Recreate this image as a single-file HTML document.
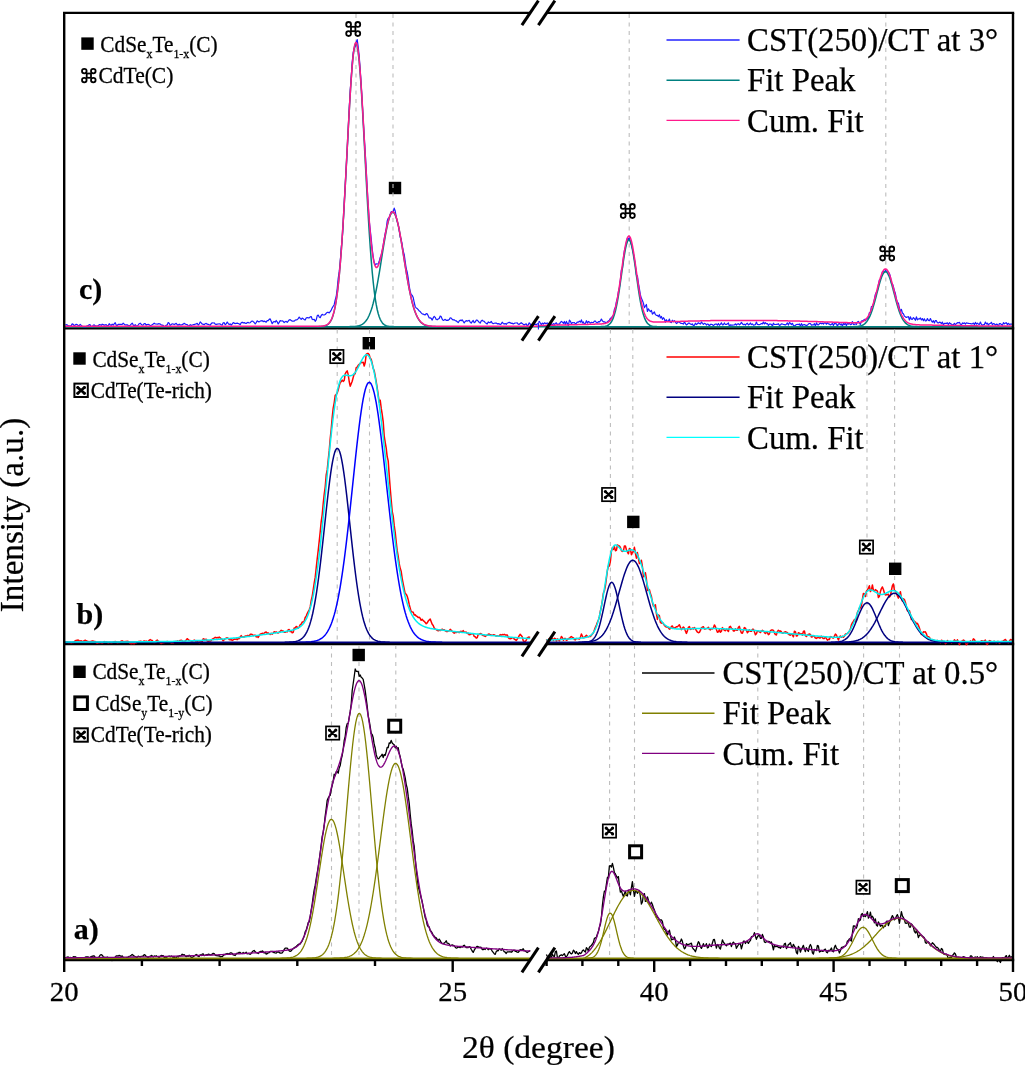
<!DOCTYPE html>
<html lang="en"><head><meta charset="utf-8"><title>XRD patterns</title>
<style>html,body{margin:0;padding:0;background:#fff;overflow:hidden}svg{display:block}text{font-family:'Liberation Serif', 'DejaVu Serif', serif;fill:#000;stroke:#000;stroke-width:0.25px}</style></head>
<body>
<svg width="1025" height="1065" viewBox="0 0 1025 1065" role="img" aria-label="XRD patterns of CST(250)/CT at 0.5, 1 and 3 degree">
<rect x="0" y="0" width="1025" height="1065" fill="#ffffff"/>
<g stroke="#000" stroke-width="2.4" fill="none" stroke-linecap="butt">
<line x1="63" y1="328.4" x2="530.2" y2="328.4"/>
<line x1="546.5" y1="328.4" x2="1014.2" y2="328.4"/>
<line x1="63" y1="644" x2="530.2" y2="644"/>
<line x1="546.5" y1="644" x2="1014.2" y2="644"/>
<line x1="63" y1="960" x2="530.2" y2="960"/>
<line x1="546.5" y1="960" x2="1014.2" y2="960"/>
</g>
<rect x="388.8" y="181.8" width="12.4" height="12.4" fill="#000"/>
<rect x="362.6" y="337" width="12.4" height="12.4" fill="#000"/>
<g stroke="#bdbdbd" stroke-width="1.1" stroke-dasharray="4.1 4.4" fill="none">
<line x1="356" y1="13.9" x2="356" y2="327.4"/>
<line x1="393" y1="13.9" x2="393" y2="327.4"/>
<line x1="629.2" y1="13.9" x2="629.2" y2="327.4"/>
<line x1="885.8" y1="13.9" x2="885.8" y2="327.4"/>
<line x1="337.2" y1="329.4" x2="337.2" y2="643"/>
<line x1="369.5" y1="329.4" x2="369.5" y2="643"/>
<line x1="610.4" y1="329.4" x2="610.4" y2="643"/>
<line x1="632.8" y1="329.4" x2="632.8" y2="643"/>
<line x1="867" y1="329.4" x2="867" y2="643"/>
<line x1="894.6" y1="329.4" x2="894.6" y2="643"/>
<line x1="331.5" y1="645" x2="331.5" y2="959"/>
<line x1="359" y1="645" x2="359" y2="959"/>
<line x1="395.8" y1="645" x2="395.8" y2="959"/>
<line x1="609.6" y1="645" x2="609.6" y2="959"/>
<line x1="634.5" y1="645" x2="634.5" y2="959"/>
<line x1="757.8" y1="645" x2="757.8" y2="959"/>
<line x1="863.6" y1="645" x2="863.6" y2="959"/>
<line x1="899.5" y1="645" x2="899.5" y2="959"/>
</g>
<g fill="none" stroke="#000" stroke-width="1.8">
<rect x="351" y="26.8" width="4.4" height="4.4"/>
<circle cx="348.6" cy="24.4" r="2.4"/>
<circle cx="357.8" cy="24.4" r="2.4"/>
<circle cx="357.8" cy="33.6" r="2.4"/>
<circle cx="348.6" cy="33.6" r="2.4"/>
</g>
<g fill="none" stroke="#000" stroke-width="1.8">
<rect x="625.6" y="208.8" width="4.4" height="4.4"/>
<circle cx="623.2" cy="206.4" r="2.4"/>
<circle cx="632.4" cy="206.4" r="2.4"/>
<circle cx="632.4" cy="215.6" r="2.4"/>
<circle cx="623.2" cy="215.6" r="2.4"/>
</g>
<g fill="none" stroke="#000" stroke-width="1.8">
<rect x="885" y="251.3" width="4.4" height="4.4"/>
<circle cx="882.6" cy="248.9" r="2.4"/>
<circle cx="891.8" cy="248.9" r="2.4"/>
<circle cx="891.8" cy="258.1" r="2.4"/>
<circle cx="882.6" cy="258.1" r="2.4"/>
</g>
<rect x="330.2" y="349.9" width="13.3" height="13.3" fill="#fff" stroke="#000" stroke-width="1.7"/>
<path d="M333.6 353.6L340 359.4M333.6 359.4L340 353.6" stroke="#000" stroke-width="2.2" stroke-linecap="round" fill="none"/>
<circle cx="333.6" cy="353.6" r="1.55" fill="#000"/>
<circle cx="340" cy="353.6" r="1.55" fill="#000"/>
<circle cx="340" cy="359.4" r="1.55" fill="#000"/>
<circle cx="333.6" cy="359.4" r="1.55" fill="#000"/>
<rect x="602" y="487.9" width="13.3" height="13.3" fill="#fff" stroke="#000" stroke-width="1.7"/>
<path d="M605.4 491.6L611.8 497.4M605.4 497.4L611.8 491.6" stroke="#000" stroke-width="2.2" stroke-linecap="round" fill="none"/>
<circle cx="605.4" cy="491.6" r="1.55" fill="#000"/>
<circle cx="611.8" cy="491.6" r="1.55" fill="#000"/>
<circle cx="611.8" cy="497.4" r="1.55" fill="#000"/>
<circle cx="605.4" cy="497.4" r="1.55" fill="#000"/>
<rect x="627.1" y="515.7" width="12.4" height="12.4" fill="#000"/>
<rect x="859.8" y="540.4" width="13.3" height="13.3" fill="#fff" stroke="#000" stroke-width="1.7"/>
<path d="M863.2 544.1L869.6 549.9M863.2 549.9L869.6 544.1" stroke="#000" stroke-width="2.2" stroke-linecap="round" fill="none"/>
<circle cx="863.2" cy="544.1" r="1.55" fill="#000"/>
<circle cx="869.6" cy="544.1" r="1.55" fill="#000"/>
<circle cx="869.6" cy="549.9" r="1.55" fill="#000"/>
<circle cx="863.2" cy="549.9" r="1.55" fill="#000"/>
<rect x="889" y="562.6" width="12.4" height="12.4" fill="#000"/>
<rect x="352.5" y="648.8" width="12.4" height="12.4" fill="#000"/>
<rect x="326" y="726.4" width="13.3" height="13.3" fill="#fff" stroke="#000" stroke-width="1.7"/>
<path d="M329.4 730.1L335.8 735.9M329.4 735.9L335.8 730.1" stroke="#000" stroke-width="2.2" stroke-linecap="round" fill="none"/>
<circle cx="329.4" cy="730.1" r="1.55" fill="#000"/>
<circle cx="335.8" cy="730.1" r="1.55" fill="#000"/>
<circle cx="335.8" cy="735.9" r="1.55" fill="#000"/>
<circle cx="329.4" cy="735.9" r="1.55" fill="#000"/>
<rect x="388.7" y="720.2" width="12" height="12" fill="#fff" stroke="#000" stroke-width="3.0"/>
<rect x="602.8" y="824.4" width="13.3" height="13.3" fill="#fff" stroke="#000" stroke-width="1.7"/>
<path d="M606.2 828.1L612.6 833.9M606.2 833.9L612.6 828.1" stroke="#000" stroke-width="2.2" stroke-linecap="round" fill="none"/>
<circle cx="606.2" cy="828.1" r="1.55" fill="#000"/>
<circle cx="612.6" cy="828.1" r="1.55" fill="#000"/>
<circle cx="612.6" cy="833.9" r="1.55" fill="#000"/>
<circle cx="606.2" cy="833.9" r="1.55" fill="#000"/>
<rect x="629.6" y="845.8" width="12" height="12" fill="#fff" stroke="#000" stroke-width="3.0"/>
<rect x="856.4" y="880.6" width="13.3" height="13.3" fill="#fff" stroke="#000" stroke-width="1.7"/>
<path d="M859.8 884.4L866.2 890.1M859.8 890.1L866.2 884.4" stroke="#000" stroke-width="2.2" stroke-linecap="round" fill="none"/>
<circle cx="859.8" cy="884.4" r="1.55" fill="#000"/>
<circle cx="866.2" cy="884.4" r="1.55" fill="#000"/>
<circle cx="866.2" cy="890.1" r="1.55" fill="#000"/>
<circle cx="859.8" cy="890.1" r="1.55" fill="#000"/>
<rect x="896.3" y="879.6" width="12" height="12" fill="#fff" stroke="#000" stroke-width="3.0"/>
<polyline points="65.2,325 66.2,324.7 67.2,324.9 68.2,325.8 69.2,325.9 70.2,326 71.2,325.6 72.2,323.9 73.2,324.3 74.2,325.7 75.2,325 76.2,324.3 77.2,324.6 78.2,325.5 79.2,325.6 80.2,324.4 81.2,325.4 82.2,326.2 83.2,326.6 84.2,327.2 85.2,327.2 86.2,326.4 87.2,326 88.2,325.6 89.2,324.6 90.2,324.9 91.2,326.8 92.2,327.1 93.2,325.3 94.2,324.8 95.2,325.9 96.2,326.3 97.2,325.9 98.2,326.1 99.2,324.7 100.2,324.6 101.2,325.4 102.2,324.2 103.2,324.6 104.2,325.3 105.2,324.8 106.2,324.7 107.2,325.6 108.2,325.6 109.2,323.7 110.2,324.9 111.2,325.3 112.2,324.1 113.2,325.1 114.2,323.8 115.2,322.7 116.2,325.1 117.2,325.6 118.2,324.3 119.2,324.4 120.2,324.4 121.2,324.3 122.2,324.3 123.2,323.2 124.2,324.1 125.2,325 126.2,324.9 127.2,324.9 128.2,325.4 129.2,326 130.2,325.2 131.2,324.1 132.2,323.1 133.2,324.8 134.2,326.2 135.2,324.7 136.2,325.6 137.2,326.4 138.2,325 139.2,323.7 140.2,323.2 141.2,324.3 142.2,325.1 143.2,325 144.2,323.6 145.2,323.7 146.2,325.1 147.2,324.5 148.2,324.4 149.2,324.8 150.2,325.5 151.2,325.3 152.2,324.8 153.2,324 154.2,323.1 155.2,324 156.2,324 157.2,324.2 158.2,323.9 159.2,323.7 160.2,324 161.2,324.9 162.2,325.1 163.2,325.4 164.2,327.1 165.2,326.1 166.2,325.3 167.2,324.9 168.2,322.6 169.2,323.3 170.2,325.4 171.2,324.6 172.2,323.8 173.2,324 174.2,324.6 175.2,323.9 176.2,323.3 177.2,324.6 178.2,325.1 179.2,324.2 180.2,325 181.2,324.8 182.2,324.6 183.2,324.1 184.2,323.3 185.2,323.9 186.2,324.5 187.2,324.6 188.2,325.7 189.2,326.4 190.2,324.6 191.2,325.4 192.2,325 193.2,324.7 194.2,324.7 195.2,324.1 196.2,324 197.2,323.3 198.2,325 199.2,324.1 200.2,321.9 201.2,322.9 202.2,324.1 203.2,324.2 204.2,324.7 205.2,323.7 206.2,323.4 207.2,324.2 208.2,324.4 209.2,324.8 210.2,325.2 211.2,323.7 212.2,322.8 213.2,323 214.2,322.9 215.2,324.1 216.2,324.4 217.2,324.2 218.2,324 219.2,323.8 220.2,324 221.2,324.8 222.2,325.1 223.2,322.8 224.2,322.7 225.2,324.7 226.2,323.9 227.2,322 228.2,323.3 229.2,324.5 230.2,323.9 231.2,325.1 232.2,324 233.2,322.6 234.2,323.1 235.2,323.6 236.2,323.3 237.2,323.1 238.2,323.5 239.2,323.9 240.2,324.7 241.2,322.8 242.2,322.2 243.2,323 244.2,322.6 245.2,323.1 246.2,323.5 247.2,322.6 248.2,322.4 249.2,323 250.2,322.7 251.2,321.6 252.2,321 253.2,321.6 254.2,322.5 255.2,323.9 256.2,322.6 257.2,320.8 258.2,321.6 259.2,321.9 260.2,321.1 261.2,320.8 262.2,320.6 263.2,321.6 264.2,321.1 265.2,321.6 266.2,322.1 267.2,320.7 268.2,320.6 269.2,319.4 270.2,318.9 271.2,321.2 272.2,323.7 273.2,322.1 274.2,321.5 275.2,322.1 276.2,320.5 277.2,321.8 278.2,324 279.2,322.4 280.2,320.6 281.2,321 282.2,320.9 283.2,321.3 284.2,322.5 285.2,321.8 286.2,321.3 287.2,322.4 288.2,321.1 289.2,319.8 290.2,319.7 291.2,320.4 292.2,321.2 293.2,321.1 294.2,321.2 295.2,320.1 296.2,319.9 297.2,319.7 298.2,318.6 299.2,317.1 300.2,318.4 301.2,319.3 302.2,318.1 303.2,318.7 304.2,319.7 305.2,319.9 306.2,318 307.2,317.5 308.2,317.9 309.2,317.9 310.2,316.9 311.2,316.5 312.2,319.2 313.2,319.6 314.2,319.3 315.2,321.3 316.2,319.9 317.2,315.8 318.2,315.1 319.2,317.1 320.2,317.7 321.2,315.5 322.2,314.3 323.2,315 324.2,314.9 325.2,314.5 326.2,313.3 327.2,312.4 328.2,312.3 329.2,312.9 330.2,311.7 331.2,310.1 332.2,307.9 333.2,306.3 334.2,304.7 335.2,299.9 336.2,296.5 337.2,288.8 338.2,278.3 339.2,271.9 340.2,262.1 341.2,248.6 342.2,239.1 343.2,223.8 344.2,203.3 345.2,185.6 346.2,168.4 347.2,150 348.2,129.6 349.2,108.8 350.2,90.8 351.2,77.5 352.2,62.1 353.2,52.5 354.2,48.5 355.2,46.7 356.2,42.2 357.2,39.6 358.2,46.8 359.2,56.4 360.2,69.8 361.2,84.7 362.2,101.3 363.2,119.2 364.2,136.5 365.2,151.8 366.2,168.8 367.2,188.1 368.2,205.5 369.2,220.3 370.2,229.6 371.2,238.6 372.2,249 373.2,256.5 374.2,262.5 375.2,265 376.2,263.8 377.2,264 378.2,264 379.2,261.3 380.2,257.5 381.2,255.2 382.2,251 383.2,245.1 384.2,238.5 385.2,233.3 386.2,228.8 387.2,221 388.2,218.2 389.2,217.7 390.2,214.3 391.2,211.6 392.2,212.3 393.2,211.6 394.2,208.2 395.2,211 396.2,216.8 397.2,221.3 398.2,224.7 399.2,229.8 400.2,237 401.2,239.3 402.2,244.9 403.2,251.3 404.2,254.4 405.2,261.5 406.2,268.5 407.2,272.1 408.2,278.2 409.2,285.9 410.2,291.5 411.2,294.7 412.2,295.2 413.2,297.4 414.2,302.5 415.2,306.5 416.2,308 417.2,308.6 418.2,309.7 419.2,311 420.2,311.6 421.2,312.9 422.2,313.9 423.2,314.1 424.2,314.7 425.2,314.9 426.2,313.6 427.2,313.9 428.2,315.8 429.2,318 430.2,317.9 431.2,318.4 432.2,320.1 433.2,317.9 434.2,316.3 435.2,317.3 436.2,319.5 437.2,319.8 438.2,319.1 439.2,318.4 440.2,316.1 441.2,316.6 442.2,319.2 443.2,320.5 444.2,320 445.2,319.3 446.2,320.3 447.2,320.2 448.2,320.3 449.2,319.6 450.2,317.9 451.2,318 452.2,319.4 453.2,319.9 454.2,319.8 455.2,320.6 456.2,320.8 457.2,321.7 458.2,322.7 459.2,321 460.2,320.1 461.2,320.7 462.2,319.8 463.2,321.4 464.2,322.9 465.2,321.5 466.2,320.6 467.2,321.1 468.2,320.7 469.2,320.3 470.2,322.1 471.2,323.1 472.2,321.6 473.2,320.5 474.2,322.7 475.2,322.1 476.2,320.2 477.2,320.2 478.2,321.1 479.2,322.4 480.2,323.1 481.2,320.9 482.2,320.2 483.2,321 484.2,321.4 485.2,322.6 486.2,323.4 487.2,323.9 488.2,321.9 489.2,322.6 490.2,322.6 491.2,321.4 492.2,323.1 493.2,323.7 494.2,323.3 495.2,323 496.2,323.1 497.2,323.8 498.2,323.6 499.2,323.8 500.2,324.6 501.2,323.9 502.2,322.2 503.2,323.4 504.2,324.1 505.2,323.5 506.2,324.3 507.2,323.1 508.2,322.8 509.2,322.4 510.2,322.6 511.2,323.5 512.2,323.1 513.2,324 514.2,323.4 515.2,323 516.2,323 517.2,322.9 518.2,324.2 519.2,324.3 520.2,323.5 521.2,322.7 522.2,323.4 523.2,324.2 524.2,324.9 525.2,324.3 526.2,323.9 527.2,325.8 528.2,325 529.2,322.8 530.2,324 531.2,325.6 532.2,325.1 533.2,325.1 534.2,324.3 535.2,324.1 536.2,324.9 537.2,323.9 538.2,323.9" fill="none" stroke="#1a1aff" stroke-width="1.2" stroke-linejoin="round" />
<polyline points="538.4,322.4 539.4,321.5 540.4,323.3 541.4,324.5 542.4,323.1 543.4,324.1 544.4,322.9 545.4,323.4 546.4,323.4 547.4,323 548.4,324.2 549.4,324 550.4,325.3 551.4,323.9 552.4,324.9 553.4,323.6 554.4,324.4 555.4,323.3 556.4,322.9 557.4,324.7 558.4,324.1 559.4,324.2 560.4,322.4 561.4,321.4 562.4,322.2 563.4,323.4 564.4,321.5 565.4,324.5 566.4,321.4 567.4,323.5 568.4,325.7 569.4,320.1 570.4,321.1 571.4,323.8 572.4,322.5 573.4,322.8 574.4,322.5 575.4,324 576.4,323.2 577.4,322 578.4,322.2 579.4,321.1 580.4,322.2 581.4,319.9 582.4,323 583.4,321.9 584.4,324.2 585.4,323.4 586.4,320.7 587.4,323.1 588.4,321.5 589.4,322.1 590.4,323.1 591.4,322.3 592.4,322.5 593.4,322.5 594.4,321.2 595.4,321.2 596.4,322.5 597.4,322.8 598.4,321.6 599.4,322 600.4,320.8 601.4,319.1 602.4,320.9 603.4,321.8 604.4,321.8 605.4,322.4 606.4,322.3 607.4,322 608.4,320.9 609.4,320.3 610.4,318.2 611.4,318.2 612.4,316.4 613.4,315.4 614.4,309.3 615.4,307.4 616.4,301.6 617.4,298.1 618.4,291.6 619.4,287.8 620.4,279.7 621.4,269.6 622.4,268.6 623.4,257.9 624.4,250.6 625.4,247.1 626.4,242 627.4,238 628.4,239.8 629.4,237.9 630.4,241.7 631.4,244.5 632.4,248.8 633.4,253.5 634.4,259.2 635.4,265.3 636.4,274.9 637.4,275.9 638.4,283 639.4,288.8 640.4,294.9 641.4,298.3 642.4,300.5 643.4,303.1 644.4,307.7 645.4,306 646.4,304.5 647.4,311.5 648.4,308.8 649.4,310.3 650.4,311.6 651.4,310.4 652.4,314.1 653.4,313 654.4,312 655.4,314.6 656.4,315.4 657.4,315.3 658.4,316.5 659.4,314.7 660.4,318 661.4,316.5 662.4,319.4 663.4,317.7 664.4,319 665.4,322.2 666.4,319.7 667.4,321.3 668.4,321 669.4,319.1 670.4,322.3 671.4,322.6 672.4,320.2 673.4,321.8 674.4,320.6 675.4,322.1 676.4,323.5 677.4,322.8 678.4,321.7 679.4,322.1 680.4,323.2 681.4,323.3 682.4,323.5 683.4,324.1 684.4,321.6 685.4,323.7 686.4,324.9 687.4,324.3 688.4,323.1 689.4,323.2 690.4,324 691.4,324.6 692.4,323.9 693.4,325.7 694.4,325.3 695.4,323.2 696.4,324.5 697.4,323.7 698.4,322.8 699.4,323.4 700.4,324 701.4,321.9 702.4,323.4 703.4,324.4 704.4,323.3 705.4,323.7 706.4,325 707.4,324 708.4,324.3 709.4,326.1 710.4,324.3 711.4,324.4 712.4,324.5 713.4,325.8 714.4,324.5 715.4,324.1 716.4,324 717.4,325.2 718.4,323.5 719.4,325.3 720.4,324.3 721.4,322.8 722.4,324.8 723.4,324.6 724.4,323 725.4,324.5 726.4,324.4 727.4,323.9 728.4,323 729.4,326.3 730.4,324.9 731.4,325.1 732.4,325.2 733.4,325 734.4,324.9 735.4,323.8 736.4,325 737.4,324 738.4,323.7 739.4,324.8 740.4,324 741.4,322.4 742.4,323.8 743.4,324.7 744.4,324.2 745.4,325 746.4,323.8 747.4,323.2 748.4,324.9 749.4,324.3 750.4,323 751.4,324.6 752.4,323.9 753.4,325.1 754.4,324.9 755.4,324.6 756.4,322 757.4,324.5 758.4,324.6 759.4,324.7 760.4,324.3 761.4,323.5 762.4,323.9 763.4,322.1 764.4,323.9 765.4,322.7 766.4,323.8 767.4,323.5 768.4,325.5 769.4,324.2 770.4,324.2 771.4,324.3 772.4,326.2 773.4,323.2 774.4,324.5 775.4,324.5 776.4,324.4 777.4,324.3 778.4,323.7 779.4,325.4 780.4,325 781.4,323.8 782.4,324 783.4,324.5 784.4,324.7 785.4,324.9 786.4,324.2 787.4,322.9 788.4,325.1 789.4,322.6 790.4,323.3 791.4,324.5 792.4,323.3 793.4,325.5 794.4,325.8 795.4,325.4 796.4,324.5 797.4,324.4 798.4,324.6 799.4,324 800.4,326.2 801.4,323.6 802.4,325.5 803.4,324.8 804.4,324.5 805.4,325.2 806.4,325.4 807.4,325.1 808.4,324.1 809.4,323.5 810.4,323.5 811.4,325.1 812.4,324.9 813.4,325 814.4,323.7 815.4,326.1 816.4,322.9 817.4,324.6 818.4,324.9 819.4,323.8 820.4,323.1 821.4,323.8 822.4,323.1 823.4,324 824.4,322.9 825.4,322.9 826.4,324.2 827.4,322.7 828.4,323.9 829.4,324 830.4,325 831.4,324.4 832.4,323.3 833.4,325.4 834.4,323.4 835.4,323.7 836.4,323.8 837.4,326.2 838.4,324.1 839.4,323.4 840.4,324.8 841.4,323.9 842.4,326.3 843.4,323.3 844.4,324.6 845.4,323.1 846.4,325.7 847.4,323.2 848.4,324.1 849.4,323 850.4,324.7 851.4,324.4 852.4,321.5 853.4,324.5 854.4,324.3 855.4,323.8 856.4,324.4 857.4,322.1 858.4,321.4 859.4,323.6 860.4,324.4 861.4,321.1 862.4,320.7 863.4,320.4 864.4,319.3 865.4,320.6 866.4,318.8 867.4,318.9 868.4,317.4 869.4,312.7 870.4,312.6 871.4,306.5 872.4,306.5 873.4,304.3 874.4,299.1 875.4,294.2 876.4,292.3 877.4,290.9 878.4,284.9 879.4,279.9 880.4,279.4 881.4,276.9 882.4,271.8 883.4,271.3 884.4,272.1 885.4,270.5 886.4,271.4 887.4,270.7 888.4,272.6 889.4,273.3 890.4,276.7 891.4,283.2 892.4,283.7 893.4,286.6 894.4,290.8 895.4,293.5 896.4,299 897.4,302.6 898.4,303 899.4,308 900.4,311.5 901.4,309.4 902.4,313 903.4,313.8 904.4,316.1 905.4,316.9 906.4,317.4 907.4,317 908.4,316.6 909.4,320 910.4,316.8 911.4,319.2 912.4,319.3 913.4,317.6 914.4,318.6 915.4,320.3 916.4,316.8 917.4,319.9 918.4,318.8 919.4,319 920.4,317.9 921.4,320 922.4,318.6 923.4,320.7 924.4,318.8 925.4,321 926.4,320.7 927.4,318.5 928.4,320.4 929.4,320.7 930.4,318.6 931.4,320.8 932.4,322.2 933.4,320.7 934.4,322.9 935.4,320.6 936.4,320.7 937.4,322.7 938.4,322.9 939.4,322.2 940.4,322.4 941.4,323.6 942.4,322.1 943.4,324.9 944.4,323.3 945.4,323.4 946.4,323.4 947.4,322.9 948.4,324.5 949.4,322.7 950.4,323.6 951.4,324.1 952.4,324.9 953.4,324.7 954.4,323.3 955.4,324.6 956.4,323.6 957.4,322.7 958.4,322.8 959.4,322.3 960.4,324.1 961.4,325 962.4,322.9 963.4,323.6 964.4,322.8 965.4,324 966.4,322.8 967.4,323.2 968.4,323.3 969.4,323.5 970.4,323.6 971.4,323.8 972.4,323.8 973.4,323.1 974.4,324.6 975.4,322.4 976.4,324.2 977.4,323.1 978.4,324.2 979.4,324.3 980.4,322.1 981.4,324.4 982.4,325.3 983.4,324.8 984.4,324.4 985.4,322 986.4,323.9 987.4,323.2 988.4,325.1 989.4,323.7 990.4,323.4 991.4,322.3 992.4,324.8 993.4,323.5 994.4,323.8 995.4,325.1 996.4,324.1 997.4,324.4 998.4,326.4 999.4,323.5 1000.4,323.6 1001.4,324.5 1002.4,325.4 1003.4,322.6 1004.4,323.8 1005.4,323.1 1006.4,322.7 1007.4,324.6 1008.4,323.3 1009.4,324.3 1010.4,324.2 1011.4,324.2 1012.4,324.1" fill="none" stroke="#1a1aff" stroke-width="1.2" stroke-linejoin="round" />
<polyline points="317.2,326.7 318.2,326.7 319.2,326.6 320.2,326.6 321.2,326.5 322.2,326.4 323.2,326.3 324.2,326.1 325.2,325.9 326.2,325.5 327.2,324.9 328.2,324.2 329.2,323.2 330.2,321.9 331.2,320.1 332.2,317.9 333.2,314.9 334.2,311.2 335.2,306.6 336.2,300.9 337.2,294 338.2,285.7 339.2,276 340.2,264.8 341.2,252 342.2,237.7 343.2,221.9 344.2,204.9 345.2,186.9 346.2,168.1 347.2,149 348.2,130.1 349.2,111.8 350.2,94.7 351.2,79.3 352.2,66.2 353.2,55.7 354.2,48.2 355.2,44.1 356.2,43.4 357.2,46.1 358.2,52.3 359.2,61.6 360.2,73.8 361.2,88.3 362.2,104.8 363.2,122.7 364.2,141.4 365.2,160.5 366.2,179.4 367.2,197.8 368.2,215.3 369.2,231.6 370.2,246.5 371.2,259.9 372.2,271.7 373.2,282 374.2,290.8 375.2,298.3 376.2,304.4 377.2,309.5 378.2,313.5 379.2,316.8 380.2,319.3 381.2,321.2 382.2,322.7 383.2,323.9 384.2,324.7 385.2,325.3 386.2,325.7 387.2,326 388.2,326.2 389.2,326.4 390.2,326.5 391.2,326.6 392.2,326.6 393.2,326.6 394.2,326.7" fill="none" stroke="#008080" stroke-width="1.5" stroke-linejoin="round" />
<polyline points="348.2,326.7 349.2,326.7 350.2,326.6 351.2,326.6 352.2,326.6 353.2,326.5 354.2,326.5 355.2,326.4 356.2,326.2 357.2,326.1 358.2,325.9 359.2,325.6 360.2,325.3 361.2,324.9 362.2,324.3 363.2,323.6 364.2,322.8 365.2,321.8 366.2,320.5 367.2,319.1 368.2,317.3 369.2,315.2 370.2,312.8 371.2,310 372.2,306.9 373.2,303.3 374.2,299.3 375.2,294.9 376.2,290 377.2,284.8 378.2,279.2 379.2,273.4 380.2,267.3 381.2,261 382.2,254.7 383.2,248.5 384.2,242.4 385.2,236.5 386.2,231.1 387.2,226.1 388.2,221.8 389.2,218.2 390.2,215.4 391.2,213.4 392.2,212.4 393.2,212.3 394.2,213.1 395.2,214.9 396.2,217.5 397.2,221 398.2,225.2 399.2,230 400.2,235.4 401.2,241.2 402.2,247.2 403.2,253.5 404.2,259.8 405.2,266 406.2,272.2 407.2,278.1 408.2,283.7 409.2,289 410.2,293.9 411.2,298.4 412.2,302.5 413.2,306.2 414.2,309.4 415.2,312.3 416.2,314.8 417.2,316.9 418.2,318.7 419.2,320.3 420.2,321.6 421.2,322.6 422.2,323.5 423.2,324.2 424.2,324.8 425.2,325.2 426.2,325.6 427.2,325.8 428.2,326.1 429.2,326.2 430.2,326.3 431.2,326.4 432.2,326.5 433.2,326.6 434.2,326.6 435.2,326.6 436.2,326.7 437.2,326.7" fill="none" stroke="#008080" stroke-width="1.5" stroke-linejoin="round" />
<polyline points="599.4,326.7 600.4,326.7 601.4,326.6 602.4,326.6 603.4,326.5 604.4,326.4 605.4,326.2 606.4,325.9 607.4,325.6 608.4,325 609.4,324.2 610.4,323.2 611.4,321.8 612.4,319.9 613.4,317.6 614.4,314.6 615.4,311 616.4,306.6 617.4,301.5 618.4,295.8 619.4,289.4 620.4,282.5 621.4,275.4 622.4,268.2 623.4,261.2 624.4,254.8 625.4,249.1 626.4,244.7 627.4,241.5 628.4,239.9 629.4,239.9 630.4,241.5 631.4,244.7 632.4,249.1 633.4,254.8 634.4,261.2 635.4,268.2 636.4,275.4 637.4,282.5 638.4,289.4 639.4,295.8 640.4,301.5 641.4,306.6 642.4,311 643.4,314.6 644.4,317.6 645.4,319.9 646.4,321.8 647.4,323.2 648.4,324.2 649.4,325 650.4,325.6 651.4,325.9 652.4,326.2 653.4,326.4 654.4,326.5 655.4,326.6 656.4,326.6 657.4,326.7 658.4,326.7" fill="none" stroke="#008080" stroke-width="1.5" stroke-linejoin="round" />
<polyline points="851.9,326.7 852.9,326.7 853.9,326.6 854.9,326.6 855.9,326.6 856.9,326.5 857.9,326.4 858.9,326.2 859.9,326 860.9,325.8 861.9,325.4 862.9,325 863.9,324.4 864.9,323.6 865.9,322.6 866.9,321.4 867.9,319.9 868.9,318.2 869.9,316.1 870.9,313.7 871.9,310.9 872.9,307.9 873.9,304.6 874.9,301 875.9,297.2 876.9,293.3 877.9,289.5 878.9,285.7 879.9,282.2 880.9,279 881.9,276.3 882.9,274.2 883.9,272.6 884.9,271.8 885.9,271.8 886.9,272.4 887.9,273.8 888.9,275.8 889.9,278.4 890.9,281.5 891.9,285 892.9,288.7 893.9,292.6 894.9,296.4 895.9,300.2 896.9,303.9 897.9,307.2 898.9,310.4 899.9,313.2 900.9,315.6 901.9,317.8 902.9,319.6 903.9,321.1 904.9,322.4 905.9,323.4 906.9,324.2 907.9,324.8 908.9,325.3 909.9,325.7 910.9,326 911.9,326.2 912.9,326.4 913.9,326.5 914.9,326.5 915.9,326.6 916.9,326.6 917.9,326.7 918.9,326.7" fill="none" stroke="#008080" stroke-width="1.5" stroke-linejoin="round" />
<polyline points="64.2,326.7 538.4,326.7" fill="none" stroke="#008080" stroke-width="1.6" stroke-linejoin="round" />
<polyline points="538.4,326.7 1013,326.7" fill="none" stroke="#008080" stroke-width="1.6" stroke-linejoin="round" />
<polyline points="65.2,326.3 65.7,326.3 66.2,326.3 66.7,326.3 67.2,326.3 67.7,326.3 68.2,326.3 68.7,326.3 69.2,326.3 69.7,326.3 70.2,326.3 70.7,326.3 71.2,326.3 71.7,326.3 72.2,326.3 72.7,326.3 73.2,326.3 73.7,326.3 74.2,326.3 74.7,326.3 75.2,326.3 75.7,326.3 76.2,326.3 76.7,326.3 77.2,326.3 77.7,326.3 78.2,326.3 78.7,326.3 79.2,326.3 79.7,326.3 80.2,326.3 80.7,326.3 81.2,326.3 81.7,326.3 82.2,326.3 82.7,326.3 83.2,326.3 83.7,326.3 84.2,326.3 84.7,326.3 85.2,326.3 85.7,326.3 86.2,326.3 86.7,326.3 87.2,326.3 87.7,326.3 88.2,326.3 88.7,326.3 89.2,326.3 89.7,326.3 90.2,326.3 90.7,326.3 91.2,326.3 91.7,326.3 92.2,326.3 92.7,326.3 93.2,326.3 93.7,326.3 94.2,326.3 94.7,326.3 95.2,326.3 95.7,326.3 96.2,326.3 96.7,326.3 97.2,326.3 97.7,326.3 98.2,326.3 98.7,326.3 99.2,326.3 99.7,326.3 100.2,326.3 100.7,326.3 101.2,326.3 101.7,326.3 102.2,326.3 102.7,326.3 103.2,326.3 103.7,326.3 104.2,326.3 104.7,326.3 105.2,326.3 105.7,326.3 106.2,326.3 106.7,326.3 107.2,326.3 107.7,326.3 108.2,326.3 108.7,326.3 109.2,326.3 109.7,326.3 110.2,326.3 110.7,326.3 111.2,326.3 111.7,326.3 112.2,326.3 112.7,326.3 113.2,326.3 113.7,326.3 114.2,326.3 114.7,326.3 115.2,326.3 115.7,326.3 116.2,326.3 116.7,326.3 117.2,326.3 117.7,326.3 118.2,326.3 118.7,326.3 119.2,326.3 119.7,326.3 120.2,326.3 120.7,326.3 121.2,326.3 121.7,326.3 122.2,326.3 122.7,326.3 123.2,326.3 123.7,326.3 124.2,326.3 124.7,326.3 125.2,326.3 125.7,326.3 126.2,326.3 126.7,326.3 127.2,326.3 127.7,326.3 128.2,326.3 128.7,326.3 129.2,326.3 129.7,326.3 130.2,326.3 130.7,326.3 131.2,326.3 131.7,326.3 132.2,326.3 132.7,326.3 133.2,326.3 133.7,326.3 134.2,326.3 134.7,326.3 135.2,326.3 135.7,326.3 136.2,326.3 136.7,326.3 137.2,326.3 137.7,326.3 138.2,326.3 138.7,326.3 139.2,326.3 139.7,326.3 140.2,326.3 140.7,326.3 141.2,326.3 141.7,326.3 142.2,326.3 142.7,326.3 143.2,326.3 143.7,326.3 144.2,326.3 144.7,326.3 145.2,326.3 145.7,326.3 146.2,326.3 146.7,326.3 147.2,326.3 147.7,326.3 148.2,326.3 148.7,326.3 149.2,326.3 149.7,326.3 150.2,326.3 150.7,326.3 151.2,326.3 151.7,326.3 152.2,326.3 152.7,326.3 153.2,326.3 153.7,326.3 154.2,326.3 154.7,326.3 155.2,326.3 155.7,326.3 156.2,326.3 156.7,326.3 157.2,326.3 157.7,326.3 158.2,326.3 158.7,326.3 159.2,326.3 159.7,326.3 160.2,326.3 160.7,326.3 161.2,326.3 161.7,326.3 162.2,326.3 162.7,326.3 163.2,326.3 163.7,326.3 164.2,326.3 164.7,326.3 165.2,326.3 165.7,326.3 166.2,326.3 166.7,326.3 167.2,326.3 167.7,326.3 168.2,326.3 168.7,326.3 169.2,326.3 169.7,326.3 170.2,326.3 170.7,326.3 171.2,326.3 171.7,326.3 172.2,326.3 172.7,326.3 173.2,326.3 173.7,326.3 174.2,326.3 174.7,326.3 175.2,326.3 175.7,326.3 176.2,326.3 176.7,326.3 177.2,326.3 177.7,326.3 178.2,326.3 178.7,326.3 179.2,326.3 179.7,326.3 180.2,326.3 180.7,326.3 181.2,326.3 181.7,326.3 182.2,326.3 182.7,326.3 183.2,326.3 183.7,326.3 184.2,326.3 184.7,326.3 185.2,326.3 185.7,326.3 186.2,326.3 186.7,326.3 187.2,326.3 187.7,326.3 188.2,326.3 188.7,326.3 189.2,326.3 189.7,326.3 190.2,326.3 190.7,326.3 191.2,326.3 191.7,326.3 192.2,326.3 192.7,326.3 193.2,326.3 193.7,326.3 194.2,326.3 194.7,326.3 195.2,326.3 195.7,326.3 196.2,326.3 196.7,326.3 197.2,326.3 197.7,326.3 198.2,326.3 198.7,326.3 199.2,326.3 199.7,326.3 200.2,326.3 200.7,326.3 201.2,326.3 201.7,326.3 202.2,326.3 202.7,326.3 203.2,326.3 203.7,326.3 204.2,326.3 204.7,326.3 205.2,326.3 205.7,326.3 206.2,326.3 206.7,326.3 207.2,326.3 207.7,326.3 208.2,326.3 208.7,326.3 209.2,326.3 209.7,326.3 210.2,326.3 210.7,326.3 211.2,326.3 211.7,326.3 212.2,326.3 212.7,326.3 213.2,326.3 213.7,326.3 214.2,326.3 214.7,326.3 215.2,326.3 215.7,326.3 216.2,326.3 216.7,326.3 217.2,326.3 217.7,326.3 218.2,326.3 218.7,326.3 219.2,326.3 219.7,326.3 220.2,326.3 220.7,326.3 221.2,326.3 221.7,326.3 222.2,326.3 222.7,326.3 223.2,326.3 223.7,326.3 224.2,326.3 224.7,326.3 225.2,326.3 225.7,326.3 226.2,326.3 226.7,326.3 227.2,326.3 227.7,326.3 228.2,326.3 228.7,326.3 229.2,326.3 229.7,326.3 230.2,326.3 230.7,326.3 231.2,326.3 231.7,326.3 232.2,326.3 232.7,326.3 233.2,326.3 233.7,326.3 234.2,326.3 234.7,326.3 235.2,326.3 235.7,326.3 236.2,326.3 236.7,326.3 237.2,326.3 237.7,326.3 238.2,326.3 238.7,326.3 239.2,326.3 239.7,326.3 240.2,326.3 240.7,326.3 241.2,326.3 241.7,326.3 242.2,326.3 242.7,326.3 243.2,326.3 243.7,326.3 244.2,326.3 244.7,326.3 245.2,326.3 245.7,326.3 246.2,326.3 246.7,326.3 247.2,326.3 247.7,326.3 248.2,326.3 248.7,326.3 249.2,326.3 249.7,326.3 250.2,326.3 250.7,326.3 251.2,326.3 251.7,326.3 252.2,326.3 252.7,326.3 253.2,326.3 253.7,326.3 254.2,326.3 254.7,326.3 255.2,326.3 255.7,326.3 256.2,326.3 256.7,326.3 257.2,326.3 257.7,326.3 258.2,326.3 258.7,326.3 259.2,326.3 259.7,326.3 260.2,326.3 260.7,326.3 261.2,326.3 261.7,326.3 262.2,326.3 262.7,326.3 263.2,326.3 263.7,326.3 264.2,326.3 264.7,326.3 265.2,326.3 265.7,326.3 266.2,326.3 266.7,326.3 267.2,326.3 267.7,326.3 268.2,326.3 268.7,326.3 269.2,326.3 269.7,326.3 270.2,326.3 270.7,326.3 271.2,326.3 271.7,326.3 272.2,326.3 272.7,326.3 273.2,326.3 273.7,326.3 274.2,326.3 274.7,326.3 275.2,326.3 275.7,326.3 276.2,326.3 276.7,326.3 277.2,326.3 277.7,326.3 278.2,326.3 278.7,326.3 279.2,326.3 279.7,326.3 280.2,326.3 280.7,326.3 281.2,326.3 281.7,326.3 282.2,326.3 282.7,326.3 283.2,326.3 283.7,326.3 284.2,326.3 284.7,326.3 285.2,326.3 285.7,326.3 286.2,326.3 286.7,326.3 287.2,326.3 287.7,326.3 288.2,326.3 288.7,326.3 289.2,326.3 289.7,326.3 290.2,326.3 290.7,326.3 291.2,326.3 291.7,326.3 292.2,326.3 292.7,326.3 293.2,326.3 293.7,326.3 294.2,326.3 294.7,326.3 295.2,326.3 295.7,326.3 296.2,326.3 296.7,326.3 297.2,326.3 297.7,326.3 298.2,326.3 298.7,326.3 299.2,326.3 299.7,326.3 300.2,326.3 300.7,326.3 301.2,326.3 301.7,326.3 302.2,326.3 302.7,326.3 303.2,326.3 303.7,326.3 304.2,326.3 304.7,326.3 305.2,326.3 305.7,326.3 306.2,326.3 306.7,326.3 307.2,326.3 307.7,326.3 308.2,326.3 308.7,326.3 309.2,326.3 309.7,326.3 310.2,326.3 310.7,326.3 311.2,326.3 311.7,326.3 312.2,326.3 312.7,326.3 313.2,326.3 313.7,326.3 314.2,326.3 314.7,326.3 315.2,326.3 315.7,326.3 316.2,326.3 316.7,326.3 317.2,326.3 317.7,326.3 318.2,326.3 318.7,326.3 319.2,326.3 319.7,326.3 320.2,326.2 320.7,326.2 321.2,326.2 321.7,326.1 322.2,326.1 322.7,326 323.2,326 323.7,325.9 324.2,325.8 324.7,325.7 325.2,325.5 325.7,325.3 326.2,325.1 326.7,324.9 327.2,324.6 327.7,324.3 328.2,323.9 328.7,323.4 329.2,322.9 329.7,322.3 330.2,321.5 330.7,320.7 331.2,319.8 331.7,318.7 332.2,317.5 332.7,316.1 333.2,314.6 333.7,312.8 334.2,310.9 334.7,308.7 335.2,306.2 335.7,303.5 336.2,300.5 336.7,297.2 337.2,293.6 337.7,289.7 338.2,285.4 338.7,280.7 339.2,275.7 339.7,270.2 340.2,264.4 340.7,258.2 341.2,251.7 341.7,244.7 342.2,237.3 342.7,229.6 343.2,221.6 343.7,213.2 344.2,204.6 344.7,195.6 345.2,186.5 345.7,177.2 346.2,167.7 346.7,158.2 347.2,148.6 347.7,139.1 348.2,129.7 348.7,120.4 349.2,111.4 349.7,102.7 350.2,94.3 350.7,86.4 351.2,78.9 351.7,72 352.2,65.7 352.7,60.1 353.2,55.1 353.7,51 354.2,47.6 354.7,45.1 355.2,43.4 355.7,42.5 356.2,42.6 356.7,43.4 357.2,45.2 357.7,47.8 358.2,51.1 358.7,55.3 359.2,60.2 359.7,65.8 360.2,72 360.7,78.8 361.2,86.1 361.7,93.9 362.2,102.1 362.7,110.5 363.2,119.3 363.7,128.2 364.2,137.2 364.7,146.2 365.2,155.2 365.7,164.1 366.2,172.9 366.7,181.5 367.2,189.8 367.7,197.8 368.2,205.5 368.7,212.8 369.2,219.8 369.7,226.2 370.2,232.2 370.7,237.8 371.2,242.9 371.7,247.4 372.2,251.5 372.7,255.1 373.2,258.3 373.7,260.9 374.2,263.1 374.7,264.8 375.2,266.1 375.7,266.9 376.2,267.4 376.7,267.5 377.2,267.2 377.7,266.6 378.2,265.7 378.7,264.5 379.2,263.1 379.7,261.4 380.2,259.5 380.7,257.5 381.2,255.2 381.7,252.9 382.2,250.4 382.7,247.9 383.2,245.3 383.7,242.6 384.2,240 384.7,237.3 385.2,234.7 385.7,232.2 386.2,229.7 386.7,227.4 387.2,225.1 387.7,223 388.2,221 388.7,219.2 389.2,217.5 389.7,216.1 390.2,214.8 390.7,213.8 391.2,212.9 391.7,212.3 392.2,211.9 392.7,211.8 393.2,211.9 393.7,212.2 394.2,212.7 394.7,213.5 395.2,214.5 395.7,215.7 396.2,217.2 396.7,218.8 397.2,220.6 397.7,222.7 398.2,224.8 398.7,227.2 399.2,229.7 399.7,232.3 400.2,235 400.7,237.9 401.2,240.8 401.7,243.8 402.2,246.9 402.7,250 403.2,253.1 403.7,256.3 404.2,259.4 404.7,262.6 405.2,265.7 405.7,268.8 406.2,271.8 406.7,274.8 407.2,277.7 407.7,280.6 408.2,283.4 408.7,286.1 409.2,288.7 409.7,291.2 410.2,293.6 410.7,295.9 411.2,298.1 411.7,300.2 412.2,302.2 412.7,304.1 413.2,305.8 413.7,307.5 414.2,309.1 414.7,310.6 415.2,312 415.7,313.2 416.2,314.4 416.7,315.5 417.2,316.6 417.7,317.5 418.2,318.4 418.7,319.2 419.2,319.9 419.7,320.6 420.2,321.2 420.7,321.8 421.2,322.3 421.7,322.7 422.2,323.1 422.7,323.5 423.2,323.8 423.7,324.1 424.2,324.4 424.7,324.6 425.2,324.9 425.7,325 426.2,325.2 426.7,325.4 427.2,325.5 427.7,325.6 428.2,325.7 428.7,325.8 429.2,325.9 429.7,325.9 430.2,326 430.7,326 431.2,326.1 431.7,326.1 432.2,326.2 432.7,326.2 433.2,326.2 433.7,326.2 434.2,326.3 434.7,326.3 435.2,326.3 435.7,326.3 436.2,326.3 436.7,326.3 437.2,326.3 437.7,326.3 438.2,326.3 438.7,326.3 439.2,326.3 439.7,326.3 440.2,326.3 440.7,326.3 441.2,326.3 441.7,326.3 442.2,326.3 442.7,326.3 443.2,326.3 443.7,326.3 444.2,326.3 444.7,326.3 445.2,326.3 445.7,326.3 446.2,326.3 446.7,326.3 447.2,326.3 447.7,326.3 448.2,326.3 448.7,326.3 449.2,326.3 449.7,326.3 450.2,326.3 450.7,326.3 451.2,326.3 451.7,326.3 452.2,326.3 452.7,326.3 453.2,326.3 453.7,326.3 454.2,326.3 454.7,326.3 455.2,326.3 455.7,326.3 456.2,326.3 456.7,326.3 457.2,326.3 457.7,326.3 458.2,326.3 458.7,326.3 459.2,326.3 459.7,326.3 460.2,326.3 460.7,326.3 461.2,326.3 461.7,326.3 462.2,326.3 462.7,326.3 463.2,326.3 463.7,326.3 464.2,326.3 464.7,326.3 465.2,326.3 465.7,326.3 466.2,326.3 466.7,326.3 467.2,326.3 467.7,326.3 468.2,326.3 468.7,326.3 469.2,326.3 469.7,326.3 470.2,326.3 470.7,326.3 471.2,326.3 471.7,326.3 472.2,326.3 472.7,326.3 473.2,326.3 473.7,326.3 474.2,326.3 474.7,326.3 475.2,326.3 475.7,326.3 476.2,326.3 476.7,326.3 477.2,326.3 477.7,326.3 478.2,326.3 478.7,326.3 479.2,326.3 479.7,326.3 480.2,326.3 480.7,326.3 481.2,326.3 481.7,326.3 482.2,326.3 482.7,326.3 483.2,326.3 483.7,326.3 484.2,326.3 484.7,326.3 485.2,326.3 485.7,326.3 486.2,326.3 486.7,326.3 487.2,326.3 487.7,326.3 488.2,326.3 488.7,326.3 489.2,326.3 489.7,326.3 490.2,326.3 490.7,326.3 491.2,326.3 491.7,326.3 492.2,326.3 492.7,326.3 493.2,326.3 493.7,326.3 494.2,326.3 494.7,326.3 495.2,326.3 495.7,326.3 496.2,326.3 496.7,326.3 497.2,326.3 497.7,326.3 498.2,326.3 498.7,326.3 499.2,326.3 499.7,326.3 500.2,326.3 500.7,326.3 501.2,326.3 501.7,326.3 502.2,326.3 502.7,326.3 503.2,326.3 503.7,326.3 504.2,326.3 504.7,326.3 505.2,326.3 505.7,326.3 506.2,326.3 506.7,326.3 507.2,326.3 507.7,326.3 508.2,326.3 508.7,326.3 509.2,326.3 509.7,326.3 510.2,326.3 510.7,326.3 511.2,326.3 511.7,326.3 512.2,326.3 512.7,326.3 513.2,326.3 513.7,326.3 514.2,326.3 514.7,326.3 515.2,326.3 515.7,326.3 516.2,326.3 516.7,326.3 517.2,326.3 517.7,326.3 518.2,326.3 518.7,326.3 519.2,326.3 519.7,326.3 520.2,326.3 520.7,326.3 521.2,326.3 521.7,326.3 522.2,326.3 522.7,326.3 523.2,326.3 523.7,326.3 524.2,326.3 524.7,326.3 525.2,326.3 525.7,326.3 526.2,326.3 526.7,326.3 527.2,326.3 527.7,326.3 528.2,326.3 528.7,326.3 529.2,326.3 529.7,326.3 530.2,326.3 530.7,326.3 531.2,326.3 531.7,326.3 532.2,326.3 532.7,326.3 533.2,326.3 533.7,326.3 534.2,326.3 534.7,326.3 535.2,326.3 535.7,326.3 536.2,326.3 536.7,326.3 537.2,326.3 537.7,326.3 538.2,326.3 538.7,325.5 539.2,325.5 539.7,325.4 540.2,325.4 540.7,325.4 541.2,325.4 541.7,325.4 542.2,325.4 542.7,325.4 543.2,325.4 543.7,325.4 544.2,325.4 544.7,325.4 545.2,325.4 545.7,325.3 546.2,325.3 546.7,325.3 547.2,325.3 547.7,325.3 548.2,325.3 548.7,325.3 549.2,325.3 549.7,325.3 550.2,325.3 550.7,325.2 551.2,325.2 551.7,325.2 552.2,325.2 552.7,325.2 553.2,325.2 553.7,325.2 554.2,325.2 554.7,325.2 555.2,325.2 555.7,325.1 556.2,325.1 556.7,325.1 557.2,325.1 557.7,325.1 558.2,325.1 558.7,325.1 559.2,325.1 559.7,325.1 560.2,325.1 560.7,325 561.2,325 561.7,325 562.2,325 562.7,325 563.2,325 563.7,325 564.2,325 564.7,325 565.2,324.9 565.7,324.9 566.2,324.9 566.7,324.9 567.2,324.9 567.7,324.9 568.2,324.9 568.7,324.9 569.2,324.8 569.7,324.8 570.2,324.8 570.7,324.8 571.2,324.8 571.7,324.8 572.2,324.8 572.7,324.8 573.2,324.8 573.7,324.7 574.2,324.7 574.7,324.7 575.2,324.7 575.7,324.7 576.2,324.7 576.7,324.7 577.2,324.7 577.7,324.6 578.2,324.6 578.7,324.6 579.2,324.6 579.7,324.6 580.2,324.6 580.7,324.6 581.2,324.5 581.7,324.5 582.2,324.5 582.7,324.5 583.2,324.5 583.7,324.5 584.2,324.5 584.7,324.5 585.2,324.4 585.7,324.4 586.2,324.4 586.7,324.4 587.2,324.4 587.7,324.4 588.2,324.4 588.7,324.3 589.2,324.3 589.7,324.3 590.2,324.3 590.7,324.3 591.2,324.3 591.7,324.3 592.2,324.2 592.7,324.2 593.2,324.2 593.7,324.2 594.2,324.2 594.7,324.2 595.2,324.1 595.7,324.1 596.2,324.1 596.7,324.1 597.2,324.1 597.7,324.1 598.2,324 598.7,324 599.2,324 599.7,324 600.2,324 600.7,323.9 601.2,323.9 601.7,323.9 602.2,323.8 602.7,323.8 603.2,323.7 603.7,323.7 604.2,323.6 604.7,323.5 605.2,323.4 605.7,323.3 606.2,323.1 606.7,322.9 607.2,322.7 607.7,322.5 608.2,322.2 608.7,321.8 609.2,321.4 609.7,321 610.2,320.4 610.7,319.8 611.2,319 611.7,318.2 612.2,317.3 612.7,316.2 613.2,315 613.7,313.6 614.2,312.1 614.7,310.4 615.2,308.5 615.7,306.5 616.2,304.3 616.7,301.9 617.2,299.4 617.7,296.6 618.2,293.7 618.7,290.6 619.2,287.4 619.7,284 620.2,280.6 620.7,277 621.2,273.4 621.7,269.8 622.2,266.2 622.7,262.6 623.2,259.1 623.7,255.8 624.2,252.5 624.7,249.5 625.2,246.7 625.7,244.2 626.2,241.9 626.7,240 627.2,238.5 627.7,237.3 628.2,236.5 628.7,236.1 629.2,236.2 629.7,236.6 630.2,237.4 630.7,238.6 631.2,240.2 631.7,242.2 632.2,244.4 632.7,247 633.2,249.8 633.7,252.8 634.2,256.1 634.7,259.4 635.2,262.9 635.7,266.5 636.2,270 636.7,273.6 637.2,277.2 637.7,280.7 638.2,284.1 638.7,287.4 639.2,290.5 639.7,293.5 640.2,296.4 640.7,299.1 641.2,301.6 641.7,303.9 642.2,306 642.7,308 643.2,309.8 643.7,311.4 644.2,312.8 644.7,314.1 645.2,315.3 645.7,316.3 646.2,317.2 646.7,318 647.2,318.7 647.7,319.2 648.2,319.7 648.7,320.2 649.2,320.5 649.7,320.8 650.2,321.1 650.7,321.3 651.2,321.5 651.7,321.6 652.2,321.7 652.7,321.8 653.2,321.9 653.7,321.9 654.2,322 654.7,322 655.2,322 655.7,322 656.2,322 656.7,322 657.2,322 657.7,322 658.2,322 658.7,322 659.2,322 659.7,322 660.2,322 660.7,322 661.2,321.9 661.7,321.9 662.2,321.9 662.7,321.9 663.2,321.9 663.7,321.9 664.2,321.9 664.7,321.8 665.2,321.8 665.7,321.8 666.2,321.8 666.7,321.8 667.2,321.8 667.7,321.7 668.2,321.7 668.7,321.7 669.2,321.7 669.7,321.7 670.2,321.7 670.7,321.6 671.2,321.6 671.7,321.6 672.2,321.6 672.7,321.6 673.2,321.6 673.7,321.6 674.2,321.5 674.7,321.5 675.2,321.5 675.7,321.5 676.2,321.5 676.7,321.5 677.2,321.4 677.7,321.4 678.2,321.4 678.7,321.4 679.2,321.4 679.7,321.4 680.2,321.4 680.7,321.3 681.2,321.3 681.7,321.3 682.2,321.3 682.7,321.3 683.2,321.3 683.7,321.3 684.2,321.2 684.7,321.2 685.2,321.2 685.7,321.2 686.2,321.2 686.7,321.2 687.2,321.2 687.7,321.2 688.2,321.1 688.7,321.1 689.2,321.1 689.7,321.1 690.2,321.1 690.7,321.1 691.2,321.1 691.7,321 692.2,321 692.7,321 693.2,321 693.7,321 694.2,321 694.7,321 695.2,321 695.7,321 696.2,320.9 696.7,320.9 697.2,320.9 697.7,320.9 698.2,320.9 698.7,320.9 699.2,320.9 699.7,320.9 700.2,320.8 700.7,320.8 701.2,320.8 701.7,320.8 702.2,320.8 702.7,320.8 703.2,320.8 703.7,320.8 704.2,320.8 704.7,320.8 705.2,320.7 705.7,320.7 706.2,320.7 706.7,320.7 707.2,320.7 707.7,320.7 708.2,320.7 708.7,320.7 709.2,320.7 709.7,320.7 710.2,320.7 710.7,320.6 711.2,320.6 711.7,320.6 712.2,320.6 712.7,320.6 713.2,320.6 713.7,320.6 714.2,320.6 714.7,320.6 715.2,320.6 715.7,320.6 716.2,320.6 716.7,320.5 717.2,320.5 717.7,320.5 718.2,320.5 718.7,320.5 719.2,320.5 719.7,320.5 720.2,320.5 720.7,320.5 721.2,320.5 721.7,320.5 722.2,320.5 722.7,320.5 723.2,320.5 723.7,320.5 724.2,320.5 724.7,320.5 725.2,320.4 725.7,320.4 726.2,320.4 726.7,320.4 727.2,320.4 727.7,320.4 728.2,320.4 728.7,320.4 729.2,320.4 729.7,320.4 730.2,320.4 730.7,320.4 731.2,320.4 731.7,320.4 732.2,320.4 732.7,320.4 733.2,320.4 733.7,320.4 734.2,320.4 734.7,320.4 735.2,320.4 735.7,320.4 736.2,320.4 736.7,320.4 737.2,320.4 737.7,320.4 738.2,320.4 738.7,320.4 739.2,320.4 739.7,320.4 740.2,320.4 740.7,320.4 741.2,320.4 741.7,320.4 742.2,320.4 742.7,320.4 743.2,320.4 743.7,320.4 744.2,320.4 744.7,320.4 745.2,320.4 745.7,320.4 746.2,320.4 746.7,320.4 747.2,320.4 747.7,320.4 748.2,320.4 748.7,320.4 749.2,320.4 749.7,320.4 750.2,320.4 750.7,320.4 751.2,320.4 751.7,320.4 752.2,320.4 752.7,320.4 753.2,320.4 753.7,320.4 754.2,320.4 754.7,320.4 755.2,320.4 755.7,320.4 756.2,320.4 756.7,320.4 757.2,320.4 757.7,320.4 758.2,320.4 758.7,320.4 759.2,320.4 759.7,320.4 760.2,320.4 760.7,320.4 761.2,320.4 761.7,320.4 762.2,320.4 762.7,320.4 763.2,320.4 763.7,320.5 764.2,320.5 764.7,320.5 765.2,320.5 765.7,320.5 766.2,320.5 766.7,320.5 767.2,320.5 767.7,320.5 768.2,320.5 768.7,320.5 769.2,320.5 769.7,320.5 770.2,320.5 770.7,320.5 771.2,320.5 771.7,320.6 772.2,320.6 772.7,320.6 773.2,320.6 773.7,320.6 774.2,320.6 774.7,320.6 775.2,320.6 775.7,320.6 776.2,320.6 776.7,320.6 777.2,320.6 777.7,320.7 778.2,320.7 778.7,320.7 779.2,320.7 779.7,320.7 780.2,320.7 780.7,320.7 781.2,320.7 781.7,320.7 782.2,320.7 782.7,320.7 783.2,320.8 783.7,320.8 784.2,320.8 784.7,320.8 785.2,320.8 785.7,320.8 786.2,320.8 786.7,320.8 787.2,320.8 787.7,320.8 788.2,320.9 788.7,320.9 789.2,320.9 789.7,320.9 790.2,320.9 790.7,320.9 791.2,320.9 791.7,320.9 792.2,321 792.7,321 793.2,321 793.7,321 794.2,321 794.7,321 795.2,321 795.7,321 796.2,321 796.7,321.1 797.2,321.1 797.7,321.1 798.2,321.1 798.7,321.1 799.2,321.1 799.7,321.1 800.2,321.2 800.7,321.2 801.2,321.2 801.7,321.2 802.2,321.2 802.7,321.2 803.2,321.2 803.7,321.2 804.2,321.3 804.7,321.3 805.2,321.3 805.7,321.3 806.2,321.3 806.7,321.3 807.2,321.3 807.7,321.4 808.2,321.4 808.7,321.4 809.2,321.4 809.7,321.4 810.2,321.4 810.7,321.4 811.2,321.5 811.7,321.5 812.2,321.5 812.7,321.5 813.2,321.5 813.7,321.5 814.2,321.6 814.7,321.6 815.2,321.6 815.7,321.6 816.2,321.6 816.7,321.6 817.2,321.6 817.7,321.7 818.2,321.7 818.7,321.7 819.2,321.7 819.7,321.7 820.2,321.7 820.7,321.8 821.2,321.8 821.7,321.8 822.2,321.8 822.7,321.8 823.2,321.8 823.7,321.9 824.2,321.9 824.7,321.9 825.2,321.9 825.7,321.9 826.2,321.9 826.7,322 827.2,322 827.7,322 828.2,322 828.7,322 829.2,322 829.7,322 830.2,322.1 830.7,322.1 831.2,322.1 831.7,322.1 832.2,322.1 832.7,322.2 833.2,322.2 833.7,322.2 834.2,322.2 834.7,322.2 835.2,322.2 835.7,322.3 836.2,322.3 836.7,322.3 837.2,322.3 837.7,322.3 838.2,322.3 838.7,322.4 839.2,322.4 839.7,322.4 840.2,322.4 840.7,322.4 841.2,322.4 841.7,322.5 842.2,322.5 842.7,322.5 843.2,322.5 843.7,322.5 844.2,322.5 844.7,322.6 845.2,322.6 845.7,322.6 846.2,322.6 846.7,322.6 847.2,322.6 847.7,322.7 848.2,322.7 848.7,322.7 849.2,322.7 849.7,322.7 850.2,322.7 850.7,322.8 851.2,322.8 851.7,322.8 852.2,322.8 852.7,322.8 853.2,322.8 853.7,322.8 854.2,322.8 854.7,322.8 855.2,322.8 855.7,322.8 856.2,322.8 856.7,322.8 857.2,322.7 857.7,322.7 858.2,322.7 858.7,322.6 859.2,322.5 859.7,322.5 860.2,322.4 860.7,322.3 861.2,322.1 861.7,322 862.2,321.8 862.7,321.5 863.2,321.3 863.7,321 864.2,320.7 864.7,320.3 865.2,319.9 865.7,319.4 866.2,318.9 866.7,318.3 867.2,317.6 867.7,316.9 868.2,316.1 868.7,315.2 869.2,314.3 869.7,313.2 870.2,312.1 870.7,310.9 871.2,309.7 871.7,308.3 872.2,306.9 872.7,305.3 873.2,303.7 873.7,302.1 874.2,300.4 874.7,298.6 875.2,296.8 875.7,294.9 876.2,293 876.7,291.1 877.2,289.1 877.7,287.2 878.2,285.3 878.7,283.5 879.2,281.7 879.7,279.9 880.2,278.3 880.7,276.7 881.2,275.3 881.7,273.9 882.2,272.7 882.7,271.7 883.2,270.8 883.7,270.1 884.2,269.5 884.7,269.2 885.2,269 885.7,269 886.2,269.2 886.7,269.5 887.2,270.1 887.7,270.8 888.2,271.7 888.7,272.7 889.2,273.9 889.7,275.3 890.2,276.7 890.7,278.3 891.2,280 891.7,281.7 892.2,283.5 892.7,285.4 893.2,287.3 893.7,289.3 894.2,291.2 894.7,293.2 895.2,295.1 895.7,297 896.2,298.9 896.7,300.7 897.2,302.5 897.7,304.2 898.2,305.8 898.7,307.4 899.2,308.9 899.7,310.3 900.2,311.6 900.7,312.8 901.2,314 901.7,315.1 902.2,316.1 902.7,317 903.2,317.8 903.7,318.6 904.2,319.3 904.7,319.9 905.2,320.5 905.7,321 906.2,321.5 906.7,321.9 907.2,322.3 907.7,322.6 908.2,322.9 908.7,323.1 909.2,323.4 909.7,323.6 910.2,323.7 910.7,323.9 911.2,324 911.7,324.1 912.2,324.2 912.7,324.3 913.2,324.4 913.7,324.5 914.2,324.5 914.7,324.6 915.2,324.6 915.7,324.7 916.2,324.7 916.7,324.7 917.2,324.7 917.7,324.8 918.2,324.8 918.7,324.8 919.2,324.8 919.7,324.9 920.2,324.9 920.7,324.9 921.2,324.9 921.7,324.9 922.2,324.9 922.7,324.9 923.2,324.9 923.7,325 924.2,325 924.7,325 925.2,325 925.7,325 926.2,325 926.7,325 927.2,325 927.7,325.1 928.2,325.1 928.7,325.1 929.2,325.1 929.7,325.1 930.2,325.1 930.7,325.1 931.2,325.1 931.7,325.1 932.2,325.1 932.7,325.2 933.2,325.2 933.7,325.2 934.2,325.2 934.7,325.2 935.2,325.2 935.7,325.2 936.2,325.2 936.7,325.2 937.2,325.2 937.7,325.3 938.2,325.3 938.7,325.3 939.2,325.3 939.7,325.3 940.2,325.3 940.7,325.3 941.2,325.3 941.7,325.3 942.2,325.3 942.7,325.3 943.2,325.4 943.7,325.4 944.2,325.4 944.7,325.4 945.2,325.4 945.7,325.4 946.2,325.4 946.7,325.4 947.2,325.4 947.7,325.4 948.2,325.4 948.7,325.5 949.2,325.5 949.7,325.5 950.2,325.5 950.7,325.5 951.2,325.5 951.7,325.5 952.2,325.5 952.7,325.5 953.2,325.5 953.7,325.5 954.2,325.5 954.7,325.5 955.2,325.6 955.7,325.6 956.2,325.6 956.7,325.6 957.2,325.6 957.7,325.6 958.2,325.6 958.7,325.6 959.2,325.6 959.7,325.6 960.2,325.6 960.7,325.6 961.2,325.6 961.7,325.7 962.2,325.7 962.7,325.7 963.2,325.7 963.7,325.7 964.2,325.7 964.7,325.7 965.2,325.7 965.7,325.7 966.2,325.7 966.7,325.7 967.2,325.7 967.7,325.7 968.2,325.7 968.7,325.7 969.2,325.7 969.7,325.8 970.2,325.8 970.7,325.8 971.2,325.8 971.7,325.8 972.2,325.8 972.7,325.8 973.2,325.8 973.7,325.8 974.2,325.8 974.7,325.8 975.2,325.8 975.7,325.8 976.2,325.8 976.7,325.8 977.2,325.8 977.7,325.8 978.2,325.9 978.7,325.9 979.2,325.9 979.7,325.9 980.2,325.9 980.7,325.9 981.2,325.9 981.7,325.9 982.2,325.9 982.7,325.9 983.2,325.9 983.7,325.9 984.2,325.9 984.7,325.9 985.2,325.9 985.7,325.9 986.2,325.9 986.7,325.9 987.2,325.9 987.7,325.9 988.2,325.9 988.7,326 989.2,326 989.7,326 990.2,326 990.7,326 991.2,326 991.7,326 992.2,326 992.7,326 993.2,326 993.7,326 994.2,326 994.7,326 995.2,326 995.7,326 996.2,326 996.7,326 997.2,326 997.7,326 998.2,326 998.7,326 999.2,326 999.7,326 1000.2,326 1000.7,326 1001.2,326.1 1001.7,326.1 1002.2,326.1 1002.7,326.1 1003.2,326.1 1003.7,326.1 1004.2,326.1 1004.7,326.1 1005.2,326.1 1005.7,326.1 1006.2,326.1 1006.7,326.1 1007.2,326.1 1007.7,326.1 1008.2,326.1 1008.7,326.1 1009.2,326.1 1009.7,326.1 1010.2,326.1 1010.7,326.1 1011.2,326.1 1011.7,326.1" fill="none" stroke="#ff1a8c" stroke-width="1.5" stroke-linejoin="round" />
<polyline points="65.2,642 66.2,642.1 67.2,642 68.2,642.5 69.2,642.6 70.2,642.5 71.2,642.9 72.2,642.6 73.2,642.6 74.2,641.7 75.2,640.8 76.2,640.5 77.2,640.2 78.2,640.1 79.2,640.6 80.2,640.9 81.2,640.7 82.2,641.6 83.2,641.1 84.2,641 85.2,640.2 86.2,640.8 87.2,641.1 88.2,641.6 89.2,641.7 90.2,641.4 91.2,641.8 92.2,640.9 93.2,641.1 94.2,641.5 95.2,641.6 96.2,642.7 97.2,643.3 98.2,642.8 99.2,642.8 100.2,642.4 101.2,642.7 102.2,643 103.2,642.6 104.2,641.5 105.2,642.3 106.2,642 107.2,642.4 108.2,642.9 109.2,642.4 110.2,642.4 111.2,642.7 112.2,642.6 113.2,642.1 114.2,642.1 115.2,641.5 116.2,641.9 117.2,642.7 118.2,642.3 119.2,642.4 120.2,642.3 121.2,641.1 122.2,640.8 123.2,641.5 124.2,641.8 125.2,641.5 126.2,641.4 127.2,641.2 128.2,641.4 129.2,642.4 130.2,643.4 131.2,643.8 132.2,643.2 133.2,643.5 134.2,643.8 135.2,642.6 136.2,642.9 137.2,642.3 138.2,641.5 139.2,641.5 140.2,641.3 141.2,641.3 142.2,642 143.2,641.5 144.2,641 145.2,641.5 146.2,641.1 147.2,641.6 148.2,641.7 149.2,640.3 150.2,639.6 151.2,640.2 152.2,640.4 153.2,642 154.2,642.5 155.2,642.1 156.2,640.8 157.2,640.1 158.2,641.2 159.2,641.6 160.2,642.9 161.2,643.5 162.2,642.9 163.2,642.7 164.2,642.6 165.2,642 166.2,642 167.2,641.4 168.2,641.9 169.2,642 170.2,642.2 171.2,643 172.2,642.4 173.2,643 174.2,642.3 175.2,641.5 176.2,642 177.2,641 178.2,641.5 179.2,641.2 180.2,640.4 181.2,640.3 182.2,640.6 183.2,641.9 184.2,641.9 185.2,641.1 186.2,640 187.2,638.7 188.2,639.5 189.2,640.5 190.2,640.6 191.2,641 192.2,641.5 193.2,640.8 194.2,640.1 195.2,640.9 196.2,640.7 197.2,641 198.2,642 199.2,642.7 200.2,641.4 201.2,641.5 202.2,641.4 203.2,638.8 204.2,639.1 205.2,639.6 206.2,639.2 207.2,640.9 208.2,641.4 209.2,640.7 210.2,641 211.2,640.6 212.2,639.1 213.2,638.8 214.2,638 215.2,637.3 216.2,637.9 217.2,637.5 218.2,637.9 219.2,637.1 220.2,637.8 221.2,638.7 222.2,639.5 223.2,640.7 224.2,639.8 225.2,638.7 226.2,638.1 227.2,637.8 228.2,638.3 229.2,639.5 230.2,639.8 231.2,639.7 232.2,640.4 233.2,639.8 234.2,639 235.2,639.3 236.2,638.8 237.2,639.6 238.2,638.4 239.2,638.7 240.2,637 241.2,635.6 242.2,636.9 243.2,636.7 244.2,636.9 245.2,636.1 246.2,636.3 247.2,635.6 248.2,635.5 249.2,636.3 250.2,634.3 251.2,634.3 252.2,634.5 253.2,635.5 254.2,635.3 255.2,635.2 256.2,637 257.2,636.1 258.2,637.5 259.2,635.6 260.2,634.1 261.2,633.9 262.2,633.3 263.2,633.4 264.2,633.1 265.2,632.2 266.2,632.1 267.2,633.3 268.2,633 269.2,633.6 270.2,634.5 271.2,633.3 272.2,634.1 273.2,633.2 274.2,631.7 275.2,632.5 276.2,631.9 277.2,632.8 278.2,633 279.2,632.2 280.2,631.3 281.2,630.3 282.2,630.9 283.2,631.1 284.2,632.3 285.2,632.3 286.2,631.6 287.2,631.9 288.2,629.7 289.2,629.6 290.2,631.6 291.2,631.1 292.2,632.8 293.2,632.3 294.2,628 295.2,628.1 296.2,626.5 297.2,627.1 298.2,628.3 299.2,626.8 300.2,624.7 301.2,624.3 302.2,622.1 303.2,622 304.2,621.3 305.2,617.5 306.2,616.1 307.2,613.6 308.2,611.6 309.2,609.8 310.2,606.9 311.2,600.5 312.2,596.3 313.2,589.9 314.2,583.2 315.2,577.4 316.2,568.1 317.2,558.9 318.2,550.7 319.2,541.3 320.2,531.8 321.2,521.5 322.2,514.8 323.2,503.8 324.2,494.4 325.2,487.1 326.2,475 327.2,469.9 328.2,460 329.2,450.9 330.2,438.9 331.2,429.3 332.2,417.6 333.2,408.2 334.2,402.8 335.2,395.3 336.2,394.5 337.2,393 338.2,390 339.2,385.8 340.2,382.5 341.2,381.6 342.2,380.1 343.2,381.4 344.2,380.5 345.2,373.9 346.2,372.1 347.2,370.9 348.2,374.6 349.2,381.5 350.2,386.2 351.2,383.7 352.2,381.3 353.2,377.4 354.2,374 355.2,373.7 356.2,367.6 357.2,367.2 358.2,365.3 359.2,364.4 360.2,363.5 361.2,362.4 362.2,362.4 363.2,362.3 364.2,366.1 365.2,362.5 366.2,354.4 367.2,353.6 368.2,353.5 369.2,354.8 370.2,358.5 371.2,359.2 372.2,363.4 373.2,368.3 374.2,370.7 375.2,375.9 376.2,381.6 377.2,387.9 378.2,394.8 379.2,402.2 380.2,400.2 381.2,408.2 382.2,414.3 383.2,421.8 384.2,435.8 385.2,442.3 386.2,448.1 387.2,456.8 388.2,460.9 389.2,475.1 390.2,488.2 391.2,500.1 392.2,511.3 393.2,516.1 394.2,525.4 395.2,532.4 396.2,541.9 397.2,550.7 398.2,556.4 399.2,563.7 400.2,568.3 401.2,571.5 402.2,578.6 403.2,584 404.2,588.8 405.2,593.8 406.2,594.1 407.2,596.3 408.2,599.6 409.2,604.4 410.2,608.1 411.2,611.8 412.2,611.9 413.2,612.2 414.2,615 415.2,614.7 416.2,616 417.2,616.4 418.2,617.6 419.2,617.2 420.2,618.3 421.2,620.3 422.2,619.3 423.2,620.6 424.2,621.3 425.2,622.4 426.2,623.7 427.2,622.9 428.2,621.1 429.2,620 430.2,619.1 431.2,621.7 432.2,624.3 433.2,625.5 434.2,628 435.2,629.1 436.2,629.5 437.2,630.4 438.2,630.8 439.2,630.1 440.2,630.6 441.2,629.8 442.2,629.2 443.2,629.9 444.2,629.7 445.2,630.7 446.2,631.4 447.2,631.6 448.2,631.2 449.2,630.7 450.2,629.4 451.2,630.4 452.2,631.4 453.2,632.3 454.2,633.2 455.2,632.4 456.2,632.6 457.2,631.9 458.2,632 459.2,632.6 460.2,631.4 461.2,631.3 462.2,632 463.2,630.6 464.2,632.3 465.2,632.3 466.2,632.1 467.2,633.4 468.2,633.3 469.2,634.7 470.2,634.5 471.2,633.9 472.2,633.8 473.2,633.7 474.2,636.5 475.2,636.7 476.2,638.2 477.2,637.7 478.2,634.4 479.2,634.4 480.2,633.5 481.2,633.9 482.2,634.9 483.2,635.5 484.2,635.8 485.2,636.4 486.2,635.6 487.2,635.3 488.2,634.3 489.2,634 490.2,634.8 491.2,635 492.2,635.5 493.2,634.8 494.2,634.8 495.2,635.3 496.2,636.2 497.2,635.7 498.2,636.2 499.2,636 500.2,634.6 501.2,635.1 502.2,634.6 503.2,634.8 504.2,634.3 505.2,634.9 506.2,634.9 507.2,634.9 508.2,637.4 509.2,638.6 510.2,638.8 511.2,638.5 512.2,637.8 513.2,637.8 514.2,639 515.2,639.6 516.2,640.4 517.2,639.2 518.2,637.6 519.2,635.7 520.2,634.3 521.2,635.4 522.2,636.7 523.2,640.6 524.2,641.6 525.2,641.4 526.2,640.3 527.2,637.9 528.2,637.3 529.2,637.1 530.2,637.4" fill="none" stroke="#ff0000" stroke-width="1.5" stroke-linejoin="round" />
<polyline points="546.4,639.4 547.4,641.3 548.4,640.1 549.4,638.3 550.4,640 551.4,638.9 552.4,638.7 553.4,640.4 554.4,638.2 555.4,638.6 556.4,640.9 557.4,638.9 558.4,639.8 559.4,640.7 560.4,639.2 561.4,636.5 562.4,637.8 563.4,640.3 564.4,638.6 565.4,638.4 566.4,640.3 567.4,639.9 568.4,638.5 569.4,638.4 570.4,637.2 571.4,636.6 572.4,637.3 573.4,637.9 574.4,639.5 575.4,639.9 576.4,638.4 577.4,638.6 578.4,638.7 579.4,639 580.4,637.4 581.4,634 582.4,636 583.4,637.8 584.4,637.5 585.4,636.3 586.4,635.4 587.4,636.4 588.4,636.8 589.4,636.3 590.4,636.6 591.4,635.2 592.4,633.9 593.4,632.8 594.4,630.1 595.4,627.3 596.4,625 597.4,622.2 598.4,620 599.4,616.7 600.4,611 601.4,606.6 602.4,600.4 603.4,593 604.4,590.8 605.4,585.8 606.4,578.5 607.4,570.5 608.4,566 609.4,566.1 610.4,561.1 611.4,551.2 612.4,547.6 613.4,549.4 614.4,546.4 615.4,550.7 616.4,550.4 617.4,545 618.4,545.6 619.4,546 620.4,547.5 621.4,550.6 622.4,551.4 623.4,551.1 624.4,545.9 625.4,545.9 626.4,549.8 627.4,551.9 628.4,553.8 629.4,548.5 630.4,549.1 631.4,554.7 632.4,552.4 633.4,551.6 634.4,547.3 635.4,553 636.4,558.2 637.4,552.6 638.4,558.1 639.4,563.6 640.4,562.6 641.4,560.3 642.4,566.5 643.4,576.8 644.4,576 645.4,572.8 646.4,579.2 647.4,590.4 648.4,590.2 649.4,589.6 650.4,593.6 651.4,596.5 652.4,602.4 653.4,606 654.4,605.5 655.4,604.8 656.4,613.4 657.4,619.4 658.4,614.9 659.4,615.8 660.4,622.4 661.4,623.2 662.4,622.5 663.4,623.8 664.4,625.3 665.4,626.4 666.4,627.1 667.4,626.8 668.4,627.8 669.4,629.1 670.4,628.5 671.4,626.5 672.4,626 673.4,628.2 674.4,628.1 675.4,627.5 676.4,626.8 677.4,626.7 678.4,625.8 679.4,624.7 680.4,627.2 681.4,629.6 682.4,628.3 683.4,627 684.4,628.3 685.4,631 686.4,633.4 687.4,630.9 688.4,627.3 689.4,626.6 690.4,629.4 691.4,629 692.4,628 693.4,628.9 694.4,627.5 695.4,629.1 696.4,630.5 697.4,632.2 698.4,632.7 699.4,632.3 700.4,630.4 701.4,627.8 702.4,627.2 703.4,626.7 704.4,628.9 705.4,628.9 706.4,628.6 707.4,628.2 708.4,627.2 709.4,629.4 710.4,629.9 711.4,628.5 712.4,628.9 713.4,627.8 714.4,625 715.4,626.7 716.4,629.6 717.4,632.2 718.4,631.9 719.4,629.5 720.4,632.3 721.4,631.3 722.4,627.6 723.4,629 724.4,630.4 725.4,630.7 726.4,629.2 727.4,630 728.4,631.5 729.4,626.8 730.4,626.3 731.4,628.4 732.4,628.7 733.4,631 734.4,630.9 735.4,628.8 736.4,630.2 737.4,630.3 738.4,627.3 739.4,626.4 740.4,630.3 741.4,633.1 742.4,633.2 743.4,630.5 744.4,627.6 745.4,628.1 746.4,630.2 747.4,632.8 748.4,631.6 749.4,629.9 750.4,631.2 751.4,631.3 752.4,629.3 753.4,629.3 754.4,631.6 755.4,634.8 756.4,633.8 757.4,630.9 758.4,631 759.4,631.8 760.4,632.5 761.4,631 762.4,630.3 763.4,631.1 764.4,632.4 765.4,633.5 766.4,632.1 767.4,632.7 768.4,634.6 769.4,633.8 770.4,630.7 771.4,630.1 772.4,629.9 773.4,630.4 774.4,632.8 775.4,634.5 776.4,634.9 777.4,631.4 778.4,630.3 779.4,631.3 780.4,630.9 781.4,631.9 782.4,633.2 783.4,633.1 784.4,632.1 785.4,631.8 786.4,632.1 787.4,632.6 788.4,634.2 789.4,634.8 790.4,635.2 791.4,633.7 792.4,635.2 793.4,636.8 794.4,631.3 795.4,631.6 796.4,636 797.4,635.7 798.4,632.8 799.4,633.1 800.4,634 801.4,633.8 802.4,635.1 803.4,631.5 804.4,631 805.4,635.6 806.4,636.4 807.4,635.3 808.4,634.4 809.4,634 810.4,634.4 811.4,637.1 812.4,636.7 813.4,635.5 814.4,636.5 815.4,638 816.4,638.4 817.4,637.6 818.4,637.1 819.4,638 820.4,638 821.4,636.2 822.4,637.6 823.4,638.6 824.4,638.4 825.4,636.7 826.4,638.7 827.4,640.2 828.4,639.2 829.4,639.4 830.4,636.6 831.4,636.9 832.4,637.8 833.4,638.1 834.4,636.1 835.4,634.1 836.4,635 837.4,637.5 838.4,640 839.4,637.2 840.4,636 841.4,637.3 842.4,636.4 843.4,637.2 844.4,636.2 845.4,634.1 846.4,633.7 847.4,633.6 848.4,632.4 849.4,631.2 850.4,629.1 851.4,624.8 852.4,622.8 853.4,621.4 854.4,619.5 855.4,622 856.4,619.1 857.4,612.3 858.4,610.7 859.4,607.9 860.4,607.9 861.4,605.7 862.4,599.4 863.4,593.4 864.4,593.8 865.4,596.6 866.4,591.2 867.4,590 868.4,588.1 869.4,585.8 870.4,591.6 871.4,589.8 872.4,585 873.4,590.3 874.4,591.2 875.4,589.6 876.4,590.4 877.4,591.1 878.4,597.6 879.4,596.3 880.4,591.6 881.4,588.6 882.4,587 883.4,589.5 884.4,593 885.4,595 886.4,594.6 887.4,594.7 888.4,594.2 889.4,597.1 890.4,595.8 891.4,590.5 892.4,585.6 893.4,584 894.4,590.2 895.4,591 896.4,593 897.4,596 898.4,598.1 899.4,595.2 900.4,591.7 901.4,598.2 902.4,601 903.4,598.7 904.4,599.6 905.4,602.5 906.4,607 907.4,610.8 908.4,611.1 909.4,610.6 910.4,614.2 911.4,619.5 912.4,618.3 913.4,619.9 914.4,621.9 915.4,621.9 916.4,623.9 917.4,623.4 918.4,625.3 919.4,628 920.4,631.5 921.4,634.5 922.4,633.6 923.4,631.8 924.4,631.9 925.4,631.8 926.4,633.8 927.4,636.9 928.4,636.7 929.4,637.4 930.4,639 931.4,640.4 932.4,639.6 933.4,639.9 934.4,640.6 935.4,641.2 936.4,640.8 937.4,640.5 938.4,640.9 939.4,641.5 940.4,642.8 941.4,640.3 942.4,640.7 943.4,641.8 944.4,641.5 945.4,643.7 946.4,643 947.4,640.5 948.4,641.9 949.4,641.7 950.4,641.5 951.4,642.9 952.4,642.2 953.4,641.9 954.4,639.8 955.4,640.7 956.4,642.1 957.4,639.8 958.4,642.2 959.4,644.7 960.4,642.4 961.4,641.3 962.4,641.5 963.4,640 964.4,640.7 965.4,642.7 966.4,644.8 967.4,643.7 968.4,642 969.4,642 970.4,640.9 971.4,642.4 972.4,641.1 973.4,638.9 974.4,639.7 975.4,641.7 976.4,642.9 977.4,642.3 978.4,642.3 979.4,642.8 980.4,642.1 981.4,640.8 982.4,640.9 983.4,641.6 984.4,640.7 985.4,640.1 986.4,643.7 987.4,644.5 988.4,642.1 989.4,640.6 990.4,640.9 991.4,641.9 992.4,642.3 993.4,641.5 994.4,641.3 995.4,642.4 996.4,642.7 997.4,641.6 998.4,641.4 999.4,643.4 1000.4,642.4 1001.4,641.5 1002.4,641.8 1003.4,640.8 1004.4,640.1 1005.4,639.5 1006.4,641.1 1007.4,642.1 1008.4,642.8 1009.4,641.1 1010.4,639.6 1011.4,639.8 1012.4,640.5" fill="none" stroke="#ff0000" stroke-width="1.5" stroke-linejoin="round" />
<polyline points="284.7,642.3 285.7,642.3 286.7,642.2 287.7,642.2 288.7,642.2 289.7,642.1 290.7,642.1 291.7,642 292.7,641.9 293.7,641.8 294.7,641.7 295.7,641.5 296.7,641.2 297.7,640.9 298.7,640.5 299.7,640 300.7,639.4 301.7,638.7 302.7,637.8 303.7,636.8 304.7,635.5 305.7,633.9 306.7,632.1 307.7,630 308.7,627.5 309.7,624.7 310.7,621.4 311.7,617.7 312.7,613.5 313.7,608.7 314.7,603.5 315.7,597.7 316.7,591.3 317.7,584.4 318.7,577 319.7,569.2 320.7,560.8 321.7,552.2 322.7,543.2 323.7,534 324.7,524.6 325.7,515.3 326.7,506.1 327.7,497.2 328.7,488.6 329.7,480.6 330.7,473.2 331.7,466.5 332.7,460.8 333.7,456.1 334.7,452.4 335.7,449.9 336.7,448.5 337.7,448.4 338.7,449.5 339.7,451.8 340.7,455.2 341.7,459.8 342.7,465.3 343.7,471.8 344.7,479 345.7,487 346.7,495.4 347.7,504.3 348.7,513.5 349.7,522.8 350.7,532.1 351.7,541.3 352.7,550.4 353.7,559.1 354.7,567.5 355.7,575.5 356.7,583 357.7,590 358.7,596.4 359.7,602.4 360.7,607.7 361.7,612.6 362.7,616.9 363.7,620.7 364.7,624.1 365.7,627 366.7,629.5 367.7,631.7 368.7,633.6 369.7,635.2 370.7,636.5 371.7,637.6 372.7,638.6 373.7,639.3 374.7,639.9 375.7,640.4 376.7,640.8 377.7,641.2 378.7,641.4 379.7,641.6 380.7,641.8 381.7,641.9 382.7,642 383.7,642.1 384.7,642.1 385.7,642.2 386.7,642.2 387.7,642.2 388.7,642.3 389.7,642.3" fill="none" stroke="#000080" stroke-width="1.5" stroke-linejoin="round" />
<polyline points="299.2,642.3 300.2,642.3 301.2,642.2 302.2,642.2 303.2,642.2 304.2,642.2 305.2,642.2 306.2,642.1 307.2,642.1 308.2,642 309.2,642 310.2,641.9 311.2,641.8 312.2,641.6 313.2,641.5 314.2,641.3 315.2,641.1 316.2,640.8 317.2,640.5 318.2,640.1 319.2,639.7 320.2,639.1 321.2,638.5 322.2,637.8 323.2,637 324.2,636 325.2,634.9 326.2,633.6 327.2,632.1 328.2,630.4 329.2,628.5 330.2,626.4 331.2,624 332.2,621.3 333.2,618.2 334.2,614.9 335.2,611.2 336.2,607.1 337.2,602.7 338.2,597.8 339.2,592.5 340.2,586.8 341.2,580.7 342.2,574.1 343.2,567.2 344.2,559.8 345.2,552 346.2,543.9 347.2,535.4 348.2,526.6 349.2,517.6 350.2,508.3 351.2,498.9 352.2,489.4 353.2,479.8 354.2,470.3 355.2,460.9 356.2,451.7 357.2,442.7 358.2,434.1 359.2,425.9 360.2,418.2 361.2,411.1 362.2,404.7 363.2,398.9 364.2,394 365.2,389.8 366.2,386.6 367.2,384.2 368.2,382.8 369.2,382.3 370.2,382.7 371.2,384 372.2,386.2 373.2,389.2 374.2,392.9 375.2,397.5 376.2,402.7 377.2,408.7 378.2,415.2 379.2,422.3 380.2,429.9 381.2,437.9 382.2,446.3 383.2,454.9 384.2,463.8 385.2,472.8 386.2,481.9 387.2,491 388.2,500 389.2,509 390.2,517.8 391.2,526.5 392.2,534.9 393.2,543 394.2,550.8 395.2,558.3 396.2,565.4 397.2,572.1 398.2,578.5 399.2,584.5 400.2,590.1 401.2,595.3 402.2,600.1 403.2,604.6 404.2,608.7 405.2,612.5 406.2,615.9 407.2,619 408.2,621.8 409.2,624.3 410.2,626.6 411.2,628.7 412.2,630.5 413.2,632.1 414.2,633.5 415.2,634.7 416.2,635.8 417.2,636.8 418.2,637.6 419.2,638.3 420.2,638.9 421.2,639.5 422.2,639.9 423.2,640.3 424.2,640.6 425.2,640.9 426.2,641.2 427.2,641.4 428.2,641.5 429.2,641.7 430.2,641.8 431.2,641.9 432.2,642 433.2,642 434.2,642.1 435.2,642.1 436.2,642.2 437.2,642.2 438.2,642.2 439.2,642.2 440.2,642.2 441.2,642.3 442.2,642.3" fill="none" stroke="#0000ff" stroke-width="1.5" stroke-linejoin="round" />
<polyline points="581.9,642.3 582.9,642.3 583.9,642.2 584.9,642.2 585.9,642.1 586.9,642 587.9,641.9 588.9,641.6 589.9,641.3 590.9,640.9 591.9,640.3 592.9,639.5 593.9,638.4 594.9,637.1 595.9,635.4 596.9,633.3 597.9,630.8 598.9,627.8 599.9,624.3 600.9,620.4 601.9,616.2 602.9,611.6 603.9,606.9 604.9,602.1 605.9,597.5 606.9,593.1 607.9,589.4 608.9,586.2 609.9,584 610.9,582.6 611.9,582.3 612.9,583 613.9,584.8 614.9,587.4 615.9,590.8 616.9,594.8 617.9,599.3 618.9,604 619.9,608.8 620.9,613.5 621.9,617.9 622.9,622 623.9,625.8 624.9,629 625.9,631.8 626.9,634.2 627.9,636.1 628.9,637.7 629.9,638.9 630.9,639.8 631.9,640.5 632.9,641.1 633.9,641.5 634.9,641.7 635.9,641.9 636.9,642.1 637.9,642.1 638.9,642.2 639.9,642.2 640.9,642.3" fill="none" stroke="#000080" stroke-width="1.5" stroke-linejoin="round" />
<polyline points="578.4,642.3 579.4,642.3 580.4,642.2 581.4,642.2 582.4,642.2 583.4,642.2 584.4,642.1 585.4,642.1 586.4,642 587.4,641.9 588.4,641.9 589.4,641.7 590.4,641.6 591.4,641.4 592.4,641.2 593.4,640.9 594.4,640.6 595.4,640.3 596.4,639.8 597.4,639.3 598.4,638.7 599.4,638 600.4,637.2 601.4,636.3 602.4,635.2 603.4,634 604.4,632.6 605.4,631 606.4,629.3 607.4,627.4 608.4,625.3 609.4,623 610.4,620.5 611.4,617.9 612.4,615 613.4,612 614.4,608.8 615.4,605.5 616.4,602 617.4,598.5 618.4,594.9 619.4,591.3 620.4,587.7 621.4,584.2 622.4,580.7 623.4,577.4 624.4,574.3 625.4,571.4 626.4,568.7 627.4,566.4 628.4,564.4 629.4,562.8 630.4,561.5 631.4,560.7 632.4,560.3 633.4,560.4 634.4,560.9 635.4,561.8 636.4,563.1 637.4,564.8 638.4,566.8 639.4,569.2 640.4,571.9 641.4,574.9 642.4,578 643.4,581.4 644.4,584.9 645.4,588.4 646.4,592 647.4,595.6 648.4,599.2 649.4,602.7 650.4,606.2 651.4,609.5 652.4,612.6 653.4,615.6 654.4,618.4 655.4,621.1 656.4,623.5 657.4,625.8 658.4,627.8 659.4,629.7 660.4,631.4 661.4,632.9 662.4,634.2 663.4,635.4 664.4,636.5 665.4,637.4 666.4,638.2 667.4,638.8 668.4,639.4 669.4,639.9 670.4,640.3 671.4,640.7 672.4,641 673.4,641.3 674.4,641.5 675.4,641.6 676.4,641.8 677.4,641.9 678.4,642 679.4,642 680.4,642.1 681.4,642.1 682.4,642.2 683.4,642.2 684.4,642.2 685.4,642.2 686.4,642.3 687.4,642.3" fill="none" stroke="#000080" stroke-width="1.5" stroke-linejoin="round" />
<polyline points="830.9,642.3 831.9,642.3 832.9,642.2 833.9,642.2 834.9,642.2 835.9,642.1 836.9,642 837.9,641.9 838.9,641.8 839.9,641.6 840.9,641.4 841.9,641.1 842.9,640.7 843.9,640.2 844.9,639.7 845.9,638.9 846.9,638.1 847.9,637.1 848.9,635.9 849.9,634.5 850.9,632.9 851.9,631.1 852.9,629.2 853.9,627 854.9,624.7 855.9,622.3 856.9,619.9 857.9,617.3 858.9,614.8 859.9,612.4 860.9,610.2 861.9,608.1 862.9,606.3 863.9,604.8 864.9,603.8 865.9,603.1 866.9,602.8 867.9,603 868.9,603.6 869.9,604.6 870.9,606 871.9,607.7 872.9,609.7 873.9,612 874.9,614.3 875.9,616.8 876.9,619.4 877.9,621.8 878.9,624.3 879.9,626.6 880.9,628.8 881.9,630.8 882.9,632.6 883.9,634.2 884.9,635.6 885.9,636.8 886.9,637.9 887.9,638.8 888.9,639.5 889.9,640.1 890.9,640.6 891.9,641 892.9,641.3 893.9,641.6 894.9,641.8 895.9,641.9 896.9,642 897.9,642.1 898.9,642.2 899.9,642.2 900.9,642.2 901.9,642.3 902.9,642.3" fill="none" stroke="#000080" stroke-width="1.5" stroke-linejoin="round" />
<polyline points="838.9,642.3 839.9,642.3 840.9,642.2 841.9,642.2 842.9,642.2 843.9,642.2 844.9,642.2 845.9,642.1 846.9,642.1 847.9,642 848.9,641.9 849.9,641.8 850.9,641.7 851.9,641.6 852.9,641.5 853.9,641.3 854.9,641.1 855.9,640.8 856.9,640.5 857.9,640.2 858.9,639.8 859.9,639.4 860.9,638.8 861.9,638.3 862.9,637.6 863.9,636.9 864.9,636 865.9,635.1 866.9,634.1 867.9,633 868.9,631.7 869.9,630.4 870.9,629 871.9,627.4 872.9,625.8 873.9,624.1 874.9,622.3 875.9,620.4 876.9,618.4 877.9,616.5 878.9,614.4 879.9,612.4 880.9,610.3 881.9,608.3 882.9,606.3 883.9,604.4 884.9,602.6 885.9,600.9 886.9,599.3 887.9,597.8 888.9,596.6 889.9,595.5 890.9,594.6 891.9,594 892.9,593.5 893.9,593.3 894.9,593.3 895.9,593.6 896.9,594.1 897.9,594.8 898.9,595.7 899.9,596.8 900.9,598.1 901.9,599.6 902.9,601.2 903.9,602.9 904.9,604.8 905.9,606.7 906.9,608.7 907.9,610.7 908.9,612.8 909.9,614.8 910.9,616.9 911.9,618.8 912.9,620.8 913.9,622.6 914.9,624.4 915.9,626.1 916.9,627.8 917.9,629.3 918.9,630.7 919.9,632 920.9,633.2 921.9,634.3 922.9,635.3 923.9,636.2 924.9,637 925.9,637.7 926.9,638.4 927.9,639 928.9,639.5 929.9,639.9 930.9,640.3 931.9,640.6 932.9,640.9 933.9,641.1 934.9,641.3 935.9,641.5 936.9,641.6 937.9,641.8 938.9,641.9 939.9,642 940.9,642 941.9,642.1 942.9,642.1 943.9,642.2 944.9,642.2 945.9,642.2 946.9,642.2 947.9,642.2 948.9,642.3 949.9,642.3" fill="none" stroke="#000080" stroke-width="1.5" stroke-linejoin="round" />
<polyline points="64.2,642.3 530.2,642.3" fill="none" stroke="#000080" stroke-width="1.8" stroke-linejoin="round" />
<polyline points="546.5,642.3 1013,642.3" fill="none" stroke="#000080" stroke-width="1.8" stroke-linejoin="round" />
<polyline points="65.2,642 65.7,642 66.2,642 66.7,642 67.2,642 67.7,642 68.2,642 68.7,642 69.2,642 69.7,642 70.2,642 70.7,642 71.2,642 71.7,642 72.2,642 72.7,642 73.2,642 73.7,642 74.2,642 74.7,642 75.2,642 75.7,642 76.2,642 76.7,642 77.2,642 77.7,642 78.2,642 78.7,642 79.2,642 79.7,642 80.2,642 80.7,642 81.2,642 81.7,642 82.2,642 82.7,642 83.2,642 83.7,642 84.2,642 84.7,642 85.2,642 85.7,642 86.2,642 86.7,642 87.2,642 87.7,642 88.2,642 88.7,642 89.2,642 89.7,642 90.2,642 90.7,642 91.2,642 91.7,642 92.2,642 92.7,642 93.2,642 93.7,642 94.2,642 94.7,642 95.2,642 95.7,642 96.2,642 96.7,642 97.2,642 97.7,642 98.2,642 98.7,642 99.2,642 99.7,642 100.2,642 100.7,642 101.2,642 101.7,642 102.2,642 102.7,642 103.2,642 103.7,642 104.2,642 104.7,642 105.2,642 105.7,642 106.2,642 106.7,642 107.2,642 107.7,642 108.2,642 108.7,642 109.2,642 109.7,642 110.2,642 110.7,642 111.2,642 111.7,641.9 112.2,641.9 112.7,641.9 113.2,641.9 113.7,641.9 114.2,641.9 114.7,641.9 115.2,641.9 115.7,641.9 116.2,641.9 116.7,641.9 117.2,641.9 117.7,641.9 118.2,641.9 118.7,641.9 119.2,641.9 119.7,641.9 120.2,641.9 120.7,641.9 121.2,641.9 121.7,641.9 122.2,641.9 122.7,641.9 123.2,641.9 123.7,641.9 124.2,641.9 124.7,641.9 125.2,641.9 125.7,641.9 126.2,641.9 126.7,641.9 127.2,641.9 127.7,641.9 128.2,641.9 128.7,641.9 129.2,641.9 129.7,641.9 130.2,641.9 130.7,641.9 131.2,641.9 131.7,641.9 132.2,641.9 132.7,641.9 133.2,641.9 133.7,641.9 134.2,641.9 134.7,641.9 135.2,641.9 135.7,641.9 136.2,641.8 136.7,641.8 137.2,641.8 137.7,641.8 138.2,641.8 138.7,641.8 139.2,641.8 139.7,641.8 140.2,641.8 140.7,641.8 141.2,641.8 141.7,641.8 142.2,641.8 142.7,641.8 143.2,641.8 143.7,641.8 144.2,641.8 144.7,641.8 145.2,641.8 145.7,641.8 146.2,641.8 146.7,641.8 147.2,641.8 147.7,641.8 148.2,641.7 148.7,641.7 149.2,641.7 149.7,641.7 150.2,641.7 150.7,641.7 151.2,641.7 151.7,641.7 152.2,641.7 152.7,641.7 153.2,641.7 153.7,641.7 154.2,641.7 154.7,641.7 155.2,641.7 155.7,641.7 156.2,641.7 156.7,641.6 157.2,641.6 157.7,641.6 158.2,641.6 158.7,641.6 159.2,641.6 159.7,641.6 160.2,641.6 160.7,641.6 161.2,641.6 161.7,641.6 162.2,641.6 162.7,641.6 163.2,641.5 163.7,641.5 164.2,641.5 164.7,641.5 165.2,641.5 165.7,641.5 166.2,641.5 166.7,641.5 167.2,641.5 167.7,641.5 168.2,641.5 168.7,641.4 169.2,641.4 169.7,641.4 170.2,641.4 170.7,641.4 171.2,641.4 171.7,641.4 172.2,641.4 172.7,641.4 173.2,641.4 173.7,641.3 174.2,641.3 174.7,641.3 175.2,641.3 175.7,641.3 176.2,641.3 176.7,641.3 177.2,641.3 177.7,641.2 178.2,641.2 178.7,641.2 179.2,641.2 179.7,641.2 180.2,641.2 180.7,641.2 181.2,641.1 181.7,641.1 182.2,641.1 182.7,641.1 183.2,641.1 183.7,641.1 184.2,641 184.7,641 185.2,641 185.7,641 186.2,641 186.7,641 187.2,641 187.7,640.9 188.2,640.9 188.7,640.9 189.2,640.9 189.7,640.9 190.2,640.8 190.7,640.8 191.2,640.8 191.7,640.8 192.2,640.8 192.7,640.7 193.2,640.7 193.7,640.7 194.2,640.7 194.7,640.7 195.2,640.6 195.7,640.6 196.2,640.6 196.7,640.6 197.2,640.6 197.7,640.5 198.2,640.5 198.7,640.5 199.2,640.5 199.7,640.4 200.2,640.4 200.7,640.4 201.2,640.4 201.7,640.3 202.2,640.3 202.7,640.3 203.2,640.3 203.7,640.2 204.2,640.2 204.7,640.2 205.2,640.2 205.7,640.1 206.2,640.1 206.7,640.1 207.2,640 207.7,640 208.2,640 208.7,640 209.2,639.9 209.7,639.9 210.2,639.9 210.7,639.8 211.2,639.8 211.7,639.8 212.2,639.7 212.7,639.7 213.2,639.7 213.7,639.7 214.2,639.6 214.7,639.6 215.2,639.6 215.7,639.5 216.2,639.5 216.7,639.4 217.2,639.4 217.7,639.4 218.2,639.3 218.7,639.3 219.2,639.3 219.7,639.2 220.2,639.2 220.7,639.2 221.2,639.1 221.7,639.1 222.2,639 222.7,639 223.2,639 223.7,638.9 224.2,638.9 224.7,638.8 225.2,638.8 225.7,638.8 226.2,638.7 226.7,638.7 227.2,638.6 227.7,638.6 228.2,638.6 228.7,638.5 229.2,638.5 229.7,638.4 230.2,638.4 230.7,638.3 231.2,638.3 231.7,638.2 232.2,638.2 232.7,638.2 233.2,638.1 233.7,638.1 234.2,638 234.7,638 235.2,637.9 235.7,637.9 236.2,637.8 236.7,637.8 237.2,637.7 237.7,637.7 238.2,637.6 238.7,637.6 239.2,637.5 239.7,637.5 240.2,637.4 240.7,637.4 241.2,637.3 241.7,637.3 242.2,637.2 242.7,637.1 243.2,637.1 243.7,637 244.2,637 244.7,636.9 245.2,636.9 245.7,636.8 246.2,636.8 246.7,636.7 247.2,636.6 247.7,636.6 248.2,636.5 248.7,636.5 249.2,636.4 249.7,636.4 250.2,636.3 250.7,636.2 251.2,636.2 251.7,636.1 252.2,636.1 252.7,636 253.2,635.9 253.7,635.9 254.2,635.8 254.7,635.7 255.2,635.7 255.7,635.6 256.2,635.6 256.7,635.5 257.2,635.4 257.7,635.4 258.2,635.3 258.7,635.2 259.2,635.2 259.7,635.1 260.2,635 260.7,635 261.2,634.9 261.7,634.8 262.2,634.8 262.7,634.7 263.2,634.6 263.7,634.6 264.2,634.5 264.7,634.4 265.2,634.4 265.7,634.3 266.2,634.2 266.7,634.2 267.2,634.1 267.7,634 268.2,634 268.7,633.9 269.2,633.8 269.7,633.8 270.2,633.7 270.7,633.6 271.2,633.5 271.7,633.5 272.2,633.4 272.7,633.3 273.2,633.3 273.7,633.2 274.2,633.1 274.7,633 275.2,633 275.7,632.9 276.2,632.8 276.7,632.7 277.2,632.7 277.7,632.6 278.2,632.5 278.7,632.5 279.2,632.4 279.7,632.3 280.2,632.2 280.7,632.2 281.2,632.1 281.7,632 282.2,631.9 282.7,631.9 283.2,631.8 283.7,631.7 284.2,631.6 284.7,631.5 285.2,631.5 285.7,631.4 286.2,631.3 286.7,631.2 287.2,631.1 287.7,631.1 288.2,631 288.7,630.9 289.2,630.8 289.7,630.7 290.2,630.6 290.7,630.5 291.2,630.4 291.7,630.3 292.2,630.1 292.7,630 293.2,629.9 293.7,629.8 294.2,629.6 294.7,629.5 295.2,629.3 295.7,629.1 296.2,628.9 296.7,628.7 297.2,628.5 297.7,628.3 298.2,628 298.7,627.7 299.2,627.4 299.7,627.1 300.2,626.7 300.7,626.3 301.2,625.9 301.7,625.5 302.2,625 302.7,624.4 303.2,623.8 303.7,623.2 304.2,622.5 304.7,621.7 305.2,620.9 305.7,620 306.2,619.1 306.7,618.1 307.2,616.9 307.7,615.8 308.2,614.5 308.7,613.1 309.2,611.6 309.7,610 310.2,608.3 310.7,606.5 311.2,604.6 311.7,602.5 312.2,600.4 312.7,598.1 313.2,595.6 313.7,593 314.2,590.3 314.7,587.5 315.2,584.4 315.7,581.3 316.2,578 316.7,574.5 317.2,570.9 317.7,567.2 318.2,563.3 318.7,559.3 319.2,555.1 319.7,550.8 320.2,546.3 320.7,541.8 321.2,537.1 321.7,532.3 322.2,527.4 322.7,522.4 323.2,517.4 323.7,512.2 324.2,507 324.7,501.8 325.2,496.5 325.7,491.1 326.2,485.8 326.7,480.5 327.2,475.2 327.7,469.9 328.2,464.6 328.7,459.4 329.2,454.3 329.7,449.3 330.2,444.3 330.7,439.5 331.2,434.8 331.7,430.2 332.2,425.8 332.7,421.5 333.2,417.5 333.7,413.5 334.2,409.8 334.7,406.3 335.2,402.9 335.7,399.8 336.2,396.8 336.7,394.1 337.2,391.6 337.7,389.3 338.2,387.1 338.7,385.2 339.2,383.5 339.7,382 340.2,380.6 340.7,379.4 341.2,378.4 341.7,377.6 342.2,376.9 342.7,376.3 343.2,375.9 343.7,375.6 344.2,375.3 344.7,375.2 345.2,375.1 345.7,375.1 346.2,375.2 346.7,375.2 347.2,375.3 347.7,375.4 348.2,375.5 348.7,375.6 349.2,375.7 349.7,375.8 350.2,375.8 350.7,375.7 351.2,375.6 351.7,375.4 352.2,375.2 352.7,374.9 353.2,374.6 353.7,374.1 354.2,373.6 354.7,373 355.2,372.4 355.7,371.7 356.2,370.9 356.7,370.1 357.2,369.2 357.7,368.3 358.2,367.3 358.7,366.3 359.2,365.3 359.7,364.3 360.2,363.2 360.7,362.2 361.2,361.2 361.7,360.3 362.2,359.4 362.7,358.5 363.2,357.7 363.7,357 364.2,356.3 364.7,355.8 365.2,355.4 365.7,355 366.2,354.8 366.7,354.8 367.2,354.9 367.7,355.1 368.2,355.5 368.7,356 369.2,356.8 369.7,357.6 370.2,358.7 370.7,359.9 371.2,361.2 371.7,362.7 372.2,364.4 372.7,366.2 373.2,368.2 373.7,370.4 374.2,372.7 374.7,375.2 375.2,377.9 375.7,380.7 376.2,383.6 376.7,386.7 377.2,389.9 377.7,393.3 378.2,396.8 378.7,400.4 379.2,404.2 379.7,408 380.2,412 380.7,416 381.2,420.2 381.7,424.4 382.2,428.7 382.7,433 383.2,437.5 383.7,441.9 384.2,446.4 384.7,451 385.2,455.5 385.7,460.1 386.2,464.7 386.7,469.3 387.2,473.9 387.7,478.5 388.2,483.1 388.7,487.6 389.2,492.1 389.7,496.6 390.2,501 390.7,505.4 391.2,509.7 391.7,513.9 392.2,518.1 392.7,522.3 393.2,526.3 393.7,530.3 394.2,534.2 394.7,538 395.2,541.7 395.7,545.4 396.2,548.9 396.7,552.4 397.2,555.8 397.7,559 398.2,562.2 398.7,565.3 399.2,568.3 399.7,571.1 400.2,573.9 400.7,576.6 401.2,579.2 401.7,581.7 402.2,584.1 402.7,586.5 403.2,588.7 403.7,590.8 404.2,592.9 404.7,594.8 405.2,596.7 405.7,598.5 406.2,600.2 406.7,601.8 407.2,603.4 407.7,604.9 408.2,606.3 408.7,607.6 409.2,608.9 409.7,610.1 410.2,611.3 410.7,612.4 411.2,613.4 411.7,614.4 412.2,615.3 412.7,616.2 413.2,617 413.7,617.8 414.2,618.5 414.7,619.2 415.2,619.8 415.7,620.4 416.2,621 416.7,621.5 417.2,622.1 417.7,622.5 418.2,623 418.7,623.4 419.2,623.8 419.7,624.2 420.2,624.5 420.7,624.8 421.2,625.1 421.7,625.4 422.2,625.7 422.7,625.9 423.2,626.2 423.7,626.4 424.2,626.6 424.7,626.8 425.2,627 425.7,627.2 426.2,627.3 426.7,627.5 427.2,627.6 427.7,627.8 428.2,627.9 428.7,628 429.2,628.1 429.7,628.3 430.2,628.4 430.7,628.5 431.2,628.6 431.7,628.7 432.2,628.8 432.7,628.8 433.2,628.9 433.7,629 434.2,629.1 434.7,629.2 435.2,629.2 435.7,629.3 436.2,629.4 436.7,629.5 437.2,629.5 437.7,629.6 438.2,629.7 438.7,629.7 439.2,629.8 439.7,629.8 440.2,629.9 440.7,630 441.2,630 441.7,630.1 442.2,630.1 442.7,630.2 443.2,630.3 443.7,630.3 444.2,630.4 444.7,630.4 445.2,630.5 445.7,630.6 446.2,630.6 446.7,630.7 447.2,630.7 447.7,630.8 448.2,630.8 448.7,630.9 449.2,631 449.7,631 450.2,631.1 450.7,631.1 451.2,631.2 451.7,631.2 452.2,631.3 452.7,631.3 453.2,631.4 453.7,631.5 454.2,631.5 454.7,631.6 455.2,631.6 455.7,631.7 456.2,631.7 456.7,631.8 457.2,631.9 457.7,631.9 458.2,632 458.7,632 459.2,632.1 459.7,632.1 460.2,632.2 460.7,632.2 461.2,632.3 461.7,632.4 462.2,632.4 462.7,632.5 463.2,632.5 463.7,632.6 464.2,632.6 464.7,632.7 465.2,632.7 465.7,632.8 466.2,632.9 466.7,632.9 467.2,633 467.7,633 468.2,633.1 468.7,633.1 469.2,633.2 469.7,633.2 470.2,633.3 470.7,633.3 471.2,633.4 471.7,633.4 472.2,633.5 472.7,633.6 473.2,633.6 473.7,633.7 474.2,633.7 474.7,633.8 475.2,633.8 475.7,633.9 476.2,633.9 476.7,634 477.2,634 477.7,634.1 478.2,634.1 478.7,634.2 479.2,634.2 479.7,634.3 480.2,634.3 480.7,634.4 481.2,634.5 481.7,634.5 482.2,634.6 482.7,634.6 483.2,634.7 483.7,634.7 484.2,634.8 484.7,634.8 485.2,634.9 485.7,634.9 486.2,635 486.7,635 487.2,635.1 487.7,635.1 488.2,635.2 488.7,635.2 489.2,635.3 489.7,635.3 490.2,635.4 490.7,635.4 491.2,635.5 491.7,635.5 492.2,635.5 492.7,635.6 493.2,635.6 493.7,635.7 494.2,635.7 494.7,635.8 495.2,635.8 495.7,635.9 496.2,635.9 496.7,636 497.2,636 497.7,636.1 498.2,636.1 498.7,636.2 499.2,636.2 499.7,636.2 500.2,636.3 500.7,636.3 501.2,636.4 501.7,636.4 502.2,636.5 502.7,636.5 503.2,636.6 503.7,636.6 504.2,636.6 504.7,636.7 505.2,636.7 505.7,636.8 506.2,636.8 506.7,636.9 507.2,636.9 507.7,636.9 508.2,637 508.7,637 509.2,637.1 509.7,637.1 510.2,637.2 510.7,637.2 511.2,637.2 511.7,637.3 512.2,637.3 512.7,637.4 513.2,637.4 513.7,637.4 514.2,637.5 514.7,637.5 515.2,637.5 515.7,637.6 516.2,637.6 516.7,637.7 517.2,637.7 517.7,637.7 518.2,637.8 518.7,637.8 519.2,637.9 519.7,637.9 520.2,637.9 520.7,638 521.2,638 521.7,638 522.2,638.1 522.7,638.1 523.2,638.1 523.7,638.2 524.2,638.2 524.7,638.2 525.2,638.3 525.7,638.3 526.2,638.3 526.7,638.4 527.2,638.4 527.7,638.5 528.2,638.5 528.7,638.5 529.2,638.5 529.7,638.6 530.2,638.6" fill="none" stroke="#00f0f0" stroke-width="1.5" stroke-linejoin="round" />
<polyline points="546.4,640.1 546.9,640.1 547.4,640.1 547.9,640.1 548.4,640 548.9,640 549.4,640 549.9,640 550.4,639.9 550.9,639.9 551.4,639.9 551.9,639.9 552.4,639.9 552.9,639.8 553.4,639.8 553.9,639.8 554.4,639.8 554.9,639.7 555.4,639.7 555.9,639.7 556.4,639.7 556.9,639.6 557.4,639.6 557.9,639.6 558.4,639.6 558.9,639.6 559.4,639.5 559.9,639.5 560.4,639.5 560.9,639.4 561.4,639.4 561.9,639.4 562.4,639.4 562.9,639.3 563.4,639.3 563.9,639.3 564.4,639.3 564.9,639.2 565.4,639.2 565.9,639.2 566.4,639.1 566.9,639.1 567.4,639.1 567.9,639.1 568.4,639 568.9,639 569.4,639 569.9,638.9 570.4,638.9 570.9,638.9 571.4,638.8 571.9,638.8 572.4,638.8 572.9,638.7 573.4,638.7 573.9,638.7 574.4,638.6 574.9,638.6 575.4,638.6 575.9,638.5 576.4,638.5 576.9,638.5 577.4,638.4 577.9,638.4 578.4,638.3 578.9,638.3 579.4,638.3 579.9,638.2 580.4,638.2 580.9,638.1 581.4,638.1 581.9,638 582.4,637.9 582.9,637.9 583.4,637.8 583.9,637.7 584.4,637.7 584.9,637.6 585.4,637.5 585.9,637.4 586.4,637.3 586.9,637.1 587.4,637 587.9,636.8 588.4,636.6 588.9,636.4 589.4,636.2 589.9,635.9 590.4,635.6 590.9,635.2 591.4,634.8 591.9,634.3 592.4,633.8 592.9,633.2 593.4,632.5 593.9,631.8 594.4,631 594.9,630 595.4,629 595.9,627.8 596.4,626.6 596.9,625.2 597.4,623.7 597.9,622 598.4,620.2 598.9,618.3 599.4,616.2 599.9,614 600.4,611.6 600.9,609.1 601.4,606.5 601.9,603.8 602.4,600.9 602.9,598 603.4,594.9 603.9,591.8 604.4,588.7 604.9,585.5 605.4,582.3 605.9,579.1 606.4,576 606.9,572.9 607.4,569.9 607.9,567 608.4,564.2 608.9,561.6 609.4,559.1 609.9,556.9 610.4,554.8 610.9,552.8 611.4,551.2 611.9,549.7 612.4,548.4 612.9,547.4 613.4,546.5 613.9,545.9 614.4,545.4 614.9,545.1 615.4,545 615.9,545 616.4,545.2 616.9,545.5 617.4,545.8 617.9,546.3 618.4,546.8 618.9,547.3 619.4,547.8 619.9,548.3 620.4,548.9 620.9,549.3 621.4,549.8 621.9,550.2 622.4,550.5 622.9,550.8 623.4,551 623.9,551.2 624.4,551.3 624.9,551.3 625.4,551.3 625.9,551.3 626.4,551.2 626.9,551 627.4,550.9 627.9,550.7 628.4,550.5 628.9,550.3 629.4,550.2 629.9,550 630.4,549.9 630.9,549.8 631.4,549.8 631.9,549.8 632.4,549.9 632.9,550.1 633.4,550.3 633.9,550.6 634.4,551 634.9,551.5 635.4,552 635.9,552.7 636.4,553.4 636.9,554.2 637.4,555.1 637.9,556.1 638.4,557.1 638.9,558.3 639.4,559.5 639.9,560.8 640.4,562.1 640.9,563.5 641.4,565 641.9,566.5 642.4,568 642.9,569.6 643.4,571.3 643.9,573 644.4,574.7 644.9,576.4 645.4,578.1 645.9,579.9 646.4,581.6 646.9,583.4 647.4,585.2 647.9,586.9 648.4,588.6 648.9,590.4 649.4,592.1 649.9,593.7 650.4,595.4 650.9,597 651.4,598.6 651.9,600.1 652.4,601.6 652.9,603.1 653.4,604.5 653.9,605.9 654.4,607.3 654.9,608.6 655.4,609.8 655.9,611 656.4,612.2 656.9,613.3 657.4,614.3 657.9,615.3 658.4,616.3 658.9,617.2 659.4,618.1 659.9,618.9 660.4,619.7 660.9,620.4 661.4,621.1 661.9,621.7 662.4,622.4 662.9,622.9 663.4,623.5 663.9,624 664.4,624.4 664.9,624.9 665.4,625.3 665.9,625.6 666.4,626 666.9,626.3 667.4,626.6 667.9,626.8 668.4,627.1 668.9,627.3 669.4,627.5 669.9,627.7 670.4,627.9 670.9,628 671.4,628.1 671.9,628.3 672.4,628.4 672.9,628.5 673.4,628.6 673.9,628.6 674.4,628.7 674.9,628.8 675.4,628.8 675.9,628.8 676.4,628.9 676.9,628.9 677.4,628.9 677.9,628.9 678.4,629 678.9,629 679.4,629 679.9,629 680.4,629 680.9,629 681.4,629 681.9,629 682.4,629 682.9,628.9 683.4,628.9 683.9,628.9 684.4,628.9 684.9,628.9 685.4,628.9 685.9,628.9 686.4,628.9 686.9,628.8 687.4,628.8 687.9,628.8 688.4,628.8 688.9,628.8 689.4,628.8 689.9,628.7 690.4,628.7 690.9,628.7 691.4,628.7 691.9,628.7 692.4,628.7 692.9,628.7 693.4,628.6 693.9,628.6 694.4,628.6 694.9,628.6 695.4,628.6 695.9,628.6 696.4,628.6 696.9,628.6 697.4,628.6 697.9,628.6 698.4,628.5 698.9,628.5 699.4,628.5 699.9,628.5 700.4,628.5 700.9,628.5 701.4,628.5 701.9,628.5 702.4,628.5 702.9,628.5 703.4,628.5 703.9,628.5 704.4,628.5 704.9,628.5 705.4,628.5 705.9,628.5 706.4,628.5 706.9,628.5 707.4,628.5 707.9,628.5 708.4,628.5 708.9,628.5 709.4,628.5 709.9,628.5 710.4,628.5 710.9,628.5 711.4,628.5 711.9,628.5 712.4,628.5 712.9,628.6 713.4,628.6 713.9,628.6 714.4,628.6 714.9,628.6 715.4,628.6 715.9,628.6 716.4,628.6 716.9,628.6 717.4,628.6 717.9,628.6 718.4,628.7 718.9,628.7 719.4,628.7 719.9,628.7 720.4,628.7 720.9,628.7 721.4,628.7 721.9,628.8 722.4,628.8 722.9,628.8 723.4,628.8 723.9,628.8 724.4,628.8 724.9,628.9 725.4,628.9 725.9,628.9 726.4,628.9 726.9,628.9 727.4,628.9 727.9,629 728.4,629 728.9,629 729.4,629 729.9,629 730.4,629.1 730.9,629.1 731.4,629.1 731.9,629.1 732.4,629.2 732.9,629.2 733.4,629.2 733.9,629.2 734.4,629.3 734.9,629.3 735.4,629.3 735.9,629.3 736.4,629.4 736.9,629.4 737.4,629.4 737.9,629.4 738.4,629.5 738.9,629.5 739.4,629.5 739.9,629.6 740.4,629.6 740.9,629.6 741.4,629.6 741.9,629.7 742.4,629.7 742.9,629.7 743.4,629.8 743.9,629.8 744.4,629.8 744.9,629.9 745.4,629.9 745.9,629.9 746.4,630 746.9,630 747.4,630 747.9,630.1 748.4,630.1 748.9,630.1 749.4,630.2 749.9,630.2 750.4,630.2 750.9,630.3 751.4,630.3 751.9,630.3 752.4,630.4 752.9,630.4 753.4,630.4 753.9,630.5 754.4,630.5 754.9,630.6 755.4,630.6 755.9,630.6 756.4,630.7 756.9,630.7 757.4,630.7 757.9,630.8 758.4,630.8 758.9,630.9 759.4,630.9 759.9,630.9 760.4,631 760.9,631 761.4,631.1 761.9,631.1 762.4,631.2 762.9,631.2 763.4,631.2 763.9,631.3 764.4,631.3 764.9,631.4 765.4,631.4 765.9,631.4 766.4,631.5 766.9,631.5 767.4,631.6 767.9,631.6 768.4,631.7 768.9,631.7 769.4,631.7 769.9,631.8 770.4,631.8 770.9,631.9 771.4,631.9 771.9,632 772.4,632 772.9,632.1 773.4,632.1 773.9,632.1 774.4,632.2 774.9,632.2 775.4,632.3 775.9,632.3 776.4,632.4 776.9,632.4 777.4,632.5 777.9,632.5 778.4,632.5 778.9,632.6 779.4,632.6 779.9,632.7 780.4,632.7 780.9,632.8 781.4,632.8 781.9,632.9 782.4,632.9 782.9,633 783.4,633 783.9,633.1 784.4,633.1 784.9,633.1 785.4,633.2 785.9,633.2 786.4,633.3 786.9,633.3 787.4,633.4 787.9,633.4 788.4,633.5 788.9,633.5 789.4,633.6 789.9,633.6 790.4,633.7 790.9,633.7 791.4,633.7 791.9,633.8 792.4,633.8 792.9,633.9 793.4,633.9 793.9,634 794.4,634 794.9,634.1 795.4,634.1 795.9,634.2 796.4,634.2 796.9,634.3 797.4,634.3 797.9,634.3 798.4,634.4 798.9,634.4 799.4,634.5 799.9,634.5 800.4,634.6 800.9,634.6 801.4,634.7 801.9,634.7 802.4,634.8 802.9,634.8 803.4,634.8 803.9,634.9 804.4,634.9 804.9,635 805.4,635 805.9,635.1 806.4,635.1 806.9,635.2 807.4,635.2 807.9,635.3 808.4,635.3 808.9,635.3 809.4,635.4 809.9,635.4 810.4,635.5 810.9,635.5 811.4,635.6 811.9,635.6 812.4,635.6 812.9,635.7 813.4,635.7 813.9,635.8 814.4,635.8 814.9,635.9 815.4,635.9 815.9,635.9 816.4,636 816.9,636 817.4,636.1 817.9,636.1 818.4,636.2 818.9,636.2 819.4,636.2 819.9,636.3 820.4,636.3 820.9,636.4 821.4,636.4 821.9,636.5 822.4,636.5 822.9,636.5 823.4,636.6 823.9,636.6 824.4,636.7 824.9,636.7 825.4,636.7 825.9,636.8 826.4,636.8 826.9,636.8 827.4,636.9 827.9,636.9 828.4,637 828.9,637 829.4,637 829.9,637.1 830.4,637.1 830.9,637.1 831.4,637.2 831.9,637.2 832.4,637.2 832.9,637.2 833.4,637.3 833.9,637.3 834.4,637.3 834.9,637.3 835.4,637.3 835.9,637.3 836.4,637.3 836.9,637.3 837.4,637.3 837.9,637.3 838.4,637.3 838.9,637.2 839.4,637.2 839.9,637.1 840.4,637 840.9,636.9 841.4,636.8 841.9,636.7 842.4,636.5 842.9,636.3 843.4,636.1 843.9,635.9 844.4,635.6 844.9,635.4 845.4,635 845.9,634.7 846.4,634.3 846.9,633.8 847.4,633.3 847.9,632.8 848.4,632.2 848.9,631.6 849.4,630.9 849.9,630.2 850.4,629.4 850.9,628.6 851.4,627.7 851.9,626.7 852.4,625.7 852.9,624.7 853.4,623.6 853.9,622.4 854.4,621.2 854.9,620 855.4,618.7 855.9,617.4 856.4,616 856.9,614.7 857.4,613.3 857.9,611.9 858.4,610.4 858.9,609 859.4,607.6 859.9,606.2 860.4,604.8 860.9,603.5 861.4,602.2 861.9,600.9 862.4,599.7 862.9,598.5 863.4,597.4 863.9,596.3 864.4,595.4 864.9,594.5 865.4,593.6 865.9,592.9 866.4,592.2 866.9,591.7 867.4,591.2 867.9,590.8 868.4,590.4 868.9,590.2 869.4,590 869.9,589.9 870.4,589.9 870.9,589.9 871.4,590 871.9,590.2 872.4,590.4 872.9,590.6 873.4,590.9 873.9,591.1 874.4,591.4 874.9,591.8 875.4,592.1 875.9,592.4 876.4,592.7 876.9,593 877.4,593.3 877.9,593.6 878.4,593.8 878.9,594 879.4,594.2 879.9,594.3 880.4,594.4 880.9,594.5 881.4,594.5 881.9,594.5 882.4,594.4 882.9,594.3 883.4,594.2 883.9,594.1 884.4,593.9 884.9,593.7 885.4,593.5 885.9,593.3 886.4,593 886.9,592.8 887.4,592.5 887.9,592.3 888.4,592 888.9,591.8 889.4,591.5 889.9,591.3 890.4,591.1 890.9,591 891.4,590.8 891.9,590.7 892.4,590.7 892.9,590.6 893.4,590.6 893.9,590.7 894.4,590.8 894.9,590.9 895.4,591.1 895.9,591.4 896.4,591.7 896.9,592 897.4,592.4 897.9,592.8 898.4,593.3 898.9,593.8 899.4,594.4 899.9,595 900.4,595.6 900.9,596.3 901.4,597.1 901.9,597.9 902.4,598.7 902.9,599.5 903.4,600.4 903.9,601.3 904.4,602.2 904.9,603.2 905.4,604.1 905.9,605.1 906.4,606.1 906.9,607.1 907.4,608.2 907.9,609.2 908.4,610.2 908.9,611.3 909.4,612.3 909.9,613.3 910.4,614.3 910.9,615.4 911.4,616.4 911.9,617.4 912.4,618.4 912.9,619.3 913.4,620.3 913.9,621.2 914.4,622.1 914.9,623 915.4,623.9 915.9,624.7 916.4,625.6 916.9,626.4 917.4,627.2 917.9,627.9 918.4,628.6 918.9,629.3 919.4,630 919.9,630.7 920.4,631.3 920.9,631.9 921.4,632.4 921.9,633 922.4,633.5 922.9,634 923.4,634.5 923.9,634.9 924.4,635.4 924.9,635.8 925.4,636.1 925.9,636.5 926.4,636.8 926.9,637.2 927.4,637.5 927.9,637.7 928.4,638 928.9,638.3 929.4,638.5 929.9,638.7 930.4,638.9 930.9,639.1 931.4,639.3 931.9,639.4 932.4,639.6 932.9,639.7 933.4,639.9 933.9,640 934.4,640.1 934.9,640.2 935.4,640.3 935.9,640.4 936.4,640.5 936.9,640.5 937.4,640.6 937.9,640.7 938.4,640.7 938.9,640.8 939.4,640.8 939.9,640.9 940.4,640.9 940.9,640.9 941.4,641 941.9,641 942.4,641 942.9,641.1 943.4,641.1 943.9,641.1 944.4,641.1 944.9,641.1 945.4,641.2 945.9,641.2 946.4,641.2 946.9,641.2 947.4,641.2 947.9,641.2 948.4,641.2 948.9,641.2 949.4,641.3 949.9,641.3 950.4,641.3 950.9,641.3 951.4,641.3 951.9,641.3 952.4,641.3 952.9,641.3 953.4,641.3 953.9,641.3 954.4,641.3 954.9,641.3 955.4,641.3 955.9,641.3 956.4,641.3 956.9,641.3 957.4,641.3 957.9,641.3 958.4,641.3 958.9,641.3 959.4,641.4 959.9,641.4 960.4,641.4 960.9,641.4 961.4,641.4 961.9,641.4 962.4,641.4 962.9,641.4 963.4,641.4 963.9,641.4 964.4,641.4 964.9,641.4 965.4,641.4 965.9,641.4 966.4,641.4 966.9,641.4 967.4,641.4 967.9,641.4 968.4,641.4 968.9,641.4 969.4,641.4 969.9,641.4 970.4,641.4 970.9,641.4 971.4,641.4 971.9,641.4 972.4,641.4 972.9,641.4 973.4,641.4 973.9,641.4 974.4,641.4 974.9,641.4 975.4,641.4 975.9,641.4 976.4,641.4 976.9,641.4 977.4,641.4 977.9,641.4 978.4,641.4 978.9,641.4 979.4,641.4 979.9,641.4 980.4,641.4 980.9,641.4 981.4,641.4 981.9,641.4 982.4,641.4 982.9,641.4 983.4,641.4 983.9,641.4 984.4,641.4 984.9,641.4 985.4,641.4 985.9,641.4 986.4,641.4 986.9,641.4 987.4,641.4 987.9,641.4 988.4,641.4 988.9,641.5 989.4,641.5 989.9,641.5 990.4,641.5 990.9,641.5 991.4,641.5 991.9,641.5 992.4,641.5 992.9,641.5 993.4,641.5 993.9,641.5 994.4,641.5 994.9,641.5 995.4,641.5 995.9,641.5 996.4,641.5 996.9,641.5 997.4,641.5 997.9,641.5 998.4,641.5 998.9,641.5 999.4,641.5 999.9,641.5 1000.4,641.5 1000.9,641.5 1001.4,641.5 1001.9,641.5 1002.4,641.5 1002.9,641.5 1003.4,641.5 1003.9,641.5 1004.4,641.5 1004.9,641.5 1005.4,641.5 1005.9,641.5 1006.4,641.5 1006.9,641.5 1007.4,641.5 1007.9,641.5 1008.4,641.5 1008.9,641.5 1009.4,641.5 1009.9,641.5 1010.4,641.5 1010.9,641.5 1011.4,641.5 1011.9,641.5 1012.4,641.5" fill="none" stroke="#00f0f0" stroke-width="1.5" stroke-linejoin="round" />
<polyline points="65.2,957.6 66.2,957.6 67.2,957.2 68.2,957 69.2,957.9 70.2,957.4 71.2,958 72.2,958.5 73.2,956.7 74.2,956.8 75.2,956.7 76.2,957.4 77.2,958.2 78.2,958.4 79.2,958.3 80.2,958 81.2,958.5 82.2,959.4 83.2,959.3 84.2,958.1 85.2,957.1 86.2,956.8 87.2,956.8 88.2,957 89.2,957.8 90.2,957.5 91.2,956.4 92.2,956.6 93.2,955.8 94.2,956 95.2,957.1 96.2,958.1 97.2,958.6 98.2,957.7 99.2,956.6 100.2,955 101.2,954.6 102.2,955.2 103.2,956.7 104.2,957.4 105.2,957.4 106.2,957.9 107.2,957 108.2,957.5 109.2,958.8 110.2,958.9 111.2,960.3 112.2,960.5 113.2,958.9 114.2,958.4 115.2,957.4 116.2,955.9 117.2,955.9 118.2,956 119.2,955.4 120.2,955.8 121.2,956.5 122.2,955.9 123.2,957.5 124.2,958.1 125.2,958.2 126.2,958.1 127.2,957.4 128.2,957.1 129.2,956.4 130.2,956 131.2,955.3 132.2,954.5 133.2,955.3 134.2,956.2 135.2,956.5 136.2,957.3 137.2,957.4 138.2,956.2 139.2,956.5 140.2,956.9 141.2,956.3 142.2,956.2 143.2,956 144.2,954.7 145.2,955.2 146.2,956.5 147.2,957 148.2,957.7 149.2,956.4 150.2,956.8 151.2,955.4 152.2,955.9 153.2,957.1 154.2,955.9 155.2,956.5 156.2,955.7 157.2,956.5 158.2,956.8 159.2,957.7 160.2,956.3 161.2,955.5 162.2,955.6 163.2,955.6 164.2,957.4 165.2,958 166.2,957.5 167.2,957 168.2,956.3 169.2,956 170.2,956.8 171.2,955.9 172.2,956.7 173.2,957.4 174.2,956.8 175.2,958.2 176.2,957.9 177.2,956.3 178.2,957 179.2,955.7 180.2,955.9 181.2,955.5 182.2,954.2 183.2,955 184.2,954.6 185.2,956 186.2,956.7 187.2,955.7 188.2,956.4 189.2,955.3 190.2,956.2 191.2,957.4 192.2,957.5 193.2,956.8 194.2,955.9 195.2,955.2 196.2,954.5 197.2,955.1 198.2,956.4 199.2,956.5 200.2,954.7 201.2,955.6 202.2,954.2 203.2,953.8 204.2,955.6 205.2,955.3 206.2,954.7 207.2,955 208.2,954.2 209.2,954.4 210.2,954.8 211.2,954.8 212.2,954.1 213.2,953.4 214.2,953.7 215.2,955.2 216.2,955.6 217.2,955.6 218.2,956 219.2,955.6 220.2,956.8 221.2,956.6 222.2,956.7 223.2,955.6 224.2,954.7 225.2,954.5 226.2,953.8 227.2,953.5 228.2,954 229.2,953.7 230.2,952.9 231.2,952.9 232.2,953.3 233.2,954.9 234.2,955.1 235.2,955.5 236.2,953.9 237.2,953.1 238.2,953.3 239.2,952.3 240.2,952.5 241.2,953.3 242.2,953.6 243.2,952.4 244.2,953.5 245.2,953.2 246.2,952.2 247.2,953.8 248.2,953.5 249.2,954 250.2,954.3 251.2,953.4 252.2,951.9 253.2,950.9 254.2,950.5 255.2,951.8 256.2,952.6 257.2,953 258.2,953.5 259.2,952.2 260.2,951.5 261.2,951.7 262.2,950.9 263.2,951.6 264.2,953 265.2,952.3 266.2,954.1 267.2,953.7 268.2,952.8 269.2,952.7 270.2,951.3 271.2,951.4 272.2,951.5 273.2,952.3 274.2,952.6 275.2,952.9 276.2,953.1 277.2,952.1 278.2,951.9 279.2,952.4 280.2,953.1 281.2,953.1 282.2,952.8 283.2,951.3 284.2,949.5 285.2,948.2 286.2,948.1 287.2,948.2 288.2,949.4 289.2,950.8 290.2,951.3 291.2,950.8 292.2,949.6 293.2,948.6 294.2,947.9 295.2,947.1 296.2,946.5 297.2,945.6 298.2,944.4 299.2,944.2 300.2,944 301.2,942.5 302.2,940.8 303.2,938.6 304.2,935.9 305.2,931.8 306.2,930 307.2,926.8 308.2,922.6 309.2,922 310.2,916.8 311.2,909.9 312.2,904 313.2,896.4 314.2,889.8 315.2,885.4 316.2,878.8 317.2,872.9 318.2,867.1 319.2,860 320.2,852.8 321.2,845 322.2,836.3 323.2,832.3 324.2,825.2 325.2,815.8 326.2,808.6 327.2,800.3 328.2,798 329.2,796.2 330.2,795.3 331.2,789.6 332.2,785.5 333.2,781 334.2,774.2 335.2,775.7 336.2,771.6 337.2,771.5 338.2,773.2 339.2,768 340.2,765.6 341.2,759.3 342.2,755.7 343.2,748.8 344.2,740.5 345.2,736.3 346.2,727.4 347.2,723.7 348.2,723.5 349.2,717.6 350.2,711.7 351.2,704 352.2,690.6 353.2,683.5 354.2,676.7 355.2,669 356.2,671.3 357.2,671.4 358.2,671.5 359.2,676.4 360.2,675 361.2,677.3 362.2,678.1 363.2,679.3 364.2,684.8 365.2,690.7 366.2,698.7 367.2,706.2 368.2,715.8 369.2,720.7 370.2,726.7 371.2,733.6 372.2,734.4 373.2,737.8 374.2,744.5 375.2,748 376.2,754.7 377.2,757.6 378.2,758.9 379.2,758.3 380.2,756.5 381.2,755.8 382.2,754.2 383.2,757.6 384.2,754.5 385.2,755.4 386.2,751.7 387.2,747.3 388.2,747.7 389.2,742.9 390.2,743.3 391.2,740.4 392.2,743 393.2,744 394.2,744.8 395.2,747.8 396.2,746.2 397.2,748.7 398.2,747.7 399.2,753.3 400.2,756.6 401.2,762.1 402.2,767 403.2,769.2 404.2,773.3 405.2,777.9 406.2,784.3 407.2,788.1 408.2,796.2 409.2,803 410.2,814.3 411.2,823.9 412.2,831 413.2,840.9 414.2,846.2 415.2,857.9 416.2,869.3 417.2,877.7 418.2,886.5 419.2,890.2 420.2,894 421.2,898 422.2,901.7 423.2,907 424.2,912.5 425.2,917.7 426.2,919.8 427.2,924.9 428.2,926.7 429.2,926.8 430.2,930.7 431.2,931.4 432.2,933.1 433.2,935.3 434.2,936.1 435.2,937.4 436.2,937.9 437.2,939.4 438.2,940.3 439.2,939.1 440.2,940.6 441.2,942.5 442.2,943.6 443.2,943.6 444.2,943.2 445.2,942.1 446.2,940.8 447.2,943.2 448.2,943.3 449.2,944.1 450.2,946 451.2,945.3 452.2,944.9 453.2,945.3 454.2,945.9 455.2,947.2 456.2,948.1 457.2,947.8 458.2,947.2 459.2,946.9 460.2,947.6 461.2,946.5 462.2,947.1 463.2,945.8 464.2,945.2 465.2,946.4 466.2,947.5 467.2,947.3 468.2,947.6 469.2,946.7 470.2,947.1 471.2,949.2 472.2,951 473.2,952.4 474.2,950.2 475.2,948.6 476.2,947.1 477.2,946.4 478.2,946.7 479.2,947.4 480.2,947.2 481.2,947.3 482.2,949.5 483.2,949.6 484.2,949 485.2,949.5 486.2,948 487.2,948.3 488.2,949.7 489.2,948.6 490.2,948.8 491.2,949.2 492.2,951.1 493.2,952.4 494.2,953.7 495.2,954.4 496.2,951.6 497.2,950.7 498.2,950.8 499.2,948.9 500.2,949.2 501.2,950.3 502.2,948.5 503.2,950.3 504.2,951.6 505.2,952.1 506.2,953.5 507.2,951.8 508.2,951.9 509.2,951.8 510.2,951.7 511.2,952.3 512.2,951.6 513.2,950.3 514.2,950.1 515.2,951.3 516.2,951.4 517.2,952.1 518.2,952.3 519.2,951.2 520.2,949.7 521.2,950.2 522.2,949.5 523.2,948.8 524.2,950.6 525.2,950.9 526.2,951.7 527.2,952.5 528.2,951.7 529.2,951.3 530.2,950.5" fill="none" stroke="#000000" stroke-width="1.3" stroke-linejoin="round" />
<polyline points="546.4,954.4 547.4,956.6 548.4,957.9 549.4,955.7 550.4,958.3 551.4,957.2 552.4,954.5 553.4,955.9 554.4,956.7 555.4,951.6 556.4,951 557.4,957.6 558.4,958.2 559.4,956.1 560.4,955.3 561.4,954.8 562.4,955.6 563.4,954.6 564.4,953.7 565.4,956.3 566.4,956.7 567.4,955.3 568.4,952.9 569.4,951.6 570.4,953.2 571.4,953.9 572.4,953 573.4,950.2 574.4,951.3 575.4,953.5 576.4,951.6 577.4,953.5 578.4,954.3 579.4,952.6 580.4,953.5 581.4,952.9 582.4,950.7 583.4,949.9 584.4,951.2 585.4,952 586.4,947.6 587.4,948.8 588.4,951.2 589.4,947.2 590.4,946.3 591.4,945.4 592.4,944 593.4,942.3 594.4,938.4 595.4,937.9 596.4,937.3 597.4,934 598.4,931.6 599.4,927.4 600.4,924.3 601.4,917.5 602.4,905.4 603.4,896.8 604.4,891.1 605.4,891 606.4,884.1 607.4,877.6 608.4,876.7 609.4,865.8 610.4,865.7 611.4,867.1 612.4,863.3 613.4,867.3 614.4,872.6 615.4,874 616.4,876.2 617.4,877.9 618.4,876.6 619.4,885.6 620.4,892.1 621.4,891 622.4,893.9 623.4,896.5 624.4,893.6 625.4,891.4 626.4,895.5 627.4,896 628.4,890.3 629.4,891.5 630.4,894.8 631.4,887.5 632.4,881.7 633.4,889.6 634.4,896.4 635.4,891.5 636.4,891.3 637.4,893.3 638.4,891.9 639.4,890.5 640.4,896.5 641.4,904.1 642.4,901.9 643.4,895 644.4,893.6 645.4,901.4 646.4,901.2 647.4,896.8 648.4,900.1 649.4,904.1 650.4,904.1 651.4,902.2 652.4,904.5 653.4,907.8 654.4,910 655.4,913.7 656.4,917.4 657.4,917.6 658.4,918 659.4,920.7 660.4,919.8 661.4,919.9 662.4,921.6 663.4,927.4 664.4,929.5 665.4,929 666.4,933 667.4,934.9 668.4,932.2 669.4,930.2 670.4,935 671.4,939.8 672.4,939.4 673.4,939.1 674.4,937 675.4,939.7 676.4,946.6 677.4,945.2 678.4,942.6 679.4,942.5 680.4,941.8 681.4,939 682.4,941.3 683.4,946.1 684.4,948.8 685.4,947.8 686.4,943.7 687.4,944.7 688.4,944.4 689.4,944.1 690.4,943.6 691.4,943.2 692.4,947.5 693.4,949.1 694.4,949.9 695.4,951.7 696.4,948.8 697.4,944.5 698.4,941.7 699.4,943.2 700.4,946.7 701.4,948.4 702.4,946.3 703.4,943.7 704.4,946.3 705.4,945.7 706.4,943.7 707.4,947.8 708.4,947.4 709.4,944 710.4,945.8 711.4,946.6 712.4,943 713.4,939.7 714.4,939.5 715.4,943.9 716.4,948 717.4,944.5 718.4,945.3 719.4,948 720.4,949 721.4,944.6 722.4,939.8 723.4,942.1 724.4,943.5 725.4,944.9 726.4,945.9 727.4,944.1 728.4,944.6 729.4,943.5 730.4,943.1 731.4,946.6 732.4,943.5 733.4,942.1 734.4,943.3 735.4,943.7 736.4,948.3 737.4,946.5 738.4,944.9 739.4,943.8 740.4,943.9 741.4,948.8 742.4,945.3 743.4,941.1 744.4,941.1 745.4,943.5 746.4,941.7 747.4,941.6 748.4,943.4 749.4,941.5 750.4,940.6 751.4,936.8 752.4,936.3 753.4,936 754.4,932.6 755.4,936.2 756.4,939.3 757.4,936.7 758.4,935.8 759.4,935 760.4,938.3 761.4,938.4 762.4,934.5 763.4,937.1 764.4,941.9 765.4,942.5 766.4,941.7 767.4,941.5 768.4,941.3 769.4,941.6 770.4,942.7 771.4,941.9 772.4,945.5 773.4,949.9 774.4,945.5 775.4,946.7 776.4,946.5 777.4,946.2 778.4,947.5 779.4,947.2 780.4,948.3 781.4,946.7 782.4,946.3 783.4,947.3 784.4,943.8 785.4,943.3 786.4,948.5 787.4,947.2 788.4,944.4 789.4,944.1 790.4,942.6 791.4,946.2 792.4,947.5 793.4,944.3 794.4,946.1 795.4,947.6 796.4,952.5 797.4,953.9 798.4,946.4 799.4,948.4 800.4,952.2 801.4,949 802.4,947.4 803.4,945.4 804.4,949.1 805.4,951.7 806.4,947.7 807.4,949.9 808.4,951.4 809.4,946.5 810.4,944.5 811.4,946.7 812.4,952.8 813.4,954 814.4,949.4 815.4,949.8 816.4,950.6 817.4,945.5 818.4,945.8 819.4,952 820.4,951.4 821.4,950.5 822.4,951.4 823.4,951.1 824.4,949.5 825.4,949.1 826.4,952.1 827.4,952.8 828.4,950.3 829.4,950.8 830.4,949.8 831.4,948 832.4,951.2 833.4,951.8 834.4,947.3 835.4,945.3 836.4,948.2 837.4,949 838.4,949.7 839.4,953 840.4,950.7 841.4,947.6 842.4,947.1 843.4,946.8 844.4,946.3 845.4,946.1 846.4,944.7 847.4,941.1 848.4,940.5 849.4,938.8 850.4,940.1 851.4,941.1 852.4,933 853.4,925.8 854.4,925.8 855.4,927.2 856.4,928.1 857.4,925 858.4,918.7 859.4,920.9 860.4,919.8 861.4,914.2 862.4,913.5 863.4,916.4 864.4,915.8 865.4,916.6 866.4,914.7 867.4,911.6 868.4,918.1 869.4,916.3 870.4,912.2 871.4,917.5 872.4,916.3 873.4,918 874.4,922.9 875.4,919 876.4,925.1 877.4,926 878.4,921.8 879.4,924.1 880.4,926.3 881.4,925.5 882.4,925.4 883.4,927.8 884.4,926 885.4,926.1 886.4,921.4 887.4,921.1 888.4,925.5 889.4,922.8 890.4,920.7 891.4,917.8 892.4,915.6 893.4,917.6 894.4,919.9 895.4,918.9 896.4,916.1 897.4,914.6 898.4,917.4 899.4,923.4 900.4,917.9 901.4,911.6 902.4,915.9 903.4,917.6 904.4,919.8 905.4,923.2 906.4,923.4 907.4,922.4 908.4,923.7 909.4,927.1 910.4,927.2 911.4,923.9 912.4,925.2 913.4,927.4 914.4,931.5 915.4,933 916.4,930.2 917.4,933.3 918.4,937.5 919.4,935.4 920.4,934.7 921.4,935.7 922.4,936 923.4,936.9 924.4,937.8 925.4,942.7 926.4,943.3 927.4,942.2 928.4,941.9 929.4,943.1 930.4,945.8 931.4,944.5 932.4,942.8 933.4,943.8 934.4,944.8 935.4,946.1 936.4,947.3 937.4,947.3 938.4,948.6 939.4,950.4 940.4,951.4 941.4,948.5 942.4,949.2 943.4,953.5 944.4,954.4 945.4,954.5 946.4,954.1 947.4,955.9 948.4,959.2 949.4,957.5 950.4,957.3 951.4,957.6 952.4,955.5 953.4,954.6 954.4,952.9 955.4,954 956.4,957 957.4,959 958.4,959.4 959.4,958 960.4,959.6 961.4,959.6 962.4,957.3 963.4,956.7 964.4,957.1 965.4,957.8 966.4,958.3 967.4,959 968.4,960.2 969.4,959.6 970.4,955.8 971.4,955.8 972.4,957.2 973.4,958.5 974.4,957.3 975.4,957 976.4,957.8 977.4,956.8 978.4,958.8 979.4,957.8 980.4,956.7 981.4,957.6 982.4,957.1 983.4,957.4 984.4,958.3 985.4,957.8 986.4,957.8 987.4,958.3 988.4,958.6 989.4,960.3 990.4,960.3 991.4,959.2 992.4,958.4 993.4,956.5 994.4,958.5 995.4,959.6 996.4,960.2 997.4,961.6 998.4,959.6 999.4,961 1000.4,962.5 1001.4,959.8 1002.4,957.6 1003.4,957.9 1004.4,958.9 1005.4,956.4 1006.4,955.6 1007.4,959 1008.4,957 1009.4,955.3 1010.4,957.6 1011.4,957 1012.4,956.4" fill="none" stroke="#000000" stroke-width="1.3" stroke-linejoin="round" />
<polyline points="280.2,958.3 281.2,958.3 282.2,958.2 283.2,958.2 284.2,958.2 285.2,958.1 286.2,958.1 287.2,958 288.2,957.9 289.2,957.8 290.2,957.7 291.2,957.5 292.2,957.3 293.2,957 294.2,956.6 295.2,956.2 296.2,955.7 297.2,955 298.2,954.2 299.2,953.3 300.2,952.1 301.2,950.8 302.2,949.2 303.2,947.4 304.2,945.3 305.2,942.8 306.2,940.1 307.2,937 308.2,933.5 309.2,929.6 310.2,925.3 311.2,920.6 312.2,915.6 313.2,910.1 314.2,904.4 315.2,898.3 316.2,891.9 317.2,885.4 318.2,878.7 319.2,872 320.2,865.3 321.2,858.7 322.2,852.3 323.2,846.2 324.2,840.5 325.2,835.4 326.2,830.8 327.2,826.9 328.2,823.8 329.2,821.4 330.2,819.9 331.2,819.3 332.2,819.6 333.2,820.7 334.2,822.7 335.2,825.6 336.2,829.2 337.2,833.5 338.2,838.4 339.2,843.9 340.2,849.8 341.2,856.1 342.2,862.6 343.2,869.3 344.2,876 345.2,882.7 346.2,889.3 347.2,895.8 348.2,902 349.2,907.9 350.2,913.4 351.2,918.7 352.2,923.5 353.2,927.9 354.2,932 355.2,935.6 356.2,938.9 357.2,941.8 358.2,944.3 359.2,946.6 360.2,948.5 361.2,950.2 362.2,951.6 363.2,952.8 364.2,953.9 365.2,954.7 366.2,955.4 367.2,956 368.2,956.5 369.2,956.9 370.2,957.2 371.2,957.4 372.2,957.6 373.2,957.8 374.2,957.9 375.2,958 376.2,958.1 377.2,958.1 378.2,958.2 379.2,958.2 380.2,958.2 381.2,958.3 382.2,958.3" fill="none" stroke="#808000" stroke-width="1.3" stroke-linejoin="round" />
<polyline points="305.7,958.3 306.7,958.3 307.7,958.2 308.7,958.2 309.7,958.2 310.7,958.1 311.7,958.1 312.7,958 313.7,957.9 314.7,957.8 315.7,957.6 316.7,957.4 317.7,957.2 318.7,956.8 319.7,956.4 320.7,955.9 321.7,955.2 322.7,954.4 323.7,953.5 324.7,952.3 325.7,950.9 326.7,949.2 327.7,947.2 328.7,944.9 329.7,942.1 330.7,938.9 331.7,935.2 332.7,931 333.7,926.2 334.7,920.8 335.7,914.7 336.7,908 337.7,900.6 338.7,892.6 339.7,883.8 340.7,874.5 341.7,864.5 342.7,854 343.7,843.1 344.7,831.8 345.7,820.2 346.7,808.5 347.7,796.9 348.7,785.4 349.7,774.2 350.7,763.5 351.7,753.5 352.7,744.2 353.7,736 354.7,728.9 355.7,722.9 356.7,718.4 357.7,715.2 358.7,713.6 359.7,713.4 360.7,714.8 361.7,717.6 362.7,721.9 363.7,727.6 364.7,734.5 365.7,742.5 366.7,751.6 367.7,761.4 368.7,772 369.7,783.1 370.7,794.5 371.7,806.2 372.7,817.9 373.7,829.5 374.7,840.8 375.7,851.9 376.7,862.5 377.7,872.5 378.7,882 379.7,890.9 380.7,899.1 381.7,906.6 382.7,913.4 383.7,919.6 384.7,925.1 385.7,930.1 386.7,934.4 387.7,938.2 388.7,941.5 389.7,944.3 390.7,946.8 391.7,948.8 392.7,950.6 393.7,952 394.7,953.3 395.7,954.3 396.7,955.1 397.7,955.8 398.7,956.3 399.7,956.7 400.7,957.1 401.7,957.4 402.7,957.6 403.7,957.8 404.7,957.9 405.7,958 406.7,958.1 407.7,958.1 408.7,958.2 409.7,958.2 410.7,958.2 411.7,958.3 412.7,958.3" fill="none" stroke="#808000" stroke-width="1.3" stroke-linejoin="round" />
<polyline points="332.2,958.3 333.2,958.3 334.2,958.2 335.2,958.2 336.2,958.2 337.2,958.2 338.2,958.1 339.2,958.1 340.2,958 341.2,958 342.2,957.9 343.2,957.8 344.2,957.7 345.2,957.5 346.2,957.3 347.2,957.1 348.2,956.8 349.2,956.5 350.2,956 351.2,955.6 352.2,955 353.2,954.3 354.2,953.5 355.2,952.6 356.2,951.5 357.2,950.3 358.2,948.9 359.2,947.2 360.2,945.4 361.2,943.2 362.2,940.9 363.2,938.2 364.2,935.2 365.2,931.9 366.2,928.3 367.2,924.3 368.2,919.9 369.2,915.1 370.2,910 371.2,904.5 372.2,898.7 373.2,892.5 374.2,885.9 375.2,879.1 376.2,871.9 377.2,864.6 378.2,857 379.2,849.3 380.2,841.6 381.2,833.8 382.2,826.1 383.2,818.5 384.2,811.1 385.2,804 386.2,797.2 387.2,790.9 388.2,785.1 389.2,779.8 390.2,775.2 391.2,771.3 392.2,768.1 393.2,765.7 394.2,764.1 395.2,763.4 396.2,763.5 397.2,764.4 398.2,766.1 399.2,768.7 400.2,772 401.2,776.1 402.2,780.8 403.2,786.2 404.2,792.1 405.2,798.6 406.2,805.4 407.2,812.6 408.2,820 409.2,827.6 410.2,835.4 411.2,843.1 412.2,850.9 413.2,858.6 414.2,866.1 415.2,873.4 416.2,880.5 417.2,887.3 418.2,893.7 419.2,899.9 420.2,905.7 421.2,911.1 422.2,916.1 423.2,920.8 424.2,925.1 425.2,929 426.2,932.6 427.2,935.8 428.2,938.7 429.2,941.4 430.2,943.7 431.2,945.7 432.2,947.6 433.2,949.2 434.2,950.5 435.2,951.8 436.2,952.8 437.2,953.7 438.2,954.5 439.2,955.1 440.2,955.7 441.2,956.1 442.2,956.5 443.2,956.9 444.2,957.1 445.2,957.3 446.2,957.5 447.2,957.7 448.2,957.8 449.2,957.9 450.2,958 451.2,958.1 452.2,958.1 453.2,958.2 454.2,958.2 455.2,958.2 456.2,958.2 457.2,958.2 458.2,958.3 459.2,958.3" fill="none" stroke="#808000" stroke-width="1.3" stroke-linejoin="round" />
<polyline points="585.9,958.3 586.9,958.3 587.9,958.2 588.9,958.2 589.9,958 590.9,957.9 591.9,957.6 592.9,957.3 593.9,956.7 594.9,955.9 595.9,954.9 596.9,953.4 597.9,951.6 598.9,949.2 599.9,946.4 600.9,943.1 601.9,939.3 602.9,935.2 603.9,930.8 604.9,926.5 605.9,922.4 606.9,918.8 607.9,915.9 608.9,914 609.9,913.1 610.9,913.3 611.9,914.6 612.9,917 613.9,920.2 614.9,924 615.9,928.2 616.9,932.6 617.9,936.8 618.9,940.8 619.9,944.5 620.9,947.6 621.9,950.2 622.9,952.4 623.9,954 624.9,955.3 625.9,956.3 626.9,957 627.9,957.4 628.9,957.7 629.9,958 630.9,958.1 631.9,958.2 632.9,958.2 633.9,958.3" fill="none" stroke="#808000" stroke-width="1.3" stroke-linejoin="round" />
<polyline points="828.4,958.3 829.4,958.3 830.4,958.2 831.4,958.2 832.4,958.2 833.4,958.1 834.4,958 835.4,957.9 836.4,957.8 837.4,957.6 838.4,957.4 839.4,957.1 840.4,956.7 841.4,956.3 842.4,955.7 843.4,955 844.4,954.2 845.4,953.2 846.4,952.1 847.4,950.8 848.4,949.4 849.4,947.8 850.4,946 851.4,944.2 852.4,942.2 853.4,940.2 854.4,938.2 855.4,936.2 856.4,934.3 857.4,932.5 858.4,930.9 859.4,929.6 860.4,928.5 861.4,927.8 862.4,927.4 863.4,927.3 864.4,927.7 865.4,928.3 866.4,929.3 867.4,930.6 868.4,932.2 869.4,933.9 870.4,935.8 871.4,937.8 872.4,939.8 873.4,941.8 874.4,943.8 875.4,945.7 876.4,947.4 877.4,949.1 878.4,950.5 879.4,951.9 880.4,953 881.4,954 882.4,954.9 883.4,955.6 884.4,956.2 885.4,956.6 886.4,957 887.4,957.3 888.4,957.6 889.4,957.8 890.4,957.9 891.4,958 892.4,958.1 893.4,958.2 894.4,958.2 895.4,958.2 896.4,958.3 897.4,958.3" fill="none" stroke="#808000" stroke-width="1.3" stroke-linejoin="round" />
<polyline points="816.4,958.3 817.4,958.3 818.4,958.3 819.4,958.2 820.4,958.2 821.4,958.2 822.4,958.2 823.4,958.2 824.4,958.2 825.4,958.2 826.4,958.1 827.4,958.1 828.4,958.1 829.4,958 830.4,958 831.4,957.9 832.4,957.9 833.4,957.8 834.4,957.8 835.4,957.7 836.4,957.6 837.4,957.5 838.4,957.4 839.4,957.3 840.4,957.1 841.4,957 842.4,956.8 843.4,956.6 844.4,956.4 845.4,956.2 846.4,955.9 847.4,955.7 848.4,955.4 849.4,955.1 850.4,954.7 851.4,954.3 852.4,953.9 853.4,953.5 854.4,953 855.4,952.5 856.4,952 857.4,951.4 858.4,950.8 859.4,950.2 860.4,949.5 861.4,948.8 862.4,948 863.4,947.2 864.4,946.4 865.4,945.5 866.4,944.6 867.4,943.7 868.4,942.7 869.4,941.7 870.4,940.7 871.4,939.6 872.4,938.6 873.4,937.5 874.4,936.4 875.4,935.3 876.4,934.2 877.4,933 878.4,931.9 879.4,930.8 880.4,929.7 881.4,928.7 882.4,927.6 883.4,926.6 884.4,925.7 885.4,924.7 886.4,923.8 887.4,923 888.4,922.2 889.4,921.5 890.4,920.8 891.4,920.3 892.4,919.7 893.4,919.3 894.4,918.9 895.4,918.7 896.4,918.5 897.4,918.3 898.4,918.3 899.4,918.4 900.4,918.5 901.4,918.7 902.4,919 903.4,919.4 904.4,919.8 905.4,920.4 906.4,921 907.4,921.6 908.4,922.4 909.4,923.2 910.4,924 911.4,924.9 912.4,925.8 913.4,926.8 914.4,927.8 915.4,928.9 916.4,930 917.4,931 918.4,932.2 919.4,933.3 920.4,934.4 921.4,935.5 922.4,936.6 923.4,937.7 924.4,938.8 925.4,939.8 926.4,940.9 927.4,941.9 928.4,942.9 929.4,943.8 930.4,944.8 931.4,945.7 932.4,946.5 933.4,947.4 934.4,948.1 935.4,948.9 936.4,949.6 937.4,950.3 938.4,950.9 939.4,951.5 940.4,952.1 941.4,952.6 942.4,953.1 943.4,953.6 944.4,954 945.4,954.4 946.4,954.8 947.4,955.1 948.4,955.4 949.4,955.7 950.4,956 951.4,956.2 952.4,956.5 953.4,956.7 954.4,956.8 955.4,957 956.4,957.2 957.4,957.3 958.4,957.4 959.4,957.5 960.4,957.6 961.4,957.7 962.4,957.8 963.4,957.8 964.4,957.9 965.4,957.9 966.4,958 967.4,958 968.4,958.1 969.4,958.1 970.4,958.1 971.4,958.2 972.4,958.2 973.4,958.2 974.4,958.2 975.4,958.2 976.4,958.2 977.4,958.2 978.4,958.3 979.4,958.3" fill="none" stroke="#808000" stroke-width="1.3" stroke-linejoin="round" />
<polyline points="582.9,958.3 583.9,958.2 584.9,957.8 585.9,957.2 586.9,956.7 587.9,956 588.9,955.3 589.9,954.4 590.9,953.6 591.9,952.6 592.9,951.5 593.9,950.4 594.9,949.1 595.9,947.8 596.9,946.4 597.9,945 598.9,943.4 599.9,941.8 600.9,940.1 601.9,938.3 602.9,936.5 603.9,934.6 604.9,932.6 605.9,930.6 606.9,928.6 607.9,926.5 608.9,924.5 609.9,922.4 610.9,920.3 611.9,918.2 612.9,916.1 613.9,914.1 614.9,912 615.9,910.1 616.9,908.1 617.9,906.3 618.9,904.5 619.9,902.8 620.9,901.1 621.9,899.6 622.9,898.2 623.9,896.8 624.9,895.6 625.9,894.5 626.9,893.5 627.9,892.6 628.9,891.9 629.9,891.3 630.9,890.8 631.9,890.5 632.9,890.3 633.9,890.3 634.9,890.4 635.9,890.6 636.9,891 637.9,891.5 638.9,892.1 639.9,892.9 640.9,893.8 641.9,894.7 642.9,895.8 643.9,897.1 644.9,898.4 645.9,899.8 646.9,901.2 647.9,902.8 648.9,904.4 649.9,906.1 650.9,907.8 651.9,909.6 652.9,911.4 653.9,913.2 654.9,915 655.9,916.9 656.9,918.7 657.9,920.6 658.9,922.4 659.9,924.2 660.9,926 661.9,927.7 662.9,929.4 663.9,931.1 664.9,932.7 665.9,934.3 666.9,935.9 667.9,937.3 668.9,938.7 669.9,940.1 670.9,941.4 671.9,942.6 672.9,943.8 673.9,944.9 674.9,946 675.9,947 676.9,947.9 677.9,948.8 678.9,949.6 679.9,950.3 680.9,951.1 681.9,951.7 682.9,952.3 683.9,952.9 684.9,953.4 685.9,953.9 686.9,954.3 687.9,954.8 688.9,955.1 689.9,955.5 690.9,955.8 691.9,956 692.9,956.3 693.9,956.5 694.9,956.7 695.9,956.9 696.9,957.1 697.9,957.2 698.9,957.4 699.9,957.5 700.9,957.6 701.9,957.7 702.9,957.7 703.9,957.8 704.9,957.9 705.9,957.9 706.9,958 707.9,958 708.9,958.1 709.9,958.1 710.9,958.1 711.9,958.2 712.9,958.2 713.9,958.2 714.9,958.2 715.9,958.2 716.9,958.2 717.9,958.2 718.9,958.3 719.9,958.3" fill="none" stroke="#808000" stroke-width="1.3" stroke-linejoin="round" />
<polyline points="64.2,958.3 530.2,958.3" fill="none" stroke="#808000" stroke-width="1.8" stroke-linejoin="round" />
<polyline points="546.5,958.3 1013,958.3" fill="none" stroke="#808000" stroke-width="1.8" stroke-linejoin="round" />
<polyline points="65.2,957.8 65.7,957.7 66.2,957.7 66.7,957.7 67.2,957.7 67.7,957.7 68.2,957.7 68.7,957.7 69.2,957.7 69.7,957.7 70.2,957.7 70.7,957.7 71.2,957.7 71.7,957.7 72.2,957.7 72.7,957.7 73.2,957.7 73.7,957.7 74.2,957.7 74.7,957.7 75.2,957.7 75.7,957.7 76.2,957.7 76.7,957.7 77.2,957.7 77.7,957.6 78.2,957.6 78.7,957.6 79.2,957.6 79.7,957.6 80.2,957.6 80.7,957.6 81.2,957.6 81.7,957.6 82.2,957.6 82.7,957.6 83.2,957.6 83.7,957.6 84.2,957.6 84.7,957.6 85.2,957.6 85.7,957.6 86.2,957.6 86.7,957.6 87.2,957.6 87.7,957.6 88.2,957.5 88.7,957.5 89.2,957.5 89.7,957.5 90.2,957.5 90.7,957.5 91.2,957.5 91.7,957.5 92.2,957.5 92.7,957.5 93.2,957.5 93.7,957.5 94.2,957.5 94.7,957.5 95.2,957.5 95.7,957.5 96.2,957.5 96.7,957.5 97.2,957.5 97.7,957.4 98.2,957.4 98.7,957.4 99.2,957.4 99.7,957.4 100.2,957.4 100.7,957.4 101.2,957.4 101.7,957.4 102.2,957.4 102.7,957.4 103.2,957.4 103.7,957.4 104.2,957.4 104.7,957.4 105.2,957.4 105.7,957.4 106.2,957.4 106.7,957.3 107.2,957.3 107.7,957.3 108.2,957.3 108.7,957.3 109.2,957.3 109.7,957.3 110.2,957.3 110.7,957.3 111.2,957.3 111.7,957.3 112.2,957.3 112.7,957.3 113.2,957.3 113.7,957.3 114.2,957.3 114.7,957.2 115.2,957.2 115.7,957.2 116.2,957.2 116.7,957.2 117.2,957.2 117.7,957.2 118.2,957.2 118.7,957.2 119.2,957.2 119.7,957.2 120.2,957.2 120.7,957.2 121.2,957.2 121.7,957.2 122.2,957.1 122.7,957.1 123.2,957.1 123.7,957.1 124.2,957.1 124.7,957.1 125.2,957.1 125.7,957.1 126.2,957.1 126.7,957.1 127.2,957.1 127.7,957.1 128.2,957.1 128.7,957.1 129.2,957 129.7,957 130.2,957 130.7,957 131.2,957 131.7,957 132.2,957 132.7,957 133.2,957 133.7,957 134.2,957 134.7,957 135.2,957 135.7,956.9 136.2,956.9 136.7,956.9 137.2,956.9 137.7,956.9 138.2,956.9 138.7,956.9 139.2,956.9 139.7,956.9 140.2,956.9 140.7,956.9 141.2,956.9 141.7,956.8 142.2,956.8 142.7,956.8 143.2,956.8 143.7,956.8 144.2,956.8 144.7,956.8 145.2,956.8 145.7,956.8 146.2,956.8 146.7,956.8 147.2,956.8 147.7,956.7 148.2,956.7 148.7,956.7 149.2,956.7 149.7,956.7 150.2,956.7 150.7,956.7 151.2,956.7 151.7,956.7 152.2,956.7 152.7,956.6 153.2,956.6 153.7,956.6 154.2,956.6 154.7,956.6 155.2,956.6 155.7,956.6 156.2,956.6 156.7,956.6 157.2,956.6 157.7,956.6 158.2,956.5 158.7,956.5 159.2,956.5 159.7,956.5 160.2,956.5 160.7,956.5 161.2,956.5 161.7,956.5 162.2,956.5 162.7,956.4 163.2,956.4 163.7,956.4 164.2,956.4 164.7,956.4 165.2,956.4 165.7,956.4 166.2,956.4 166.7,956.4 167.2,956.3 167.7,956.3 168.2,956.3 168.7,956.3 169.2,956.3 169.7,956.3 170.2,956.3 170.7,956.3 171.2,956.3 171.7,956.2 172.2,956.2 172.7,956.2 173.2,956.2 173.7,956.2 174.2,956.2 174.7,956.2 175.2,956.2 175.7,956.1 176.2,956.1 176.7,956.1 177.2,956.1 177.7,956.1 178.2,956.1 178.7,956.1 179.2,956.1 179.7,956 180.2,956 180.7,956 181.2,956 181.7,956 182.2,956 182.7,956 183.2,956 183.7,955.9 184.2,955.9 184.7,955.9 185.2,955.9 185.7,955.9 186.2,955.9 186.7,955.9 187.2,955.8 187.7,955.8 188.2,955.8 188.7,955.8 189.2,955.8 189.7,955.8 190.2,955.8 190.7,955.7 191.2,955.7 191.7,955.7 192.2,955.7 192.7,955.7 193.2,955.7 193.7,955.6 194.2,955.6 194.7,955.6 195.2,955.6 195.7,955.6 196.2,955.6 196.7,955.6 197.2,955.5 197.7,955.5 198.2,955.5 198.7,955.5 199.2,955.5 199.7,955.5 200.2,955.4 200.7,955.4 201.2,955.4 201.7,955.4 202.2,955.4 202.7,955.4 203.2,955.3 203.7,955.3 204.2,955.3 204.7,955.3 205.2,955.3 205.7,955.2 206.2,955.2 206.7,955.2 207.2,955.2 207.7,955.2 208.2,955.2 208.7,955.1 209.2,955.1 209.7,955.1 210.2,955.1 210.7,955.1 211.2,955 211.7,955 212.2,955 212.7,955 213.2,955 213.7,954.9 214.2,954.9 214.7,954.9 215.2,954.9 215.7,954.9 216.2,954.8 216.7,954.8 217.2,954.8 217.7,954.8 218.2,954.8 218.7,954.7 219.2,954.7 219.7,954.7 220.2,954.7 220.7,954.7 221.2,954.6 221.7,954.6 222.2,954.6 222.7,954.6 223.2,954.5 223.7,954.5 224.2,954.5 224.7,954.5 225.2,954.5 225.7,954.4 226.2,954.4 226.7,954.4 227.2,954.4 227.7,954.3 228.2,954.3 228.7,954.3 229.2,954.3 229.7,954.2 230.2,954.2 230.7,954.2 231.2,954.2 231.7,954.1 232.2,954.1 232.7,954.1 233.2,954.1 233.7,954 234.2,954 234.7,954 235.2,954 235.7,953.9 236.2,953.9 236.7,953.9 237.2,953.9 237.7,953.8 238.2,953.8 238.7,953.8 239.2,953.8 239.7,953.7 240.2,953.7 240.7,953.7 241.2,953.6 241.7,953.6 242.2,953.6 242.7,953.6 243.2,953.5 243.7,953.5 244.2,953.5 244.7,953.4 245.2,953.4 245.7,953.4 246.2,953.3 246.7,953.3 247.2,953.3 247.7,953.3 248.2,953.2 248.7,953.2 249.2,953.2 249.7,953.1 250.2,953.1 250.7,953.1 251.2,953 251.7,953 252.2,953 252.7,952.9 253.2,952.9 253.7,952.9 254.2,952.8 254.7,952.8 255.2,952.8 255.7,952.7 256.2,952.7 256.7,952.7 257.2,952.6 257.7,952.6 258.2,952.6 258.7,952.5 259.2,952.5 259.7,952.5 260.2,952.4 260.7,952.4 261.2,952.4 261.7,952.3 262.2,952.3 262.7,952.3 263.2,952.2 263.7,952.2 264.2,952.1 264.7,952.1 265.2,952.1 265.7,952 266.2,952 266.7,952 267.2,951.9 267.7,951.9 268.2,951.8 268.7,951.8 269.2,951.8 269.7,951.7 270.2,951.7 270.7,951.7 271.2,951.6 271.7,951.6 272.2,951.5 272.7,951.5 273.2,951.5 273.7,951.4 274.2,951.4 274.7,951.3 275.2,951.3 275.7,951.3 276.2,951.2 276.7,951.2 277.2,951.1 277.7,951.1 278.2,951.1 278.7,951 279.2,951 279.7,950.9 280.2,950.9 280.7,950.8 281.2,950.8 281.7,950.7 282.2,950.7 282.7,950.6 283.2,950.6 283.7,950.5 284.2,950.5 284.7,950.4 285.2,950.4 285.7,950.3 286.2,950.2 286.7,950.2 287.2,950.1 287.7,950 288.2,949.9 288.7,949.8 289.2,949.7 289.7,949.6 290.2,949.5 290.7,949.4 291.2,949.3 291.7,949.1 292.2,949 292.7,948.8 293.2,948.6 293.7,948.4 294.2,948.2 294.7,947.9 295.2,947.7 295.7,947.4 296.2,947.1 296.7,946.7 297.2,946.3 297.7,945.9 298.2,945.5 298.7,945 299.2,944.5 299.7,943.9 300.2,943.3 300.7,942.6 301.2,941.9 301.7,941.1 302.2,940.2 302.7,939.3 303.2,938.3 303.7,937.3 304.2,936.1 304.7,934.9 305.2,933.7 305.7,932.3 306.2,930.8 306.7,929.3 307.2,927.6 307.7,925.9 308.2,924.1 308.7,922.2 309.2,920.1 309.7,918 310.2,915.8 310.7,913.4 311.2,911 311.7,908.5 312.2,905.8 312.7,903.1 313.2,900.3 313.7,897.4 314.2,894.4 314.7,891.3 315.2,888.1 315.7,884.9 316.2,881.6 316.7,878.2 317.2,874.7 317.7,871.3 318.2,867.7 318.7,864.2 319.2,860.6 319.7,857 320.2,853.4 320.7,849.8 321.2,846.2 321.7,842.7 322.2,839.1 322.7,835.6 323.2,832.2 323.7,828.8 324.2,825.4 324.7,822.2 325.2,819 325.7,815.9 326.2,812.9 326.7,809.9 327.2,807.1 327.7,804.4 328.2,801.8 328.7,799.3 329.2,796.9 329.7,794.6 330.2,792.4 330.7,790.3 331.2,788.3 331.7,786.5 332.2,784.7 332.7,782.9 333.2,781.3 333.7,779.7 334.2,778.2 334.7,776.7 335.2,775.3 335.7,773.9 336.2,772.5 336.7,771.1 337.2,769.7 337.7,768.3 338.2,766.9 338.7,765.5 339.2,764 339.7,762.4 340.2,760.8 340.7,759.1 341.2,757.3 341.7,755.5 342.2,753.5 342.7,751.5 343.2,749.4 343.7,747.2 344.2,744.9 344.7,742.5 345.2,740 345.7,737.4 346.2,734.7 346.7,732 347.2,729.2 347.7,726.4 348.2,723.5 348.7,720.7 349.2,717.7 349.7,714.8 350.2,712 350.7,709.1 351.2,706.3 351.7,703.6 352.2,700.9 352.7,698.3 353.2,695.9 353.7,693.6 354.2,691.4 354.7,689.4 355.2,687.6 355.7,685.9 356.2,684.5 356.7,683.3 357.2,682.3 357.7,681.5 358.2,681 358.7,680.7 359.2,680.6 359.7,680.8 360.2,681.3 360.7,682 361.2,682.9 361.7,684.1 362.2,685.5 362.7,687.1 363.2,689 363.7,691 364.2,693.3 364.7,695.7 365.2,698.2 365.7,701 366.2,703.8 366.7,706.8 367.2,709.8 367.7,712.9 368.2,716.1 368.7,719.3 369.2,722.6 369.7,725.8 370.2,729 370.7,732.1 371.2,735.2 371.7,738.3 372.2,741.2 372.7,744 373.2,746.7 373.7,749.3 374.2,751.7 374.7,754 375.2,756.1 375.7,758.1 376.2,759.8 376.7,761.4 377.2,762.8 377.7,764 378.2,765 378.7,765.8 379.2,766.4 379.7,766.8 380.2,767.1 380.7,767.2 381.2,767.1 381.7,766.9 382.2,766.5 382.7,766 383.2,765.3 383.7,764.6 384.2,763.7 384.7,762.8 385.2,761.7 385.7,760.7 386.2,759.5 386.7,758.3 387.2,757.2 387.7,756 388.2,754.8 388.7,753.6 389.2,752.5 389.7,751.4 390.2,750.4 390.7,749.5 391.2,748.7 391.7,747.9 392.2,747.3 392.7,746.8 393.2,746.4 393.7,746.1 394.2,746 394.7,746.1 395.2,746.3 395.7,746.7 396.2,747.2 396.7,747.9 397.2,748.8 397.7,749.9 398.2,751.1 398.7,752.5 399.2,754.1 399.7,755.8 400.2,757.7 400.7,759.8 401.2,762 401.7,764.4 402.2,766.9 402.7,769.6 403.2,772.4 403.7,775.4 404.2,778.4 404.7,781.6 405.2,784.9 405.7,788.3 406.2,791.8 406.7,795.3 407.2,799 407.7,802.7 408.2,806.4 408.7,810.2 409.2,814 409.7,817.9 410.2,821.8 410.7,825.6 411.2,829.5 411.7,833.4 412.2,837.3 412.7,841.1 413.2,844.9 413.7,848.7 414.2,852.4 414.7,856.1 415.2,859.7 415.7,863.3 416.2,866.8 416.7,870.2 417.2,873.6 417.7,876.8 418.2,880 418.7,883.2 419.2,886.2 419.7,889.1 420.2,892 420.7,894.7 421.2,897.4 421.7,900 422.2,902.4 422.7,904.8 423.2,907.1 423.7,909.3 424.2,911.4 424.7,913.4 425.2,915.4 425.7,917.2 426.2,919 426.7,920.6 427.2,922.2 427.7,923.7 428.2,925.2 428.7,926.5 429.2,927.8 429.7,929 430.2,930.2 430.7,931.2 431.2,932.3 431.7,933.2 432.2,934.1 432.7,934.9 433.2,935.7 433.7,936.5 434.2,937.2 434.7,937.8 435.2,938.4 435.7,939 436.2,939.5 436.7,940 437.2,940.5 437.7,940.9 438.2,941.3 438.7,941.6 439.2,942 439.7,942.3 440.2,942.6 440.7,942.9 441.2,943.1 441.7,943.3 442.2,943.5 442.7,943.7 443.2,943.9 443.7,944.1 444.2,944.3 444.7,944.4 445.2,944.5 445.7,944.7 446.2,944.8 446.7,944.9 447.2,945 447.7,945.1 448.2,945.2 448.7,945.3 449.2,945.4 449.7,945.4 450.2,945.5 450.7,945.6 451.2,945.6 451.7,945.7 452.2,945.8 452.7,945.8 453.2,945.9 453.7,945.9 454.2,946 454.7,946 455.2,946.1 455.7,946.1 456.2,946.1 456.7,946.2 457.2,946.2 457.7,946.3 458.2,946.3 458.7,946.4 459.2,946.4 459.7,946.4 460.2,946.5 460.7,946.5 461.2,946.5 461.7,946.6 462.2,946.6 462.7,946.7 463.2,946.7 463.7,946.7 464.2,946.8 464.7,946.8 465.2,946.8 465.7,946.9 466.2,946.9 466.7,947 467.2,947 467.7,947 468.2,947.1 468.7,947.1 469.2,947.1 469.7,947.2 470.2,947.2 470.7,947.2 471.2,947.3 471.7,947.3 472.2,947.4 472.7,947.4 473.2,947.4 473.7,947.5 474.2,947.5 474.7,947.5 475.2,947.6 475.7,947.6 476.2,947.6 476.7,947.7 477.2,947.7 477.7,947.7 478.2,947.8 478.7,947.8 479.2,947.9 479.7,947.9 480.2,947.9 480.7,948 481.2,948 481.7,948 482.2,948.1 482.7,948.1 483.2,948.1 483.7,948.2 484.2,948.2 484.7,948.2 485.2,948.3 485.7,948.3 486.2,948.3 486.7,948.4 487.2,948.4 487.7,948.4 488.2,948.5 488.7,948.5 489.2,948.5 489.7,948.6 490.2,948.6 490.7,948.6 491.2,948.7 491.7,948.7 492.2,948.7 492.7,948.8 493.2,948.8 493.7,948.8 494.2,948.9 494.7,948.9 495.2,948.9 495.7,949 496.2,949 496.7,949 497.2,949.1 497.7,949.1 498.2,949.1 498.7,949.2 499.2,949.2 499.7,949.2 500.2,949.3 500.7,949.3 501.2,949.3 501.7,949.4 502.2,949.4 502.7,949.4 503.2,949.5 503.7,949.5 504.2,949.5 504.7,949.6 505.2,949.6 505.7,949.6 506.2,949.7 506.7,949.7 507.2,949.7 507.7,949.8 508.2,949.8 508.7,949.8 509.2,949.8 509.7,949.9 510.2,949.9 510.7,949.9 511.2,950 511.7,950 512.2,950 512.7,950.1 513.2,950.1 513.7,950.1 514.2,950.1 514.7,950.2 515.2,950.2 515.7,950.2 516.2,950.3 516.7,950.3 517.2,950.3 517.7,950.4 518.2,950.4 518.7,950.4 519.2,950.4 519.7,950.5 520.2,950.5 520.7,950.5 521.2,950.6 521.7,950.6 522.2,950.6 522.7,950.6 523.2,950.7 523.7,950.7 524.2,950.7 524.7,950.8 525.2,950.8 525.7,950.8 526.2,950.8 526.7,950.9 527.2,950.9 527.7,950.9 528.2,950.9 528.7,951 529.2,951 529.7,951 530.2,951.1" fill="none" stroke="#800080" stroke-width="1.35" stroke-linejoin="round" />
<polyline points="546.4,957.9 546.9,957.9 547.4,957.9 547.9,957.9 548.4,957.9 548.9,957.9 549.4,957.9 549.9,957.9 550.4,957.9 550.9,957.9 551.4,957.9 551.9,957.9 552.4,957.9 552.9,957.9 553.4,957.9 553.9,957.9 554.4,957.9 554.9,957.9 555.4,957.9 555.9,957.9 556.4,957.8 556.9,957.8 557.4,957.8 557.9,957.8 558.4,957.8 558.9,957.8 559.4,957.8 559.9,957.8 560.4,957.8 560.9,957.8 561.4,957.8 561.9,957.8 562.4,957.8 562.9,957.8 563.4,957.7 563.9,957.7 564.4,957.7 564.9,957.7 565.4,957.7 565.9,957.7 566.4,957.6 566.9,957.6 567.4,957.6 567.9,957.6 568.4,957.5 568.9,957.5 569.4,957.5 569.9,957.4 570.4,957.4 570.9,957.4 571.4,957.3 571.9,957.3 572.4,957.2 572.9,957.2 573.4,957.1 573.9,957.1 574.4,957 574.9,956.9 575.4,956.9 575.9,956.8 576.4,956.7 576.9,956.7 577.4,956.6 577.9,956.5 578.4,956.4 578.9,956.3 579.4,956.2 579.9,956.2 580.4,956.1 580.9,956 581.4,955.9 581.9,955.8 582.4,955.7 582.9,955.6 583.4,955.5 583.9,955.3 584.4,954.9 584.9,954.6 585.4,954.2 585.9,953.8 586.4,953.4 586.9,953 587.4,952.6 587.9,952.1 588.4,951.6 588.9,951.1 589.4,950.6 589.9,950 590.4,949.4 590.9,948.8 591.4,948.1 591.9,947.4 592.4,946.7 592.9,945.8 593.4,945 593.9,944 594.4,943 594.9,941.9 595.4,940.7 595.9,939.5 596.4,938.1 596.9,936.6 597.4,935 597.9,933.2 598.4,931.4 598.9,929.3 599.4,927.2 599.9,924.9 600.4,922.5 600.9,919.9 601.4,917.2 601.9,914.4 602.4,911.6 602.9,908.6 603.4,905.6 603.9,902.5 604.4,899.4 604.9,896.4 605.4,893.4 605.9,890.4 606.4,887.6 606.9,885 607.4,882.5 607.9,880.2 608.4,878.2 608.9,876.4 609.4,874.8 609.9,873.6 610.4,872.6 610.9,871.9 611.4,871.5 611.9,871.3 612.4,871.5 612.9,871.8 613.4,872.4 613.9,873.1 614.4,874.1 614.9,875.1 615.4,876.3 615.9,877.5 616.4,878.8 616.9,880.1 617.4,881.4 617.9,882.7 618.4,883.9 618.9,885 619.4,886.1 619.9,887 620.4,887.9 620.9,888.7 621.4,889.3 621.9,889.8 622.4,890.3 622.9,890.6 623.4,890.9 623.9,891 624.4,891.1 624.9,891.2 625.4,891.1 625.9,891 626.4,890.9 626.9,890.8 627.4,890.6 627.9,890.4 628.4,890.2 628.9,890 629.4,889.8 629.9,889.6 630.4,889.5 630.9,889.3 631.4,889.2 631.9,889 632.4,889 632.9,888.9 633.4,888.9 633.9,888.9 634.4,888.9 634.9,888.9 635.4,889 635.9,889.1 636.4,889.3 636.9,889.5 637.4,889.7 637.9,889.9 638.4,890.2 638.9,890.5 639.4,890.8 639.9,891.2 640.4,891.6 640.9,892 641.4,892.4 641.9,892.9 642.4,893.4 642.9,893.9 643.4,894.5 643.9,895.1 644.4,895.7 644.9,896.3 645.4,896.9 645.9,897.6 646.4,898.3 646.9,899 647.4,899.7 647.9,900.4 648.4,901.2 648.9,902 649.4,902.7 649.9,903.5 650.4,904.3 650.9,905.1 651.4,906 651.9,906.8 652.4,907.6 652.9,908.5 653.4,909.3 653.9,910.2 654.4,911 654.9,911.9 655.4,912.8 655.9,913.6 656.4,914.5 656.9,915.3 657.4,916.2 657.9,917.1 658.4,917.9 658.9,918.7 659.4,919.6 659.9,920.4 660.4,921.2 660.9,922.1 661.4,922.9 661.9,923.7 662.4,924.4 662.9,925.2 663.4,926 663.9,926.7 664.4,927.5 664.9,928.2 665.4,928.9 665.9,929.6 666.4,930.3 666.9,931 667.4,931.6 667.9,932.3 668.4,932.9 668.9,933.5 669.4,934.1 669.9,934.7 670.4,935.3 670.9,935.8 671.4,936.3 671.9,936.9 672.4,937.4 672.9,937.8 673.4,938.3 673.9,938.8 674.4,939.2 674.9,939.6 675.4,940 675.9,940.4 676.4,940.8 676.9,941.2 677.4,941.5 677.9,941.8 678.4,942.2 678.9,942.5 679.4,942.8 679.9,943 680.4,943.3 680.9,943.5 681.4,943.8 681.9,944 682.4,944.2 682.9,944.4 683.4,944.6 683.9,944.8 684.4,944.9 684.9,945.1 685.4,945.2 685.9,945.4 686.4,945.5 686.9,945.6 687.4,945.7 687.9,945.8 688.4,945.9 688.9,946 689.4,946.1 689.9,946.1 690.4,946.2 690.9,946.2 691.4,946.3 691.9,946.3 692.4,946.3 692.9,946.4 693.4,946.4 693.9,946.4 694.4,946.4 694.9,946.4 695.4,946.4 695.9,946.4 696.4,946.4 696.9,946.4 697.4,946.4 697.9,946.3 698.4,946.3 698.9,946.3 699.4,946.3 699.9,946.2 700.4,946.2 700.9,946.2 701.4,946.1 701.9,946.1 702.4,946.1 702.9,946 703.4,946 703.9,946 704.4,945.9 704.9,945.9 705.4,945.8 705.9,945.8 706.4,945.7 706.9,945.7 707.4,945.6 707.9,945.6 708.4,945.6 708.9,945.5 709.4,945.5 709.9,945.4 710.4,945.4 710.9,945.3 711.4,945.3 711.9,945.3 712.4,945.2 712.9,945.2 713.4,945.2 713.9,945.1 714.4,945.1 714.9,945 715.4,945 715.9,945 716.4,944.9 716.9,944.9 717.4,944.9 717.9,944.9 718.4,944.8 718.9,944.8 719.4,944.8 719.9,944.8 720.4,944.7 720.9,944.7 721.4,944.7 721.9,944.7 722.4,944.7 722.9,944.7 723.4,944.6 723.9,944.6 724.4,944.6 724.9,944.6 725.4,944.6 725.9,944.5 726.4,944.5 726.9,944.5 727.4,944.5 727.9,944.5 728.4,944.4 728.9,944.4 729.4,944.4 729.9,944.3 730.4,944.3 730.9,944.3 731.4,944.2 731.9,944.2 732.4,944.2 732.9,944.1 733.4,944.1 733.9,944 734.4,944 734.9,944 735.4,943.9 735.9,943.8 736.4,943.8 736.9,943.7 737.4,943.6 737.9,943.6 738.4,943.5 738.9,943.4 739.4,943.3 739.9,943.2 740.4,943.1 740.9,943 741.4,942.9 741.9,942.8 742.4,942.6 742.9,942.5 743.4,942.3 743.9,942.2 744.4,942 744.9,941.8 745.4,941.6 745.9,941.4 746.4,941.1 746.9,940.9 747.4,940.6 747.9,940.3 748.4,940 748.9,939.6 749.4,939.3 749.9,938.9 750.4,938.5 750.9,938.1 751.4,937.6 751.9,937.2 752.4,936.7 752.9,936.3 753.4,935.8 753.9,935.4 754.4,935 754.9,934.6 755.4,934.3 755.9,934 756.4,933.9 756.9,933.8 757.4,933.7 757.9,933.8 758.4,934 758.9,934.2 759.4,934.5 759.9,934.9 760.4,935.3 760.9,935.7 761.4,936.2 761.9,936.7 762.4,937.2 762.9,937.7 763.4,938.2 763.9,938.7 764.4,939.1 764.9,939.6 765.4,940 765.9,940.4 766.4,940.8 766.9,941.2 767.4,941.5 767.9,941.8 768.4,942.1 768.9,942.4 769.4,942.7 769.9,942.9 770.4,943.2 770.9,943.4 771.4,943.6 771.9,943.8 772.4,944 772.9,944.2 773.4,944.4 773.9,944.5 774.4,944.7 774.9,944.8 775.4,944.9 775.9,945.1 776.4,945.2 776.9,945.3 777.4,945.4 777.9,945.6 778.4,945.7 778.9,945.8 779.4,945.9 779.9,946 780.4,946.1 780.9,946.1 781.4,946.2 781.9,946.3 782.4,946.4 782.9,946.5 783.4,946.5 783.9,946.6 784.4,946.7 784.9,946.8 785.4,946.8 785.9,946.9 786.4,947 786.9,947 787.4,947.1 787.9,947.2 788.4,947.2 788.9,947.3 789.4,947.4 789.9,947.4 790.4,947.5 790.9,947.5 791.4,947.6 791.9,947.6 792.4,947.7 792.9,947.8 793.4,947.8 793.9,947.9 794.4,947.9 794.9,948 795.4,948 795.9,948.1 796.4,948.1 796.9,948.2 797.4,948.2 797.9,948.3 798.4,948.3 798.9,948.4 799.4,948.4 799.9,948.5 800.4,948.5 800.9,948.6 801.4,948.6 801.9,948.7 802.4,948.7 802.9,948.8 803.4,948.8 803.9,948.9 804.4,948.9 804.9,949 805.4,949 805.9,949.1 806.4,949.1 806.9,949.2 807.4,949.2 807.9,949.2 808.4,949.3 808.9,949.3 809.4,949.4 809.9,949.4 810.4,949.5 810.9,949.5 811.4,949.6 811.9,949.6 812.4,949.6 812.9,949.7 813.4,949.7 813.9,949.8 814.4,949.8 814.9,949.9 815.4,949.9 815.9,949.9 816.4,950 816.9,950 817.4,950.1 817.9,950.1 818.4,950.1 818.9,950.2 819.4,950.2 819.9,950.3 820.4,950.3 820.9,950.3 821.4,950.4 821.9,950.4 822.4,950.4 822.9,950.5 823.4,950.5 823.9,950.5 824.4,950.6 824.9,950.6 825.4,950.6 825.9,950.7 826.4,950.7 826.9,950.7 827.4,950.7 827.9,950.8 828.4,950.8 828.9,950.8 829.4,950.8 829.9,950.8 830.4,950.8 830.9,950.8 831.4,950.8 831.9,950.8 832.4,950.8 832.9,950.8 833.4,950.8 833.9,950.8 834.4,950.7 834.9,950.7 835.4,950.6 835.9,950.6 836.4,950.5 836.9,950.4 837.4,950.3 837.9,950.2 838.4,950 838.9,949.9 839.4,949.7 839.9,949.6 840.4,949.4 840.9,949.1 841.4,948.9 841.9,948.6 842.4,948.3 842.9,948 843.4,947.6 843.9,947.2 844.4,946.8 844.9,946.3 845.4,945.8 845.9,945.3 846.4,944.7 846.9,944 847.4,943.3 847.9,942.6 848.4,941.8 848.9,941 849.4,940.2 849.9,939.3 850.4,938.3 850.9,937.3 851.4,936.3 851.9,935.3 852.4,934.2 852.9,933.1 853.4,932 853.9,930.9 854.4,929.7 854.9,928.6 855.4,927.5 855.9,926.3 856.4,925.2 856.9,924.2 857.4,923.1 857.9,922.1 858.4,921.1 858.9,920.2 859.4,919.4 859.9,918.5 860.4,917.8 860.9,917.1 861.4,916.5 861.9,916 862.4,915.6 862.9,915.2 863.4,914.9 863.9,914.7 864.4,914.5 864.9,914.5 865.4,914.5 865.9,914.5 866.4,914.7 866.9,914.9 867.4,915.2 867.9,915.5 868.4,915.8 868.9,916.2 869.4,916.6 869.9,917.1 870.4,917.6 870.9,918.1 871.4,918.6 871.9,919.1 872.4,919.6 872.9,920.1 873.4,920.5 873.9,921 874.4,921.4 874.9,921.8 875.4,922.2 875.9,922.5 876.4,922.8 876.9,923.1 877.4,923.3 877.9,923.6 878.4,923.7 878.9,923.8 879.4,923.9 879.9,924 880.4,924 880.9,924 881.4,923.9 881.9,923.9 882.4,923.7 882.9,923.6 883.4,923.5 883.9,923.3 884.4,923.1 884.9,922.9 885.4,922.6 885.9,922.4 886.4,922.1 886.9,921.9 887.4,921.6 887.9,921.3 888.4,921.1 888.9,920.8 889.4,920.5 889.9,920.3 890.4,920 890.9,919.8 891.4,919.5 891.9,919.3 892.4,919.1 892.9,918.9 893.4,918.7 893.9,918.5 894.4,918.4 894.9,918.3 895.4,918.1 895.9,918 896.4,918 896.9,917.9 897.4,917.9 897.9,917.8 898.4,917.8 898.9,917.9 899.4,917.9 899.9,918 900.4,918 900.9,918.1 901.4,918.3 901.9,918.4 902.4,918.6 902.9,918.7 903.4,918.9 903.9,919.2 904.4,919.4 904.9,919.6 905.4,919.9 905.9,920.2 906.4,920.5 906.9,920.9 907.4,921.2 907.9,921.6 908.4,921.9 908.9,922.3 909.4,922.7 909.9,923.1 910.4,923.6 910.9,924 911.4,924.5 911.9,924.9 912.4,925.4 912.9,925.9 913.4,926.4 913.9,926.9 914.4,927.4 914.9,927.9 915.4,928.5 915.9,929 916.4,929.5 916.9,930.1 917.4,930.6 917.9,931.2 918.4,931.7 918.9,932.3 919.4,932.8 919.9,933.4 920.4,933.9 920.9,934.5 921.4,935.1 921.9,935.6 922.4,936.2 922.9,936.7 923.4,937.3 923.9,937.8 924.4,938.3 924.9,938.9 925.4,939.4 925.9,939.9 926.4,940.4 926.9,941 927.4,941.5 927.9,942 928.4,942.4 928.9,942.9 929.4,943.4 929.9,943.9 930.4,944.3 930.9,944.8 931.4,945.2 931.9,945.7 932.4,946.1 932.9,946.5 933.4,946.9 933.9,947.3 934.4,947.7 934.9,948.1 935.4,948.5 935.9,948.8 936.4,949.2 936.9,949.5 937.4,949.9 937.9,950.2 938.4,950.5 938.9,950.8 939.4,951.1 939.9,951.4 940.4,951.7 940.9,951.9 941.4,952.2 941.9,952.5 942.4,952.7 942.9,952.9 943.4,953.2 943.9,953.4 944.4,953.6 944.9,953.8 945.4,954 945.9,954.2 946.4,954.4 946.9,954.5 947.4,954.7 947.9,954.9 948.4,955 948.9,955.2 949.4,955.3 949.9,955.4 950.4,955.6 950.9,955.7 951.4,955.8 951.9,955.9 952.4,956 952.9,956.1 953.4,956.2 953.9,956.3 954.4,956.4 954.9,956.5 955.4,956.6 955.9,956.7 956.4,956.7 956.9,956.8 957.4,956.9 957.9,956.9 958.4,957 958.9,957 959.4,957.1 959.9,957.1 960.4,957.2 960.9,957.2 961.4,957.3 961.9,957.3 962.4,957.3 962.9,957.4 963.4,957.4 963.9,957.4 964.4,957.5 964.9,957.5 965.4,957.5 965.9,957.6 966.4,957.6 966.9,957.6 967.4,957.6 967.9,957.6 968.4,957.7 968.9,957.7 969.4,957.7 969.9,957.7 970.4,957.7 970.9,957.7 971.4,957.7 971.9,957.7 972.4,957.8 972.9,957.8 973.4,957.8 973.9,957.8 974.4,957.8 974.9,957.8 975.4,957.8 975.9,957.8 976.4,957.8 976.9,957.8 977.4,957.8 977.9,957.8 978.4,957.8 978.9,957.8 979.4,957.8 979.9,957.8 980.4,957.8 980.9,957.9 981.4,957.9 981.9,957.9 982.4,957.9 982.9,957.9 983.4,957.9 983.9,957.9 984.4,957.9 984.9,957.9 985.4,957.9 985.9,957.9 986.4,957.9 986.9,957.9 987.4,957.9 987.9,957.9 988.4,957.9 988.9,957.9 989.4,957.9 989.9,957.9 990.4,957.9 990.9,957.9 991.4,957.9 991.9,957.9 992.4,957.9 992.9,957.9 993.4,957.9 993.9,957.9 994.4,957.9 994.9,957.9 995.4,957.9 995.9,957.9 996.4,957.9 996.9,957.9 997.4,957.9 997.9,957.9 998.4,957.9 998.9,957.9 999.4,957.9 999.9,957.9 1000.4,957.9 1000.9,957.9 1001.4,957.9 1001.9,957.9 1002.4,957.9 1002.9,957.9 1003.4,957.9 1003.9,957.9 1004.4,957.9 1004.9,957.9 1005.4,957.9 1005.9,957.9 1006.4,957.9 1006.9,957.9 1007.4,957.9 1007.9,957.9 1008.4,957.9 1008.9,957.9 1009.4,957.9 1009.9,957.9 1010.4,957.9 1010.9,957.9 1011.4,957.9 1011.9,957.9 1012.4,957.9" fill="none" stroke="#800080" stroke-width="1.35" stroke-linejoin="round" />
<line x1="538.4" y1="322.6" x2="538.4" y2="329.4" stroke="#1a1aff" stroke-width="1.1"/>
<g stroke="#000" stroke-width="2.4" fill="none" stroke-linecap="butt">
<line x1="63" y1="12.9" x2="530.2" y2="12.9"/>
<line x1="546.5" y1="12.9" x2="1014.2" y2="12.9"/>
<line x1="64.2" y1="12.9" x2="64.2" y2="960"/>
<line x1="1013" y1="12.9" x2="1013" y2="960"/>
<line x1="64.2" y1="960" x2="64.2" y2="972"/>
<line x1="141.9" y1="960" x2="141.9" y2="966"/>
<line x1="219.6" y1="960" x2="219.6" y2="966"/>
<line x1="297.3" y1="960" x2="297.3" y2="966"/>
<line x1="375" y1="960" x2="375" y2="966"/>
<line x1="452.7" y1="960" x2="452.7" y2="972"/>
<line x1="546.6" y1="960" x2="546.6" y2="966"/>
<line x1="582.4" y1="960" x2="582.4" y2="966"/>
<line x1="618.3" y1="960" x2="618.3" y2="966"/>
<line x1="654.2" y1="960" x2="654.2" y2="972"/>
<line x1="690.1" y1="960" x2="690.1" y2="966"/>
<line x1="726" y1="960" x2="726" y2="966"/>
<line x1="761.8" y1="960" x2="761.8" y2="966"/>
<line x1="797.7" y1="960" x2="797.7" y2="966"/>
<line x1="833.6" y1="960" x2="833.6" y2="972"/>
<line x1="869.5" y1="960" x2="869.5" y2="966"/>
<line x1="905.4" y1="960" x2="905.4" y2="966"/>
<line x1="941.2" y1="960" x2="941.2" y2="966"/>
<line x1="977.1" y1="960" x2="977.1" y2="966"/>
<line x1="1013" y1="960" x2="1013" y2="972"/>
</g>
<g stroke="#000" stroke-width="3.0" fill="none" stroke-linecap="butt">
<line x1="521.9" y1="25.2" x2="538.4" y2="0.6"/>
<line x1="538.4" y1="25.2" x2="554.9" y2="0.6"/>
<line x1="521.9" y1="340.7" x2="538.4" y2="316.1"/>
<line x1="538.4" y1="340.7" x2="554.9" y2="316.1"/>
<line x1="521.9" y1="656.3" x2="538.4" y2="631.7"/>
<line x1="538.4" y1="656.3" x2="554.9" y2="631.7"/>
<line x1="521.9" y1="972.3" x2="538.4" y2="947.7"/>
<line x1="538.4" y1="972.3" x2="554.9" y2="947.7"/>
</g>
<rect x="81.3" y="37.4" width="12.4" height="12.4" fill="#000"/>
<text transform="translate(100.3 51.6) scale(1.035 1.08)" font-size="20.6">CdSe<tspan font-size="11.5" dy="5.9">x</tspan><tspan dy="-5.9">Te</tspan><tspan font-size="11.5" dy="5.9">1-x</tspan><tspan dy="-5.9">(C)</tspan></text>
<g fill="none" stroke="#000" stroke-width="1.8">
<rect x="86.7" y="73.5" width="4.3" height="4.3"/>
<circle cx="84.3" cy="71.1" r="2.3"/>
<circle cx="93.3" cy="71.1" r="2.3"/>
<circle cx="93.3" cy="80.1" r="2.3"/>
<circle cx="84.3" cy="80.1" r="2.3"/>
</g>
<text transform="translate(98.4 82.8) scale(1.045 1.08)" font-size="20.6">CdTe(C)</text>
<rect x="73.3" y="352.3" width="12.4" height="12.4" fill="#000"/>
<text transform="translate(92.4 366.5) scale(1.035 1.08)" font-size="20.6">CdSe<tspan font-size="11.5" dy="5.9">x</tspan><tspan dy="-5.9">Te</tspan><tspan font-size="11.5" dy="5.9">1-x</tspan><tspan dy="-5.9">(C)</tspan></text>
<rect x="74.4" y="383.6" width="13.4" height="13.4" fill="#fff" stroke="#000" stroke-width="2.0"/>
<path d="M77.8 387.4L84.4 393.2M77.8 393.2L84.4 387.4" stroke="#000" stroke-width="2.7" stroke-linecap="round" fill="none"/>
<circle cx="77.8" cy="387.4" r="1.5" fill="#000"/>
<circle cx="84.4" cy="387.4" r="1.5" fill="#000"/>
<circle cx="84.4" cy="393.2" r="1.5" fill="#000"/>
<circle cx="77.8" cy="393.2" r="1.5" fill="#000"/>
<text transform="translate(90.8 397.6) scale(1.034 1.08)" font-size="20.6">CdTe(Te-rich)</text>
<rect x="73.3" y="665.6" width="12.4" height="12.4" fill="#000"/>
<text transform="translate(92.4 678.6) scale(1.035 1.08)" font-size="20.6">CdSe<tspan font-size="11.5" dy="5.9">x</tspan><tspan dy="-5.9">Te</tspan><tspan font-size="11.5" dy="5.9">1-x</tspan><tspan dy="-5.9">(C)</tspan></text>
<rect x="74.8" y="696.9" width="12.6" height="12.6" fill="#fff" stroke="#000" stroke-width="3.0"/>
<text transform="translate(95.2 710.9) scale(1.035 1.08)" font-size="20.6">CdSe<tspan font-size="11.5" dy="5.9">y</tspan><tspan dy="-5.9">Te</tspan><tspan font-size="11.5" dy="5.9">1-y</tspan><tspan dy="-5.9">(C)</tspan></text>
<rect x="74.4" y="728.3" width="13.4" height="13.4" fill="#fff" stroke="#000" stroke-width="2.0"/>
<path d="M77.8 732.1L84.4 737.9M77.8 737.9L84.4 732.1" stroke="#000" stroke-width="2.7" stroke-linecap="round" fill="none"/>
<circle cx="77.8" cy="732.1" r="1.5" fill="#000"/>
<circle cx="84.4" cy="732.1" r="1.5" fill="#000"/>
<circle cx="84.4" cy="737.9" r="1.5" fill="#000"/>
<circle cx="77.8" cy="737.9" r="1.5" fill="#000"/>
<text transform="translate(90.8 742.4) scale(1.034 1.08)" font-size="20.6">CdTe(Te-rich)</text>
<text x="79" y="299" font-size="30" font-weight="bold">c)</text>
<text x="76.6" y="623.8" font-size="30" font-weight="bold">b)</text>
<text x="73.8" y="938.7" font-size="30" font-weight="bold">a)</text>
<line x1="666.5" y1="40" x2="739.6" y2="40" stroke="#2222ff" stroke-width="1.4"/>
<text x="747" y="51.2" font-size="32.8">CST(250)/CT at 3°</text>
<line x1="666.5" y1="80.2" x2="739.6" y2="80.2" stroke="#008080" stroke-width="1.4"/>
<text x="747" y="91.4" font-size="32.8">Fit Peak</text>
<line x1="666.5" y1="120.4" x2="739.6" y2="120.4" stroke="#ff1a8c" stroke-width="1.4"/>
<text x="747" y="131.6" font-size="32.8">Cum. Fit</text>
<line x1="666.5" y1="357" x2="739.6" y2="357" stroke="#ff0000" stroke-width="1.4"/>
<text x="747" y="368.2" font-size="32.8">CST(250)/CT at 1°</text>
<line x1="666.5" y1="397.2" x2="739.6" y2="397.2" stroke="#000080" stroke-width="1.4"/>
<text x="747" y="408.4" font-size="32.8">Fit Peak</text>
<line x1="666.5" y1="437.4" x2="739.6" y2="437.4" stroke="#00ffff" stroke-width="1.4"/>
<text x="747" y="448.6" font-size="32.8">Cum. Fit</text>
<line x1="642" y1="673" x2="714.5" y2="673" stroke="#000000" stroke-width="1.4"/>
<text x="722.4" y="684.2" font-size="32.8">CST(250)/CT at 0.5°</text>
<line x1="642" y1="713.2" x2="714.5" y2="713.2" stroke="#808000" stroke-width="1.4"/>
<text x="722.4" y="724.4" font-size="32.8">Fit Peak</text>
<line x1="642" y1="753.4" x2="714.5" y2="753.4" stroke="#800080" stroke-width="1.4"/>
<text x="722.4" y="764.6" font-size="32.8">Cum. Fit</text>
<text transform="translate(64.2 1001) scale(1.09 1)" font-size="26.4" text-anchor="middle">20</text>
<text transform="translate(452.7 1001) scale(1.09 1)" font-size="26.4" text-anchor="middle">25</text>
<text transform="translate(654.2 1001) scale(1.09 1)" font-size="26.4" text-anchor="middle">40</text>
<text transform="translate(833.6 1001) scale(1.09 1)" font-size="26.4" text-anchor="middle">45</text>
<text transform="translate(1013 1001) scale(1.09 1)" font-size="26.4" text-anchor="middle">50</text>
<text transform="translate(538.4 1057.8) scale(1.035 1)" font-size="32.4" text-anchor="middle">2θ (degree)</text>
<text transform="translate(22.6 515) rotate(-90)" font-size="33.2" text-anchor="middle">Intensity (a.u.)</text>
</svg>
</body></html>
